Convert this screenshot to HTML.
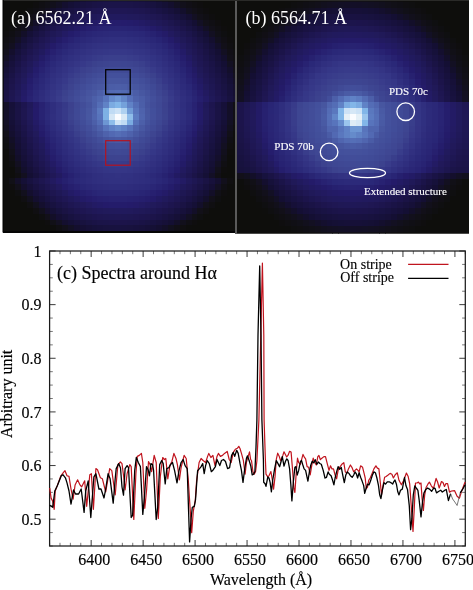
<!DOCTYPE html>
<html><head><meta charset="utf-8"><title>Spectra</title>
<style>
html,body{margin:0;padding:0;background:#fff;width:473px;height:590px;overflow:hidden}
svg{position:absolute;left:0;top:0;display:block}
text{font-family:"Liberation Serif",serif}
</style></head><body>
<svg width="473" height="590" viewBox="0 0 473 590" shape-rendering="crispEdges">
<defs>
<clipPath id="ca"><rect x="0.5" y="0" width="232" height="232.5"/></clipPath>
<clipPath id="cb"><rect x="0" y="0" width="232.2" height="233.6"/></clipPath>
</defs>
<rect x="0" y="0" width="473" height="590" fill="#fff"/>
<g transform="translate(2.5,0)" clip-path="url(#ca)">
<rect x="0" y="0" width="232.5" height="232.5" fill="#0e0e0c"/>
<rect x="-4.98" y="-3.88" width="41.46" height="6.18" fill="#0e0e0c"/><rect x="36.18" y="-3.88" width="6.18" height="6.18" fill="#0e0e0e"/><rect x="42.06" y="-3.88" width="6.18" height="6.18" fill="#0f0f11"/><rect x="47.94" y="-3.88" width="6.18" height="6.18" fill="#100f14"/><rect x="53.82" y="-3.88" width="6.18" height="6.18" fill="#111018"/><rect x="59.70" y="-3.88" width="6.18" height="6.18" fill="#12101c"/><rect x="65.58" y="-3.88" width="6.18" height="6.18" fill="#131023"/><rect x="71.46" y="-3.88" width="6.18" height="6.18" fill="#130f2b"/><rect x="77.34" y="-3.88" width="6.18" height="6.18" fill="#140f32"/><rect x="83.22" y="-3.88" width="6.18" height="6.18" fill="#151036"/><rect x="89.10" y="-3.88" width="6.18" height="6.18" fill="#161039"/><rect x="94.98" y="-3.88" width="6.18" height="6.18" fill="#17113b"/><rect x="100.86" y="-3.88" width="6.18" height="6.18" fill="#17113d"/><rect x="106.74" y="-3.88" width="17.94" height="6.18" fill="#17123e"/><rect x="124.38" y="-3.88" width="6.18" height="6.18" fill="#17113d"/><rect x="130.26" y="-3.88" width="6.18" height="6.18" fill="#17113b"/><rect x="136.14" y="-3.88" width="6.18" height="6.18" fill="#161039"/><rect x="142.02" y="-3.88" width="6.18" height="6.18" fill="#151036"/><rect x="147.90" y="-3.88" width="6.18" height="6.18" fill="#140f32"/><rect x="153.78" y="-3.88" width="6.18" height="6.18" fill="#130f2b"/><rect x="159.66" y="-3.88" width="6.18" height="6.18" fill="#131022"/><rect x="165.54" y="-3.88" width="6.18" height="6.18" fill="#12101c"/><rect x="171.42" y="-3.88" width="6.18" height="6.18" fill="#111018"/><rect x="177.30" y="-3.88" width="6.18" height="6.18" fill="#100f14"/><rect x="183.18" y="-3.88" width="6.18" height="6.18" fill="#0f0f11"/><rect x="189.06" y="-3.88" width="6.18" height="6.18" fill="#0e0e0d"/><rect x="194.94" y="-3.88" width="41.46" height="6.18" fill="#0e0e0c"/><rect x="-4.98" y="2.00" width="35.58" height="6.18" fill="#0e0e0c"/><rect x="30.30" y="2.00" width="6.18" height="6.18" fill="#0f0e0f"/><rect x="36.18" y="2.00" width="6.18" height="6.18" fill="#100f13"/><rect x="42.06" y="2.00" width="6.18" height="6.18" fill="#111017"/><rect x="47.94" y="2.00" width="6.18" height="6.18" fill="#12101c"/><rect x="53.82" y="2.00" width="6.18" height="6.18" fill="#131024"/><rect x="59.70" y="2.00" width="6.18" height="6.18" fill="#140f2f"/><rect x="65.58" y="2.00" width="6.18" height="6.18" fill="#151036"/><rect x="71.46" y="2.00" width="6.18" height="6.18" fill="#16113b"/><rect x="77.34" y="2.00" width="6.18" height="6.18" fill="#18123f"/><rect x="83.22" y="2.00" width="6.18" height="6.18" fill="#191242"/><rect x="89.10" y="2.00" width="6.18" height="6.18" fill="#1a1345"/><rect x="94.98" y="2.00" width="6.18" height="6.18" fill="#1a1347"/><rect x="100.86" y="2.00" width="6.18" height="6.18" fill="#1b1448"/><rect x="106.74" y="2.00" width="17.94" height="6.18" fill="#1b1449"/><rect x="124.38" y="2.00" width="6.18" height="6.18" fill="#1b1448"/><rect x="130.26" y="2.00" width="6.18" height="6.18" fill="#1a1347"/><rect x="136.14" y="2.00" width="6.18" height="6.18" fill="#1a1345"/><rect x="142.02" y="2.00" width="6.18" height="6.18" fill="#191242"/><rect x="147.90" y="2.00" width="6.18" height="6.18" fill="#18123f"/><rect x="153.78" y="2.00" width="6.18" height="6.18" fill="#16113a"/><rect x="159.66" y="2.00" width="6.18" height="6.18" fill="#151035"/><rect x="165.54" y="2.00" width="6.18" height="6.18" fill="#140f2e"/><rect x="171.42" y="2.00" width="6.18" height="6.18" fill="#131023"/><rect x="177.30" y="2.00" width="6.18" height="6.18" fill="#12101b"/><rect x="183.18" y="2.00" width="6.18" height="6.18" fill="#110f16"/><rect x="189.06" y="2.00" width="6.18" height="6.18" fill="#100f12"/><rect x="194.94" y="2.00" width="6.18" height="6.18" fill="#0f0e0f"/><rect x="200.82" y="2.00" width="35.58" height="6.18" fill="#0e0e0c"/><rect x="-4.98" y="7.88" width="29.70" height="6.18" fill="#0e0e0c"/><rect x="24.42" y="7.88" width="6.18" height="6.18" fill="#0f0f10"/><rect x="30.30" y="7.88" width="6.18" height="6.18" fill="#100f14"/><rect x="36.18" y="7.88" width="6.18" height="6.18" fill="#121019"/><rect x="42.06" y="7.88" width="6.18" height="6.18" fill="#131021"/><rect x="47.94" y="7.88" width="6.18" height="6.18" fill="#140f2d"/><rect x="53.82" y="7.88" width="6.18" height="6.18" fill="#151036"/><rect x="59.70" y="7.88" width="6.18" height="6.18" fill="#17113c"/><rect x="65.58" y="7.88" width="6.18" height="6.18" fill="#191241"/><rect x="71.46" y="7.88" width="6.18" height="6.18" fill="#1a1346"/><rect x="77.34" y="7.88" width="6.18" height="6.18" fill="#1c144a"/><rect x="83.22" y="7.88" width="6.18" height="6.18" fill="#1d154d"/><rect x="89.10" y="7.88" width="6.18" height="6.18" fill="#1e1650"/><rect x="94.98" y="7.88" width="6.18" height="6.18" fill="#1e1652"/><rect x="100.86" y="7.88" width="6.18" height="6.18" fill="#1e1753"/><rect x="106.74" y="7.88" width="17.94" height="6.18" fill="#1f1754"/><rect x="124.38" y="7.88" width="6.18" height="6.18" fill="#1e1753"/><rect x="130.26" y="7.88" width="6.18" height="6.18" fill="#1e1652"/><rect x="136.14" y="7.88" width="6.18" height="6.18" fill="#1e1650"/><rect x="142.02" y="7.88" width="6.18" height="6.18" fill="#1d154d"/><rect x="147.90" y="7.88" width="6.18" height="6.18" fill="#1b144a"/><rect x="153.78" y="7.88" width="6.18" height="6.18" fill="#1a1346"/><rect x="159.66" y="7.88" width="6.18" height="6.18" fill="#181241"/><rect x="165.54" y="7.88" width="6.18" height="6.18" fill="#17113c"/><rect x="171.42" y="7.88" width="6.18" height="6.18" fill="#151035"/><rect x="177.30" y="7.88" width="6.18" height="6.18" fill="#130f2c"/><rect x="183.18" y="7.88" width="6.18" height="6.18" fill="#12101f"/><rect x="189.06" y="7.88" width="6.18" height="6.18" fill="#121018"/><rect x="194.94" y="7.88" width="6.18" height="6.18" fill="#100f13"/><rect x="200.82" y="7.88" width="6.18" height="6.18" fill="#0f0e0f"/><rect x="206.70" y="7.88" width="29.70" height="6.18" fill="#0e0e0c"/><rect x="-4.98" y="13.76" width="17.94" height="6.18" fill="#0e0e0c"/><rect x="12.66" y="13.76" width="6.18" height="6.18" fill="#0e0e0d"/><rect x="18.54" y="13.76" width="6.18" height="6.18" fill="#0f0f11"/><rect x="24.42" y="13.76" width="6.18" height="6.18" fill="#110f15"/><rect x="30.30" y="13.76" width="6.18" height="6.18" fill="#12101b"/><rect x="36.18" y="13.76" width="6.18" height="6.18" fill="#131026"/><rect x="42.06" y="13.76" width="6.18" height="6.18" fill="#140f33"/><rect x="47.94" y="13.76" width="6.18" height="6.18" fill="#16113b"/><rect x="53.82" y="13.76" width="6.18" height="6.18" fill="#181241"/><rect x="59.70" y="13.76" width="6.18" height="6.18" fill="#1a1347"/><rect x="65.58" y="13.76" width="6.18" height="6.18" fill="#1c154c"/><rect x="71.46" y="13.76" width="6.18" height="6.18" fill="#1e1651"/><rect x="77.34" y="13.76" width="6.18" height="6.18" fill="#1f1754"/><rect x="83.22" y="13.76" width="6.18" height="6.18" fill="#1f1857"/><rect x="89.10" y="13.76" width="6.18" height="6.18" fill="#201959"/><rect x="94.98" y="13.76" width="6.18" height="6.18" fill="#211a5b"/><rect x="100.86" y="13.76" width="6.18" height="6.18" fill="#211a5c"/><rect x="106.74" y="13.76" width="17.94" height="6.18" fill="#211a5e"/><rect x="124.38" y="13.76" width="6.18" height="6.18" fill="#211a5c"/><rect x="130.26" y="13.76" width="6.18" height="6.18" fill="#211a5b"/><rect x="136.14" y="13.76" width="6.18" height="6.18" fill="#201959"/><rect x="142.02" y="13.76" width="6.18" height="6.18" fill="#1f1856"/><rect x="147.90" y="13.76" width="6.18" height="6.18" fill="#1f1753"/><rect x="153.78" y="13.76" width="6.18" height="6.18" fill="#1e1650"/><rect x="159.66" y="13.76" width="6.18" height="6.18" fill="#1c144b"/><rect x="165.54" y="13.76" width="6.18" height="6.18" fill="#1a1346"/><rect x="171.42" y="13.76" width="6.18" height="6.18" fill="#181240"/><rect x="177.30" y="13.76" width="6.18" height="6.18" fill="#161139"/><rect x="183.18" y="13.76" width="6.18" height="6.18" fill="#140f31"/><rect x="189.06" y="13.76" width="6.18" height="6.18" fill="#131023"/><rect x="194.94" y="13.76" width="6.18" height="6.18" fill="#121019"/><rect x="200.82" y="13.76" width="6.18" height="6.18" fill="#100f14"/><rect x="206.70" y="13.76" width="6.18" height="6.18" fill="#0f0e0f"/><rect x="212.58" y="13.76" width="23.82" height="6.18" fill="#0e0e0c"/><rect x="-4.98" y="19.64" width="17.94" height="6.18" fill="#0e0e0c"/><rect x="12.66" y="19.64" width="6.18" height="6.18" fill="#0f0f11"/><rect x="18.54" y="19.64" width="6.18" height="6.18" fill="#110f16"/><rect x="24.42" y="19.64" width="6.18" height="6.18" fill="#12101c"/><rect x="30.30" y="19.64" width="6.18" height="6.18" fill="#130f29"/><rect x="36.18" y="19.64" width="6.18" height="6.18" fill="#151036"/><rect x="42.06" y="19.64" width="6.18" height="6.18" fill="#17123e"/><rect x="47.94" y="19.64" width="6.18" height="6.18" fill="#1a1345"/><rect x="53.82" y="19.64" width="6.18" height="6.18" fill="#1c144b"/><rect x="59.70" y="19.64" width="6.18" height="6.18" fill="#1e1651"/><rect x="65.58" y="19.64" width="6.18" height="6.18" fill="#1f1855"/><rect x="71.46" y="19.64" width="6.18" height="6.18" fill="#201959"/><rect x="77.34" y="19.64" width="6.18" height="6.18" fill="#211a5d"/><rect x="83.22" y="19.64" width="6.18" height="6.18" fill="#221a62"/><rect x="89.10" y="19.64" width="6.18" height="6.18" fill="#231b66"/><rect x="94.98" y="19.64" width="6.18" height="6.18" fill="#241b69"/><rect x="100.86" y="19.64" width="6.18" height="6.18" fill="#241c6b"/><rect x="106.74" y="19.64" width="6.18" height="6.18" fill="#251c6c"/><rect x="112.62" y="19.64" width="6.18" height="6.18" fill="#251d6c"/><rect x="118.50" y="19.64" width="6.18" height="6.18" fill="#251c6c"/><rect x="124.38" y="19.64" width="6.18" height="6.18" fill="#241c6b"/><rect x="130.26" y="19.64" width="6.18" height="6.18" fill="#241b69"/><rect x="136.14" y="19.64" width="6.18" height="6.18" fill="#231b65"/><rect x="142.02" y="19.64" width="6.18" height="6.18" fill="#221a61"/><rect x="147.90" y="19.64" width="6.18" height="6.18" fill="#211a5c"/><rect x="153.78" y="19.64" width="6.18" height="6.18" fill="#201958"/><rect x="159.66" y="19.64" width="6.18" height="6.18" fill="#1f1754"/><rect x="165.54" y="19.64" width="6.18" height="6.18" fill="#1d164f"/><rect x="171.42" y="19.64" width="6.18" height="6.18" fill="#1b1449"/><rect x="177.30" y="19.64" width="6.18" height="6.18" fill="#191343"/><rect x="183.18" y="19.64" width="6.18" height="6.18" fill="#17113c"/><rect x="189.06" y="19.64" width="6.18" height="6.18" fill="#140f33"/><rect x="194.94" y="19.64" width="6.18" height="6.18" fill="#131025"/><rect x="200.82" y="19.64" width="6.18" height="6.18" fill="#121019"/><rect x="206.70" y="19.64" width="6.18" height="6.18" fill="#100f14"/><rect x="212.58" y="19.64" width="6.18" height="6.18" fill="#0f0e0f"/><rect x="218.46" y="19.64" width="17.94" height="6.18" fill="#0e0e0c"/><rect x="-4.98" y="25.52" width="12.06" height="6.18" fill="#0e0e0c"/><rect x="6.78" y="25.52" width="6.18" height="6.18" fill="#0f0f10"/><rect x="12.66" y="25.52" width="6.18" height="6.18" fill="#110f15"/><rect x="18.54" y="25.52" width="6.18" height="6.18" fill="#12101c"/><rect x="24.42" y="25.52" width="6.18" height="6.18" fill="#130f2a"/><rect x="30.30" y="25.52" width="6.18" height="6.18" fill="#151037"/><rect x="36.18" y="25.52" width="6.18" height="6.18" fill="#181240"/><rect x="42.06" y="25.52" width="6.18" height="6.18" fill="#1b1447"/><rect x="47.94" y="25.52" width="6.18" height="6.18" fill="#1d154e"/><rect x="53.82" y="25.52" width="6.18" height="6.18" fill="#1f1754"/><rect x="59.70" y="25.52" width="6.18" height="6.18" fill="#201959"/><rect x="65.58" y="25.52" width="6.18" height="6.18" fill="#211a5e"/><rect x="71.46" y="25.52" width="6.18" height="6.18" fill="#231b65"/><rect x="77.34" y="25.52" width="6.18" height="6.18" fill="#241c6b"/><rect x="83.22" y="25.52" width="6.18" height="6.18" fill="#261e6e"/><rect x="89.10" y="25.52" width="6.18" height="6.18" fill="#272070"/><rect x="94.98" y="25.52" width="6.18" height="6.18" fill="#282272"/><rect x="100.86" y="25.52" width="6.18" height="6.18" fill="#282373"/><rect x="106.74" y="25.52" width="6.18" height="6.18" fill="#282474"/><rect x="112.62" y="25.52" width="6.18" height="6.18" fill="#292474"/><rect x="118.50" y="25.52" width="6.18" height="6.18" fill="#282474"/><rect x="124.38" y="25.52" width="6.18" height="6.18" fill="#282373"/><rect x="130.26" y="25.52" width="6.18" height="6.18" fill="#272272"/><rect x="136.14" y="25.52" width="6.18" height="6.18" fill="#272070"/><rect x="142.02" y="25.52" width="6.18" height="6.18" fill="#251e6d"/><rect x="147.90" y="25.52" width="6.18" height="6.18" fill="#241b69"/><rect x="153.78" y="25.52" width="6.18" height="6.18" fill="#221a63"/><rect x="159.66" y="25.52" width="6.18" height="6.18" fill="#211a5c"/><rect x="165.54" y="25.52" width="6.18" height="6.18" fill="#201857"/><rect x="171.42" y="25.52" width="6.18" height="6.18" fill="#1e1652"/><rect x="177.30" y="25.52" width="6.18" height="6.18" fill="#1c144b"/><rect x="183.18" y="25.52" width="6.18" height="6.18" fill="#191344"/><rect x="189.06" y="25.52" width="6.18" height="6.18" fill="#17113d"/><rect x="194.94" y="25.52" width="6.18" height="6.18" fill="#150f34"/><rect x="200.82" y="25.52" width="6.18" height="6.18" fill="#131025"/><rect x="206.70" y="25.52" width="6.18" height="6.18" fill="#121019"/><rect x="212.58" y="25.52" width="6.18" height="6.18" fill="#100f13"/><rect x="218.46" y="25.52" width="6.18" height="6.18" fill="#0f0e0e"/><rect x="224.34" y="25.52" width="12.06" height="6.18" fill="#0e0e0c"/><rect x="-4.98" y="31.40" width="6.18" height="6.18" fill="#0e0e0c"/><rect x="0.90" y="31.40" width="6.18" height="6.18" fill="#0f0e0f"/><rect x="6.78" y="31.40" width="6.18" height="6.18" fill="#100f14"/><rect x="12.66" y="31.40" width="6.18" height="6.18" fill="#12101b"/><rect x="18.54" y="31.40" width="6.18" height="6.18" fill="#130f29"/><rect x="24.42" y="31.40" width="6.18" height="6.18" fill="#151037"/><rect x="30.30" y="31.40" width="6.18" height="6.18" fill="#181240"/><rect x="36.18" y="31.40" width="6.18" height="6.18" fill="#1b1448"/><rect x="42.06" y="31.40" width="6.18" height="6.18" fill="#1e1650"/><rect x="47.94" y="31.40" width="6.18" height="6.18" fill="#1f1856"/><rect x="53.82" y="31.40" width="6.18" height="6.18" fill="#211a5b"/><rect x="59.70" y="31.40" width="6.18" height="6.18" fill="#231b64"/><rect x="65.58" y="31.40" width="6.18" height="6.18" fill="#241c6b"/><rect x="71.46" y="31.40" width="6.18" height="6.18" fill="#261f6f"/><rect x="77.34" y="31.40" width="6.18" height="6.18" fill="#282372"/><rect x="83.22" y="31.40" width="6.18" height="6.18" fill="#292575"/><rect x="89.10" y="31.40" width="6.18" height="6.18" fill="#2a2777"/><rect x="94.98" y="31.40" width="6.18" height="6.18" fill="#2b2878"/><rect x="100.86" y="31.40" width="6.18" height="6.18" fill="#2c2979"/><rect x="106.74" y="31.40" width="17.94" height="6.18" fill="#2c2a7a"/><rect x="124.38" y="31.40" width="6.18" height="6.18" fill="#2b2979"/><rect x="130.26" y="31.40" width="6.18" height="6.18" fill="#2b2878"/><rect x="136.14" y="31.40" width="6.18" height="6.18" fill="#2a2777"/><rect x="142.02" y="31.40" width="6.18" height="6.18" fill="#292474"/><rect x="147.90" y="31.40" width="6.18" height="6.18" fill="#272271"/><rect x="153.78" y="31.40" width="6.18" height="6.18" fill="#251e6d"/><rect x="159.66" y="31.40" width="6.18" height="6.18" fill="#241b68"/><rect x="165.54" y="31.40" width="6.18" height="6.18" fill="#221a5f"/><rect x="171.42" y="31.40" width="6.18" height="6.18" fill="#201958"/><rect x="177.30" y="31.40" width="6.18" height="6.18" fill="#1e1752"/><rect x="183.18" y="31.40" width="6.18" height="6.18" fill="#1c154c"/><rect x="189.06" y="31.40" width="6.18" height="6.18" fill="#191344"/><rect x="194.94" y="31.40" width="6.18" height="6.18" fill="#17113c"/><rect x="200.82" y="31.40" width="6.18" height="6.18" fill="#140f33"/><rect x="206.70" y="31.40" width="6.18" height="6.18" fill="#131022"/><rect x="212.58" y="31.40" width="6.18" height="6.18" fill="#111017"/><rect x="218.46" y="31.40" width="6.18" height="6.18" fill="#0f0f11"/><rect x="224.34" y="31.40" width="6.18" height="6.18" fill="#0e0e0d"/><rect x="230.22" y="31.40" width="6.18" height="6.18" fill="#0e0e0c"/><rect x="-4.98" y="37.28" width="6.18" height="6.18" fill="#0e0e0e"/><rect x="0.90" y="37.28" width="6.18" height="6.18" fill="#100f13"/><rect x="6.78" y="37.28" width="6.18" height="6.18" fill="#121019"/><rect x="12.66" y="37.28" width="6.18" height="6.18" fill="#131026"/><rect x="18.54" y="37.28" width="6.18" height="6.18" fill="#151036"/><rect x="24.42" y="37.28" width="6.18" height="6.18" fill="#181240"/><rect x="30.30" y="37.28" width="6.18" height="6.18" fill="#1b1448"/><rect x="36.18" y="37.28" width="6.18" height="6.18" fill="#1e1651"/><rect x="42.06" y="37.28" width="6.18" height="6.18" fill="#201857"/><rect x="47.94" y="37.28" width="6.18" height="6.18" fill="#211a5e"/><rect x="53.82" y="37.28" width="6.18" height="6.18" fill="#231b67"/><rect x="59.70" y="37.28" width="6.18" height="6.18" fill="#261e6e"/><rect x="65.58" y="37.28" width="6.18" height="6.18" fill="#282272"/><rect x="71.46" y="37.28" width="6.18" height="6.18" fill="#292676"/><rect x="77.34" y="37.28" width="6.18" height="6.18" fill="#2b2878"/><rect x="83.22" y="37.28" width="6.18" height="6.18" fill="#2c2a7a"/><rect x="89.10" y="37.28" width="6.18" height="6.18" fill="#2e2c7c"/><rect x="94.98" y="37.28" width="6.18" height="6.18" fill="#2f2d7d"/><rect x="100.86" y="37.28" width="6.18" height="6.18" fill="#2f2e7e"/><rect x="106.74" y="37.28" width="17.94" height="6.18" fill="#302f7f"/><rect x="124.38" y="37.28" width="6.18" height="6.18" fill="#2f2e7e"/><rect x="130.26" y="37.28" width="6.18" height="6.18" fill="#2e2d7d"/><rect x="136.14" y="37.28" width="6.18" height="6.18" fill="#2d2b7b"/><rect x="142.02" y="37.28" width="6.18" height="6.18" fill="#2c2979"/><rect x="147.90" y="37.28" width="6.18" height="6.18" fill="#2a2777"/><rect x="153.78" y="37.28" width="6.18" height="6.18" fill="#282474"/><rect x="159.66" y="37.28" width="6.18" height="6.18" fill="#26206f"/><rect x="165.54" y="37.28" width="6.18" height="6.18" fill="#241b6a"/><rect x="171.42" y="37.28" width="6.18" height="6.18" fill="#221a60"/><rect x="177.30" y="37.28" width="6.18" height="6.18" fill="#201958"/><rect x="183.18" y="37.28" width="6.18" height="6.18" fill="#1e1652"/><rect x="189.06" y="37.28" width="6.18" height="6.18" fill="#1c144b"/><rect x="194.94" y="37.28" width="6.18" height="6.18" fill="#191342"/><rect x="200.82" y="37.28" width="6.18" height="6.18" fill="#16113a"/><rect x="206.70" y="37.28" width="6.18" height="6.18" fill="#140f2f"/><rect x="212.58" y="37.28" width="6.18" height="6.18" fill="#12101e"/><rect x="218.46" y="37.28" width="6.18" height="6.18" fill="#110f15"/><rect x="224.34" y="37.28" width="6.18" height="6.18" fill="#0f0e0f"/><rect x="230.22" y="37.28" width="6.18" height="6.18" fill="#0e0e0c"/><rect x="-4.98" y="43.16" width="6.18" height="6.18" fill="#0f0f11"/><rect x="0.90" y="43.16" width="6.18" height="6.18" fill="#111017"/><rect x="6.78" y="43.16" width="6.18" height="6.18" fill="#131021"/><rect x="12.66" y="43.16" width="6.18" height="6.18" fill="#140f33"/><rect x="18.54" y="43.16" width="6.18" height="6.18" fill="#17123e"/><rect x="24.42" y="43.16" width="6.18" height="6.18" fill="#1b1447"/><rect x="30.30" y="43.16" width="6.18" height="6.18" fill="#1e1650"/><rect x="36.18" y="43.16" width="6.18" height="6.18" fill="#201857"/><rect x="42.06" y="43.16" width="6.18" height="6.18" fill="#221a5f"/><rect x="47.94" y="43.16" width="6.18" height="6.18" fill="#241b69"/><rect x="53.82" y="43.16" width="6.18" height="6.18" fill="#26206f"/><rect x="59.70" y="43.16" width="6.18" height="6.18" fill="#292474"/><rect x="65.58" y="43.16" width="6.18" height="6.18" fill="#2b2878"/><rect x="71.46" y="43.16" width="6.18" height="6.18" fill="#2d2a7a"/><rect x="77.34" y="43.16" width="6.18" height="6.18" fill="#2e2d7d"/><rect x="83.22" y="43.16" width="6.18" height="6.18" fill="#302f7f"/><rect x="89.10" y="43.16" width="6.18" height="6.18" fill="#313181"/><rect x="94.98" y="43.16" width="6.18" height="6.18" fill="#323282"/><rect x="100.86" y="43.16" width="6.18" height="6.18" fill="#323383"/><rect x="106.74" y="43.16" width="17.94" height="6.18" fill="#333383"/><rect x="124.38" y="43.16" width="6.18" height="6.18" fill="#323282"/><rect x="130.26" y="43.16" width="6.18" height="6.18" fill="#313181"/><rect x="136.14" y="43.16" width="6.18" height="6.18" fill="#303080"/><rect x="142.02" y="43.16" width="6.18" height="6.18" fill="#2f2e7e"/><rect x="147.90" y="43.16" width="6.18" height="6.18" fill="#2d2b7b"/><rect x="153.78" y="43.16" width="6.18" height="6.18" fill="#2b2979"/><rect x="159.66" y="43.16" width="6.18" height="6.18" fill="#292575"/><rect x="165.54" y="43.16" width="6.18" height="6.18" fill="#272070"/><rect x="171.42" y="43.16" width="6.18" height="6.18" fill="#241b6a"/><rect x="177.30" y="43.16" width="6.18" height="6.18" fill="#221a5f"/><rect x="183.18" y="43.16" width="6.18" height="6.18" fill="#1f1857"/><rect x="189.06" y="43.16" width="6.18" height="6.18" fill="#1d1650"/><rect x="194.94" y="43.16" width="6.18" height="6.18" fill="#1b1449"/><rect x="200.82" y="43.16" width="6.18" height="6.18" fill="#181240"/><rect x="206.70" y="43.16" width="6.18" height="6.18" fill="#151037"/><rect x="212.58" y="43.16" width="6.18" height="6.18" fill="#130f29"/><rect x="218.46" y="43.16" width="6.18" height="6.18" fill="#121019"/><rect x="224.34" y="43.16" width="6.18" height="6.18" fill="#100f12"/><rect x="230.22" y="43.16" width="6.18" height="6.18" fill="#0e0e0d"/><rect x="-4.98" y="49.04" width="6.18" height="6.18" fill="#100f14"/><rect x="0.90" y="49.04" width="6.18" height="6.18" fill="#12101c"/><rect x="6.78" y="49.04" width="6.18" height="6.18" fill="#140f2d"/><rect x="12.66" y="49.04" width="6.18" height="6.18" fill="#16113b"/><rect x="18.54" y="49.04" width="6.18" height="6.18" fill="#1a1345"/><rect x="24.42" y="49.04" width="6.18" height="6.18" fill="#1d154e"/><rect x="30.30" y="49.04" width="6.18" height="6.18" fill="#1f1856"/><rect x="36.18" y="49.04" width="6.18" height="6.18" fill="#211a5e"/><rect x="42.06" y="49.04" width="6.18" height="6.18" fill="#241b69"/><rect x="47.94" y="49.04" width="6.18" height="6.18" fill="#272070"/><rect x="53.82" y="49.04" width="6.18" height="6.18" fill="#292575"/><rect x="59.70" y="49.04" width="6.18" height="6.18" fill="#2b2979"/><rect x="65.58" y="49.04" width="6.18" height="6.18" fill="#2e2c7c"/><rect x="71.46" y="49.04" width="6.18" height="6.18" fill="#302f7f"/><rect x="77.34" y="49.04" width="6.18" height="6.18" fill="#313181"/><rect x="83.22" y="49.04" width="6.18" height="6.18" fill="#333383"/><rect x="89.10" y="49.04" width="6.18" height="6.18" fill="#343585"/><rect x="94.98" y="49.04" width="6.18" height="6.18" fill="#353686"/><rect x="100.86" y="49.04" width="6.18" height="6.18" fill="#353787"/><rect x="106.74" y="49.04" width="17.94" height="6.18" fill="#363888"/><rect x="124.38" y="49.04" width="6.18" height="6.18" fill="#353787"/><rect x="130.26" y="49.04" width="6.18" height="6.18" fill="#343585"/><rect x="136.14" y="49.04" width="6.18" height="6.18" fill="#333484"/><rect x="142.02" y="49.04" width="6.18" height="6.18" fill="#323282"/><rect x="147.90" y="49.04" width="6.18" height="6.18" fill="#302f7f"/><rect x="153.78" y="49.04" width="6.18" height="6.18" fill="#2e2c7c"/><rect x="159.66" y="49.04" width="6.18" height="6.18" fill="#2b2979"/><rect x="165.54" y="49.04" width="6.18" height="6.18" fill="#292574"/><rect x="171.42" y="49.04" width="6.18" height="6.18" fill="#261f6f"/><rect x="177.30" y="49.04" width="6.18" height="6.18" fill="#231b67"/><rect x="183.18" y="49.04" width="6.18" height="6.18" fill="#211a5b"/><rect x="189.06" y="49.04" width="6.18" height="6.18" fill="#1f1754"/><rect x="194.94" y="49.04" width="6.18" height="6.18" fill="#1d154d"/><rect x="200.82" y="49.04" width="6.18" height="6.18" fill="#1a1345"/><rect x="206.70" y="49.04" width="6.18" height="6.18" fill="#17113c"/><rect x="212.58" y="49.04" width="6.18" height="6.18" fill="#140f33"/><rect x="218.46" y="49.04" width="6.18" height="6.18" fill="#131022"/><rect x="224.34" y="49.04" width="6.18" height="6.18" fill="#110f16"/><rect x="230.22" y="49.04" width="6.18" height="6.18" fill="#0f0f10"/><rect x="-4.98" y="54.92" width="6.18" height="6.18" fill="#111018"/><rect x="0.90" y="54.92" width="6.18" height="6.18" fill="#131024"/><rect x="6.78" y="54.92" width="6.18" height="6.18" fill="#151036"/><rect x="12.66" y="54.92" width="6.18" height="6.18" fill="#181241"/><rect x="18.54" y="54.92" width="6.18" height="6.18" fill="#1c144b"/><rect x="24.42" y="54.92" width="6.18" height="6.18" fill="#1f1754"/><rect x="30.30" y="54.92" width="6.18" height="6.18" fill="#211a5b"/><rect x="36.18" y="54.92" width="6.18" height="6.18" fill="#231b67"/><rect x="42.06" y="54.92" width="6.18" height="6.18" fill="#26206f"/><rect x="47.94" y="54.92" width="6.18" height="6.18" fill="#292575"/><rect x="53.82" y="54.92" width="6.18" height="6.18" fill="#2c2979"/><rect x="59.70" y="54.92" width="6.18" height="6.18" fill="#2e2d7d"/><rect x="65.58" y="54.92" width="6.18" height="6.18" fill="#303080"/><rect x="71.46" y="54.92" width="6.18" height="6.18" fill="#323282"/><rect x="77.34" y="54.92" width="6.18" height="6.18" fill="#343585"/><rect x="83.22" y="54.92" width="6.18" height="6.18" fill="#353787"/><rect x="89.10" y="54.92" width="6.18" height="6.18" fill="#373a89"/><rect x="94.98" y="54.92" width="6.18" height="6.18" fill="#383c8a"/><rect x="100.86" y="54.92" width="6.18" height="6.18" fill="#3a3e8c"/><rect x="106.74" y="54.92" width="17.94" height="6.18" fill="#3a3f8c"/><rect x="124.38" y="54.92" width="6.18" height="6.18" fill="#393d8b"/><rect x="130.26" y="54.92" width="6.18" height="6.18" fill="#383b8a"/><rect x="136.14" y="54.92" width="6.18" height="6.18" fill="#363888"/><rect x="142.02" y="54.92" width="6.18" height="6.18" fill="#343686"/><rect x="147.90" y="54.92" width="6.18" height="6.18" fill="#323383"/><rect x="153.78" y="54.92" width="6.18" height="6.18" fill="#303080"/><rect x="159.66" y="54.92" width="6.18" height="6.18" fill="#2e2c7c"/><rect x="165.54" y="54.92" width="6.18" height="6.18" fill="#2b2878"/><rect x="171.42" y="54.92" width="6.18" height="6.18" fill="#282373"/><rect x="177.30" y="54.92" width="6.18" height="6.18" fill="#251d6d"/><rect x="183.18" y="54.92" width="6.18" height="6.18" fill="#221a63"/><rect x="189.06" y="54.92" width="6.18" height="6.18" fill="#201958"/><rect x="194.94" y="54.92" width="6.18" height="6.18" fill="#1e1651"/><rect x="200.82" y="54.92" width="6.18" height="6.18" fill="#1b1449"/><rect x="206.70" y="54.92" width="6.18" height="6.18" fill="#181241"/><rect x="212.58" y="54.92" width="6.18" height="6.18" fill="#161038"/><rect x="218.46" y="54.92" width="6.18" height="6.18" fill="#130f2c"/><rect x="224.34" y="54.92" width="6.18" height="6.18" fill="#121019"/><rect x="230.22" y="54.92" width="6.18" height="6.18" fill="#100f13"/><rect x="-4.98" y="60.80" width="6.18" height="6.18" fill="#12101c"/><rect x="0.90" y="60.80" width="6.18" height="6.18" fill="#140f2f"/><rect x="6.78" y="60.80" width="6.18" height="6.18" fill="#17113c"/><rect x="12.66" y="60.80" width="6.18" height="6.18" fill="#1a1347"/><rect x="18.54" y="60.80" width="6.18" height="6.18" fill="#1e1651"/><rect x="24.42" y="60.80" width="6.18" height="6.18" fill="#201959"/><rect x="30.30" y="60.80" width="6.18" height="6.18" fill="#231b64"/><rect x="36.18" y="60.80" width="6.18" height="6.18" fill="#261e6e"/><rect x="42.06" y="60.80" width="6.18" height="6.18" fill="#292474"/><rect x="47.94" y="60.80" width="6.18" height="6.18" fill="#2b2979"/><rect x="53.82" y="60.80" width="6.18" height="6.18" fill="#2e2d7d"/><rect x="59.70" y="60.80" width="6.18" height="6.18" fill="#313080"/><rect x="65.58" y="60.80" width="6.18" height="6.18" fill="#333383"/><rect x="71.46" y="60.80" width="6.18" height="6.18" fill="#353686"/><rect x="77.34" y="60.80" width="6.18" height="6.18" fill="#373989"/><rect x="83.22" y="60.80" width="6.18" height="6.18" fill="#393d8b"/><rect x="89.10" y="60.80" width="6.18" height="6.18" fill="#3b418d"/><rect x="94.98" y="60.80" width="6.18" height="6.18" fill="#3c438f"/><rect x="100.86" y="60.80" width="6.18" height="6.18" fill="#3d4490"/><rect x="106.74" y="60.80" width="12.06" height="6.18" fill="#3e4591"/><rect x="118.50" y="60.80" width="6.18" height="6.18" fill="#3d4591"/><rect x="124.38" y="60.80" width="6.18" height="6.18" fill="#3d4490"/><rect x="130.26" y="60.80" width="6.18" height="6.18" fill="#3c428e"/><rect x="136.14" y="60.80" width="6.18" height="6.18" fill="#3a3f8c"/><rect x="142.02" y="60.80" width="6.18" height="6.18" fill="#373a89"/><rect x="147.90" y="60.80" width="6.18" height="6.18" fill="#353686"/><rect x="153.78" y="60.80" width="6.18" height="6.18" fill="#323383"/><rect x="159.66" y="60.80" width="6.18" height="6.18" fill="#302f7f"/><rect x="165.54" y="60.80" width="6.18" height="6.18" fill="#2d2b7b"/><rect x="171.42" y="60.80" width="6.18" height="6.18" fill="#2a2777"/><rect x="177.30" y="60.80" width="6.18" height="6.18" fill="#272170"/><rect x="183.18" y="60.80" width="6.18" height="6.18" fill="#241b69"/><rect x="189.06" y="60.80" width="6.18" height="6.18" fill="#211a5c"/><rect x="194.94" y="60.80" width="6.18" height="6.18" fill="#1f1754"/><rect x="200.82" y="60.80" width="6.18" height="6.18" fill="#1d154d"/><rect x="206.70" y="60.80" width="6.18" height="6.18" fill="#1a1346"/><rect x="212.58" y="60.80" width="6.18" height="6.18" fill="#17113d"/><rect x="218.46" y="60.80" width="6.18" height="6.18" fill="#140f34"/><rect x="224.34" y="60.80" width="6.18" height="6.18" fill="#131022"/><rect x="230.22" y="60.80" width="6.18" height="6.18" fill="#110f15"/><rect x="-4.98" y="66.68" width="6.18" height="6.18" fill="#131023"/><rect x="0.90" y="66.68" width="6.18" height="6.18" fill="#151036"/><rect x="6.78" y="66.68" width="6.18" height="6.18" fill="#191241"/><rect x="12.66" y="66.68" width="6.18" height="6.18" fill="#1c154c"/><rect x="18.54" y="66.68" width="6.18" height="6.18" fill="#1f1855"/><rect x="24.42" y="66.68" width="6.18" height="6.18" fill="#211a5e"/><rect x="30.30" y="66.68" width="6.18" height="6.18" fill="#241c6b"/><rect x="36.18" y="66.68" width="6.18" height="6.18" fill="#282272"/><rect x="42.06" y="66.68" width="6.18" height="6.18" fill="#2b2878"/><rect x="47.94" y="66.68" width="6.18" height="6.18" fill="#2e2c7c"/><rect x="53.82" y="66.68" width="6.18" height="6.18" fill="#303080"/><rect x="59.70" y="66.68" width="6.18" height="6.18" fill="#333383"/><rect x="65.58" y="66.68" width="6.18" height="6.18" fill="#353787"/><rect x="71.46" y="66.68" width="6.18" height="6.18" fill="#383b8a"/><rect x="77.34" y="66.68" width="6.18" height="6.18" fill="#3b408d"/><rect x="83.22" y="66.68" width="6.18" height="6.18" fill="#3d438f"/><rect x="89.10" y="66.68" width="6.18" height="6.18" fill="#3e4692"/><rect x="94.98" y="66.68" width="6.18" height="6.18" fill="#3f4894"/><rect x="100.86" y="66.68" width="6.18" height="6.18" fill="#404a96"/><rect x="106.74" y="66.68" width="12.06" height="6.18" fill="#404b97"/><rect x="118.50" y="66.68" width="6.18" height="6.18" fill="#404a96"/><rect x="124.38" y="66.68" width="6.18" height="6.18" fill="#404995"/><rect x="130.26" y="66.68" width="6.18" height="6.18" fill="#3f4793"/><rect x="136.14" y="66.68" width="6.18" height="6.18" fill="#3d4490"/><rect x="142.02" y="66.68" width="6.18" height="6.18" fill="#3b408d"/><rect x="147.90" y="66.68" width="6.18" height="6.18" fill="#383b8a"/><rect x="153.78" y="66.68" width="6.18" height="6.18" fill="#353686"/><rect x="159.66" y="66.68" width="6.18" height="6.18" fill="#323282"/><rect x="165.54" y="66.68" width="6.18" height="6.18" fill="#2f2e7e"/><rect x="171.42" y="66.68" width="6.18" height="6.18" fill="#2c2979"/><rect x="177.30" y="66.68" width="6.18" height="6.18" fill="#282474"/><rect x="183.18" y="66.68" width="6.18" height="6.18" fill="#251e6d"/><rect x="189.06" y="66.68" width="6.18" height="6.18" fill="#221a63"/><rect x="194.94" y="66.68" width="6.18" height="6.18" fill="#201958"/><rect x="200.82" y="66.68" width="6.18" height="6.18" fill="#1e1650"/><rect x="206.70" y="66.68" width="6.18" height="6.18" fill="#1b1449"/><rect x="212.58" y="66.68" width="6.18" height="6.18" fill="#181241"/><rect x="218.46" y="66.68" width="6.18" height="6.18" fill="#161038"/><rect x="224.34" y="66.68" width="6.18" height="6.18" fill="#130f2b"/><rect x="230.22" y="66.68" width="6.18" height="6.18" fill="#121018"/><rect x="-4.98" y="72.56" width="6.18" height="6.18" fill="#130f2b"/><rect x="0.90" y="72.56" width="6.18" height="6.18" fill="#16113b"/><rect x="6.78" y="72.56" width="6.18" height="6.18" fill="#1a1346"/><rect x="12.66" y="72.56" width="6.18" height="6.18" fill="#1e1651"/><rect x="18.54" y="72.56" width="6.18" height="6.18" fill="#201959"/><rect x="24.42" y="72.56" width="6.18" height="6.18" fill="#231b65"/><rect x="30.30" y="72.56" width="6.18" height="6.18" fill="#261f6f"/><rect x="36.18" y="72.56" width="6.18" height="6.18" fill="#292676"/><rect x="42.06" y="72.56" width="6.18" height="6.18" fill="#2d2a7a"/><rect x="47.94" y="72.56" width="6.18" height="6.18" fill="#302f7f"/><rect x="53.82" y="72.56" width="6.18" height="6.18" fill="#323282"/><rect x="59.70" y="72.56" width="6.18" height="6.18" fill="#353686"/><rect x="65.58" y="72.56" width="6.18" height="6.18" fill="#383b8a"/><rect x="71.46" y="72.56" width="6.18" height="6.18" fill="#3b408d"/><rect x="77.34" y="72.56" width="6.18" height="6.18" fill="#3d4490"/><rect x="83.22" y="72.56" width="6.18" height="6.18" fill="#3f4894"/><rect x="89.10" y="72.56" width="6.18" height="6.18" fill="#404b97"/><rect x="94.98" y="72.56" width="6.18" height="6.18" fill="#424d99"/><rect x="100.86" y="72.56" width="6.18" height="6.18" fill="#434f9b"/><rect x="106.74" y="72.56" width="12.06" height="6.18" fill="#43509c"/><rect x="118.50" y="72.56" width="6.18" height="6.18" fill="#43509b"/><rect x="124.38" y="72.56" width="6.18" height="6.18" fill="#424e9a"/><rect x="130.26" y="72.56" width="6.18" height="6.18" fill="#414c98"/><rect x="136.14" y="72.56" width="6.18" height="6.18" fill="#404995"/><rect x="142.02" y="72.56" width="6.18" height="6.18" fill="#3e4591"/><rect x="147.90" y="72.56" width="6.18" height="6.18" fill="#3b418d"/><rect x="153.78" y="72.56" width="6.18" height="6.18" fill="#373a89"/><rect x="159.66" y="72.56" width="6.18" height="6.18" fill="#343585"/><rect x="165.54" y="72.56" width="6.18" height="6.18" fill="#313080"/><rect x="171.42" y="72.56" width="6.18" height="6.18" fill="#2d2c7c"/><rect x="177.30" y="72.56" width="6.18" height="6.18" fill="#2a2777"/><rect x="183.18" y="72.56" width="6.18" height="6.18" fill="#272070"/><rect x="189.06" y="72.56" width="6.18" height="6.18" fill="#241b68"/><rect x="194.94" y="72.56" width="6.18" height="6.18" fill="#211a5c"/><rect x="200.82" y="72.56" width="6.18" height="6.18" fill="#1f1754"/><rect x="206.70" y="72.56" width="6.18" height="6.18" fill="#1c154c"/><rect x="212.58" y="72.56" width="6.18" height="6.18" fill="#1a1345"/><rect x="218.46" y="72.56" width="6.18" height="6.18" fill="#17113c"/><rect x="224.34" y="72.56" width="6.18" height="6.18" fill="#140f32"/><rect x="230.22" y="72.56" width="6.18" height="6.18" fill="#12101f"/><rect x="-4.98" y="78.44" width="6.18" height="6.18" fill="#140f32"/><rect x="0.90" y="78.44" width="6.18" height="6.18" fill="#18123f"/><rect x="6.78" y="78.44" width="6.18" height="6.18" fill="#1c144a"/><rect x="12.66" y="78.44" width="6.18" height="6.18" fill="#1f1754"/><rect x="18.54" y="78.44" width="6.18" height="6.18" fill="#211a5d"/><rect x="24.42" y="78.44" width="6.18" height="6.18" fill="#241c6b"/><rect x="30.30" y="78.44" width="6.18" height="6.18" fill="#282372"/><rect x="36.18" y="78.44" width="6.18" height="6.18" fill="#2b2878"/><rect x="42.06" y="78.44" width="6.18" height="6.18" fill="#2e2d7d"/><rect x="47.94" y="78.44" width="6.18" height="6.18" fill="#313181"/><rect x="53.82" y="78.44" width="6.18" height="6.18" fill="#343585"/><rect x="59.70" y="78.44" width="6.18" height="6.18" fill="#373989"/><rect x="65.58" y="78.44" width="6.18" height="6.18" fill="#3b408d"/><rect x="71.46" y="78.44" width="6.18" height="6.18" fill="#3d4490"/><rect x="77.34" y="78.44" width="6.18" height="6.18" fill="#3f4894"/><rect x="83.22" y="78.44" width="6.18" height="6.18" fill="#414c98"/><rect x="89.10" y="78.44" width="6.18" height="6.18" fill="#434f9b"/><rect x="94.98" y="78.44" width="6.18" height="6.18" fill="#45529d"/><rect x="100.86" y="78.44" width="6.18" height="6.18" fill="#46549f"/><rect x="106.74" y="78.44" width="12.06" height="6.18" fill="#4756a0"/><rect x="118.50" y="78.44" width="6.18" height="6.18" fill="#4655a0"/><rect x="124.38" y="78.44" width="6.18" height="6.18" fill="#45549f"/><rect x="130.26" y="78.44" width="6.18" height="6.18" fill="#44519c"/><rect x="136.14" y="78.44" width="6.18" height="6.18" fill="#424e9a"/><rect x="142.02" y="78.44" width="6.18" height="6.18" fill="#404a96"/><rect x="147.90" y="78.44" width="6.18" height="6.18" fill="#3d4591"/><rect x="153.78" y="78.44" width="6.18" height="6.18" fill="#3a3f8c"/><rect x="159.66" y="78.44" width="6.18" height="6.18" fill="#363787"/><rect x="165.54" y="78.44" width="6.18" height="6.18" fill="#323383"/><rect x="171.42" y="78.44" width="6.18" height="6.18" fill="#2f2e7e"/><rect x="177.30" y="78.44" width="6.18" height="6.18" fill="#2c2979"/><rect x="183.18" y="78.44" width="6.18" height="6.18" fill="#282373"/><rect x="189.06" y="78.44" width="6.18" height="6.18" fill="#251d6c"/><rect x="194.94" y="78.44" width="6.18" height="6.18" fill="#221a62"/><rect x="200.82" y="78.44" width="6.18" height="6.18" fill="#201857"/><rect x="206.70" y="78.44" width="6.18" height="6.18" fill="#1d1650"/><rect x="212.58" y="78.44" width="6.18" height="6.18" fill="#1b1448"/><rect x="218.46" y="78.44" width="6.18" height="6.18" fill="#181240"/><rect x="224.34" y="78.44" width="6.18" height="6.18" fill="#151036"/><rect x="230.22" y="78.44" width="6.18" height="6.18" fill="#130f26"/><rect x="-4.98" y="84.32" width="6.18" height="6.18" fill="#151036"/><rect x="0.90" y="84.32" width="6.18" height="6.18" fill="#191242"/><rect x="6.78" y="84.32" width="6.18" height="6.18" fill="#1d154d"/><rect x="12.66" y="84.32" width="6.18" height="6.18" fill="#1f1857"/><rect x="18.54" y="84.32" width="6.18" height="6.18" fill="#221a62"/><rect x="24.42" y="84.32" width="6.18" height="6.18" fill="#261e6e"/><rect x="30.30" y="84.32" width="6.18" height="6.18" fill="#292575"/><rect x="36.18" y="84.32" width="6.18" height="6.18" fill="#2c2a7a"/><rect x="42.06" y="84.32" width="6.18" height="6.18" fill="#302f7f"/><rect x="47.94" y="84.32" width="6.18" height="6.18" fill="#333383"/><rect x="53.82" y="84.32" width="6.18" height="6.18" fill="#353787"/><rect x="59.70" y="84.32" width="6.18" height="6.18" fill="#393d8b"/><rect x="65.58" y="84.32" width="6.18" height="6.18" fill="#3d438f"/><rect x="71.46" y="84.32" width="6.18" height="6.18" fill="#3f4894"/><rect x="77.34" y="84.32" width="6.18" height="6.18" fill="#414c98"/><rect x="83.22" y="84.32" width="6.18" height="6.18" fill="#43509c"/><rect x="89.10" y="84.32" width="6.18" height="6.18" fill="#46549f"/><rect x="94.98" y="84.32" width="6.18" height="6.18" fill="#4857a1"/><rect x="100.86" y="84.32" width="6.18" height="6.18" fill="#495aa4"/><rect x="106.74" y="84.32" width="6.18" height="6.18" fill="#4b5da7"/><rect x="112.62" y="84.32" width="6.18" height="6.18" fill="#4c5ea8"/><rect x="118.50" y="84.32" width="6.18" height="6.18" fill="#4b5da7"/><rect x="124.38" y="84.32" width="6.18" height="6.18" fill="#4959a3"/><rect x="130.26" y="84.32" width="6.18" height="6.18" fill="#4756a0"/><rect x="136.14" y="84.32" width="6.18" height="6.18" fill="#45529d"/><rect x="142.02" y="84.32" width="6.18" height="6.18" fill="#424e9a"/><rect x="147.90" y="84.32" width="6.18" height="6.18" fill="#3f4995"/><rect x="153.78" y="84.32" width="6.18" height="6.18" fill="#3d438f"/><rect x="159.66" y="84.32" width="6.18" height="6.18" fill="#383c8a"/><rect x="165.54" y="84.32" width="6.18" height="6.18" fill="#343585"/><rect x="171.42" y="84.32" width="6.18" height="6.18" fill="#313080"/><rect x="177.30" y="84.32" width="6.18" height="6.18" fill="#2d2b7b"/><rect x="183.18" y="84.32" width="6.18" height="6.18" fill="#2a2777"/><rect x="189.06" y="84.32" width="6.18" height="6.18" fill="#26206f"/><rect x="194.94" y="84.32" width="6.18" height="6.18" fill="#231b67"/><rect x="200.82" y="84.32" width="6.18" height="6.18" fill="#211a5b"/><rect x="206.70" y="84.32" width="6.18" height="6.18" fill="#1e1753"/><rect x="212.58" y="84.32" width="6.18" height="6.18" fill="#1c144b"/><rect x="218.46" y="84.32" width="6.18" height="6.18" fill="#191343"/><rect x="224.34" y="84.32" width="6.18" height="6.18" fill="#16113a"/><rect x="230.22" y="84.32" width="6.18" height="6.18" fill="#140f2d"/><rect x="-4.98" y="90.20" width="6.18" height="6.18" fill="#161039"/><rect x="0.90" y="90.20" width="6.18" height="6.18" fill="#1a1345"/><rect x="6.78" y="90.20" width="6.18" height="6.18" fill="#1e1650"/><rect x="12.66" y="90.20" width="6.18" height="6.18" fill="#201959"/><rect x="18.54" y="90.20" width="6.18" height="6.18" fill="#231b66"/><rect x="24.42" y="90.20" width="6.18" height="6.18" fill="#272070"/><rect x="30.30" y="90.20" width="6.18" height="6.18" fill="#2a2777"/><rect x="36.18" y="90.20" width="6.18" height="6.18" fill="#2e2c7c"/><rect x="42.06" y="90.20" width="6.18" height="6.18" fill="#313181"/><rect x="47.94" y="90.20" width="6.18" height="6.18" fill="#343585"/><rect x="53.82" y="90.20" width="6.18" height="6.18" fill="#373a89"/><rect x="59.70" y="90.20" width="6.18" height="6.18" fill="#3b418d"/><rect x="65.58" y="90.20" width="6.18" height="6.18" fill="#3e4692"/><rect x="71.46" y="90.20" width="6.18" height="6.18" fill="#404b97"/><rect x="77.34" y="90.20" width="6.18" height="6.18" fill="#434f9b"/><rect x="83.22" y="90.20" width="6.18" height="6.18" fill="#46549f"/><rect x="89.10" y="90.20" width="6.18" height="6.18" fill="#4858a2"/><rect x="94.98" y="90.20" width="6.18" height="6.18" fill="#4c5fa9"/><rect x="100.86" y="90.20" width="6.18" height="6.18" fill="#5066af"/><rect x="106.74" y="90.20" width="6.18" height="6.18" fill="#536ab3"/><rect x="112.62" y="90.20" width="6.18" height="6.18" fill="#546cb5"/><rect x="118.50" y="90.20" width="6.18" height="6.18" fill="#526ab3"/><rect x="124.38" y="90.20" width="6.18" height="6.18" fill="#4f65ae"/><rect x="130.26" y="90.20" width="6.18" height="6.18" fill="#4b5da7"/><rect x="136.14" y="90.20" width="6.18" height="6.18" fill="#4757a1"/><rect x="142.02" y="90.20" width="6.18" height="6.18" fill="#44529d"/><rect x="147.90" y="90.20" width="6.18" height="6.18" fill="#414c98"/><rect x="153.78" y="90.20" width="6.18" height="6.18" fill="#3e4692"/><rect x="159.66" y="90.20" width="6.18" height="6.18" fill="#3b408d"/><rect x="165.54" y="90.20" width="6.18" height="6.18" fill="#363888"/><rect x="171.42" y="90.20" width="6.18" height="6.18" fill="#323282"/><rect x="177.30" y="90.20" width="6.18" height="6.18" fill="#2f2d7d"/><rect x="183.18" y="90.20" width="6.18" height="6.18" fill="#2b2979"/><rect x="189.06" y="90.20" width="6.18" height="6.18" fill="#282372"/><rect x="194.94" y="90.20" width="6.18" height="6.18" fill="#251c6b"/><rect x="200.82" y="90.20" width="6.18" height="6.18" fill="#221a60"/><rect x="206.70" y="90.20" width="6.18" height="6.18" fill="#1f1856"/><rect x="212.58" y="90.20" width="6.18" height="6.18" fill="#1d154e"/><rect x="218.46" y="90.20" width="6.18" height="6.18" fill="#1a1347"/><rect x="224.34" y="90.20" width="6.18" height="6.18" fill="#17113d"/><rect x="230.22" y="90.20" width="6.18" height="6.18" fill="#140f32"/><rect x="-4.98" y="96.08" width="6.18" height="6.18" fill="#17113b"/><rect x="0.90" y="96.08" width="6.18" height="6.18" fill="#1a1347"/><rect x="6.78" y="96.08" width="6.18" height="6.18" fill="#1e1652"/><rect x="12.66" y="96.08" width="6.18" height="6.18" fill="#211a5b"/><rect x="18.54" y="96.08" width="6.18" height="6.18" fill="#241b69"/><rect x="24.42" y="96.08" width="6.18" height="6.18" fill="#282272"/><rect x="30.30" y="96.08" width="6.18" height="6.18" fill="#2b2878"/><rect x="36.18" y="96.08" width="6.18" height="6.18" fill="#2f2d7d"/><rect x="42.06" y="96.08" width="6.18" height="6.18" fill="#323282"/><rect x="47.94" y="96.08" width="6.18" height="6.18" fill="#353686"/><rect x="53.82" y="96.08" width="6.18" height="6.18" fill="#393c8b"/><rect x="59.70" y="96.08" width="6.18" height="6.18" fill="#3d438f"/><rect x="65.58" y="96.08" width="6.18" height="6.18" fill="#3f4894"/><rect x="71.46" y="96.08" width="6.18" height="6.18" fill="#424d99"/><rect x="77.34" y="96.08" width="6.18" height="6.18" fill="#45529d"/><rect x="83.22" y="96.08" width="6.18" height="6.18" fill="#4857a1"/><rect x="89.10" y="96.08" width="6.18" height="6.18" fill="#4c5fa9"/><rect x="94.98" y="96.08" width="6.18" height="6.18" fill="#5066af"/><rect x="100.86" y="96.08" width="6.18" height="6.18" fill="#5874bc"/><rect x="106.74" y="96.08" width="6.18" height="6.18" fill="#668bcc"/><rect x="112.62" y="96.08" width="6.18" height="6.18" fill="#6d96d3"/><rect x="118.50" y="96.08" width="6.18" height="6.18" fill="#6286c8"/><rect x="124.38" y="96.08" width="6.18" height="6.18" fill="#5670b9"/><rect x="130.26" y="96.08" width="6.18" height="6.18" fill="#4e62ac"/><rect x="136.14" y="96.08" width="6.18" height="6.18" fill="#4b5da7"/><rect x="142.02" y="96.08" width="6.18" height="6.18" fill="#4655a0"/><rect x="147.90" y="96.08" width="6.18" height="6.18" fill="#434f9b"/><rect x="153.78" y="96.08" width="6.18" height="6.18" fill="#404995"/><rect x="159.66" y="96.08" width="6.18" height="6.18" fill="#3d438f"/><rect x="165.54" y="96.08" width="6.18" height="6.18" fill="#383b8a"/><rect x="171.42" y="96.08" width="6.18" height="6.18" fill="#343484"/><rect x="177.30" y="96.08" width="6.18" height="6.18" fill="#302f7f"/><rect x="183.18" y="96.08" width="6.18" height="6.18" fill="#2d2b7b"/><rect x="189.06" y="96.08" width="6.18" height="6.18" fill="#292575"/><rect x="194.94" y="96.08" width="6.18" height="6.18" fill="#261f6e"/><rect x="200.82" y="96.08" width="6.18" height="6.18" fill="#231b65"/><rect x="206.70" y="96.08" width="6.18" height="6.18" fill="#201959"/><rect x="212.58" y="96.08" width="6.18" height="6.18" fill="#1e1651"/><rect x="218.46" y="96.08" width="6.18" height="6.18" fill="#1b144a"/><rect x="224.34" y="96.08" width="6.18" height="6.18" fill="#181240"/><rect x="230.22" y="96.08" width="6.18" height="6.18" fill="#151035"/><rect x="-4.98" y="101.96" width="6.18" height="6.18" fill="#100f13"/><rect x="0.90" y="101.96" width="6.18" height="6.18" fill="#130f27"/><rect x="6.78" y="101.96" width="6.18" height="6.18" fill="#161039"/><rect x="12.66" y="101.96" width="6.18" height="6.18" fill="#191344"/><rect x="18.54" y="101.96" width="6.18" height="6.18" fill="#1d154f"/><rect x="24.42" y="101.96" width="6.18" height="6.18" fill="#20195a"/><rect x="30.30" y="101.96" width="6.18" height="6.18" fill="#241b68"/><rect x="36.18" y="101.96" width="6.18" height="6.18" fill="#282272"/><rect x="42.06" y="101.96" width="6.18" height="6.18" fill="#2b2979"/><rect x="47.94" y="101.96" width="6.18" height="6.18" fill="#2f2e7e"/><rect x="53.82" y="101.96" width="6.18" height="6.18" fill="#333383"/><rect x="59.70" y="101.96" width="6.18" height="6.18" fill="#363988"/><rect x="65.58" y="101.96" width="6.18" height="6.18" fill="#3c418e"/><rect x="71.46" y="101.96" width="6.18" height="6.18" fill="#3f4894"/><rect x="77.34" y="101.96" width="6.18" height="6.18" fill="#424d99"/><rect x="83.22" y="101.96" width="6.18" height="6.18" fill="#45539e"/><rect x="89.10" y="101.96" width="6.18" height="6.18" fill="#4b5ea8"/><rect x="94.98" y="101.96" width="6.18" height="6.18" fill="#546db6"/><rect x="100.86" y="101.96" width="6.18" height="6.18" fill="#6082c6"/><rect x="106.74" y="101.96" width="6.18" height="6.18" fill="#7babe1"/><rect x="112.62" y="101.96" width="6.18" height="6.18" fill="#82b6e8"/><rect x="118.50" y="101.96" width="6.18" height="6.18" fill="#74a1da"/><rect x="124.38" y="101.96" width="6.18" height="6.18" fill="#6082c6"/><rect x="130.26" y="101.96" width="6.18" height="6.18" fill="#546db6"/><rect x="136.14" y="101.96" width="6.18" height="6.18" fill="#4b5ea8"/><rect x="142.02" y="101.96" width="6.18" height="6.18" fill="#45539e"/><rect x="147.90" y="101.96" width="6.18" height="6.18" fill="#424d99"/><rect x="153.78" y="101.96" width="6.18" height="6.18" fill="#3f4894"/><rect x="159.66" y="101.96" width="6.18" height="6.18" fill="#3c418e"/><rect x="165.54" y="101.96" width="6.18" height="6.18" fill="#363988"/><rect x="171.42" y="101.96" width="6.18" height="6.18" fill="#333383"/><rect x="177.30" y="101.96" width="6.18" height="6.18" fill="#2f2e7e"/><rect x="183.18" y="101.96" width="6.18" height="6.18" fill="#2b2979"/><rect x="189.06" y="101.96" width="6.18" height="6.18" fill="#282272"/><rect x="194.94" y="101.96" width="6.18" height="6.18" fill="#241b68"/><rect x="200.82" y="101.96" width="6.18" height="6.18" fill="#20195a"/><rect x="206.70" y="101.96" width="6.18" height="6.18" fill="#1d154f"/><rect x="212.58" y="101.96" width="6.18" height="6.18" fill="#191344"/><rect x="218.46" y="101.96" width="6.18" height="6.18" fill="#161039"/><rect x="224.34" y="101.96" width="6.18" height="6.18" fill="#130f27"/><rect x="230.22" y="101.96" width="6.18" height="6.18" fill="#100f13"/><rect x="-4.98" y="107.84" width="6.18" height="6.18" fill="#100f14"/><rect x="0.90" y="107.84" width="6.18" height="6.18" fill="#130f28"/><rect x="6.78" y="107.84" width="6.18" height="6.18" fill="#161139"/><rect x="12.66" y="107.84" width="6.18" height="6.18" fill="#1a1345"/><rect x="18.54" y="107.84" width="6.18" height="6.18" fill="#1e1650"/><rect x="24.42" y="107.84" width="6.18" height="6.18" fill="#211a5b"/><rect x="30.30" y="107.84" width="6.18" height="6.18" fill="#241b6a"/><rect x="36.18" y="107.84" width="6.18" height="6.18" fill="#282373"/><rect x="42.06" y="107.84" width="6.18" height="6.18" fill="#2c2979"/><rect x="47.94" y="107.84" width="6.18" height="6.18" fill="#2f2e7e"/><rect x="53.82" y="107.84" width="6.18" height="6.18" fill="#333484"/><rect x="59.70" y="107.84" width="6.18" height="6.18" fill="#373a89"/><rect x="65.58" y="107.84" width="6.18" height="6.18" fill="#3c428e"/><rect x="71.46" y="107.84" width="6.18" height="6.18" fill="#3f4995"/><rect x="77.34" y="107.84" width="6.18" height="6.18" fill="#424f9b"/><rect x="83.22" y="107.84" width="6.18" height="6.18" fill="#4756a0"/><rect x="89.10" y="107.84" width="6.18" height="6.18" fill="#4e62ac"/><rect x="94.98" y="107.84" width="6.18" height="6.18" fill="#5a78be"/><rect x="100.86" y="107.84" width="6.18" height="6.18" fill="#7eb1e4"/><rect x="106.74" y="107.84" width="6.18" height="6.18" fill="#c0dbf4"/><rect x="112.62" y="107.84" width="6.18" height="6.18" fill="#cce2f6"/><rect x="118.50" y="107.84" width="6.18" height="6.18" fill="#add0f0"/><rect x="124.38" y="107.84" width="6.18" height="6.18" fill="#709bd6"/><rect x="130.26" y="107.84" width="6.18" height="6.18" fill="#5874bc"/><rect x="136.14" y="107.84" width="6.18" height="6.18" fill="#4e62ac"/><rect x="142.02" y="107.84" width="6.18" height="6.18" fill="#4756a0"/><rect x="147.90" y="107.84" width="6.18" height="6.18" fill="#424f9b"/><rect x="153.78" y="107.84" width="6.18" height="6.18" fill="#3f4995"/><rect x="159.66" y="107.84" width="6.18" height="6.18" fill="#3c428e"/><rect x="165.54" y="107.84" width="6.18" height="6.18" fill="#373a89"/><rect x="171.42" y="107.84" width="6.18" height="6.18" fill="#333484"/><rect x="177.30" y="107.84" width="6.18" height="6.18" fill="#2f2f7f"/><rect x="183.18" y="107.84" width="6.18" height="6.18" fill="#2c2979"/><rect x="189.06" y="107.84" width="6.18" height="6.18" fill="#282373"/><rect x="194.94" y="107.84" width="6.18" height="6.18" fill="#241b6a"/><rect x="200.82" y="107.84" width="6.18" height="6.18" fill="#211a5b"/><rect x="206.70" y="107.84" width="6.18" height="6.18" fill="#1e1650"/><rect x="212.58" y="107.84" width="6.18" height="6.18" fill="#1a1345"/><rect x="218.46" y="107.84" width="6.18" height="6.18" fill="#161139"/><rect x="224.34" y="107.84" width="6.18" height="6.18" fill="#130f28"/><rect x="230.22" y="107.84" width="6.18" height="6.18" fill="#100f14"/><rect x="-4.98" y="113.72" width="6.18" height="6.18" fill="#100f15"/><rect x="0.90" y="113.72" width="6.18" height="6.18" fill="#130f29"/><rect x="6.78" y="113.72" width="6.18" height="6.18" fill="#16113a"/><rect x="12.66" y="113.72" width="6.18" height="6.18" fill="#1a1345"/><rect x="18.54" y="113.72" width="6.18" height="6.18" fill="#1e1650"/><rect x="24.42" y="113.72" width="6.18" height="6.18" fill="#211a5b"/><rect x="30.30" y="113.72" width="6.18" height="6.18" fill="#241b6a"/><rect x="36.18" y="113.72" width="6.18" height="6.18" fill="#282373"/><rect x="42.06" y="113.72" width="6.18" height="6.18" fill="#2c2a7a"/><rect x="47.94" y="113.72" width="6.18" height="6.18" fill="#302f7f"/><rect x="53.82" y="113.72" width="6.18" height="6.18" fill="#333484"/><rect x="59.70" y="113.72" width="6.18" height="6.18" fill="#373a89"/><rect x="65.58" y="113.72" width="6.18" height="6.18" fill="#3c438f"/><rect x="71.46" y="113.72" width="6.18" height="6.18" fill="#404995"/><rect x="77.34" y="113.72" width="6.18" height="6.18" fill="#434f9b"/><rect x="83.22" y="113.72" width="6.18" height="6.18" fill="#4757a1"/><rect x="89.10" y="113.72" width="6.18" height="6.18" fill="#4f64ae"/><rect x="94.98" y="113.72" width="6.18" height="6.18" fill="#5874bc"/><rect x="100.86" y="113.72" width="6.18" height="6.18" fill="#7eb1e4"/><rect x="106.74" y="113.72" width="6.18" height="6.18" fill="#d5e7f6"/><rect x="112.62" y="113.72" width="6.18" height="6.18" fill="#fafcff"/><rect x="118.50" y="113.72" width="6.18" height="6.18" fill="#d9e9f6"/><rect x="124.38" y="113.72" width="6.18" height="6.18" fill="#8ebdea"/><rect x="130.26" y="113.72" width="6.18" height="6.18" fill="#5c7bc1"/><rect x="136.14" y="113.72" width="6.18" height="6.18" fill="#4f64ae"/><rect x="142.02" y="113.72" width="6.18" height="6.18" fill="#4757a1"/><rect x="147.90" y="113.72" width="6.18" height="6.18" fill="#434f9b"/><rect x="153.78" y="113.72" width="6.18" height="6.18" fill="#404995"/><rect x="159.66" y="113.72" width="6.18" height="6.18" fill="#3c438f"/><rect x="165.54" y="113.72" width="6.18" height="6.18" fill="#373a89"/><rect x="171.42" y="113.72" width="6.18" height="6.18" fill="#333484"/><rect x="177.30" y="113.72" width="6.18" height="6.18" fill="#302f7f"/><rect x="183.18" y="113.72" width="6.18" height="6.18" fill="#2c2a7a"/><rect x="189.06" y="113.72" width="6.18" height="6.18" fill="#282373"/><rect x="194.94" y="113.72" width="6.18" height="6.18" fill="#241b6a"/><rect x="200.82" y="113.72" width="6.18" height="6.18" fill="#211a5b"/><rect x="206.70" y="113.72" width="6.18" height="6.18" fill="#1e1650"/><rect x="212.58" y="113.72" width="6.18" height="6.18" fill="#1a1345"/><rect x="218.46" y="113.72" width="6.18" height="6.18" fill="#16113a"/><rect x="224.34" y="113.72" width="6.18" height="6.18" fill="#130f29"/><rect x="230.22" y="113.72" width="6.18" height="6.18" fill="#100f15"/><rect x="-4.98" y="119.60" width="6.18" height="6.18" fill="#100f12"/><rect x="0.90" y="119.60" width="6.18" height="6.18" fill="#131024"/><rect x="6.78" y="119.60" width="6.18" height="6.18" fill="#151037"/><rect x="12.66" y="119.60" width="6.18" height="6.18" fill="#191342"/><rect x="18.54" y="119.60" width="6.18" height="6.18" fill="#1d154e"/><rect x="24.42" y="119.60" width="6.18" height="6.18" fill="#201958"/><rect x="30.30" y="119.60" width="6.18" height="6.18" fill="#231b66"/><rect x="36.18" y="119.60" width="6.18" height="6.18" fill="#272170"/><rect x="42.06" y="119.60" width="6.18" height="6.18" fill="#2b2878"/><rect x="47.94" y="119.60" width="6.18" height="6.18" fill="#2e2d7d"/><rect x="53.82" y="119.60" width="6.18" height="6.18" fill="#323282"/><rect x="59.70" y="119.60" width="6.18" height="6.18" fill="#363787"/><rect x="65.58" y="119.60" width="6.18" height="6.18" fill="#3b408d"/><rect x="71.46" y="119.60" width="6.18" height="6.18" fill="#3e4793"/><rect x="77.34" y="119.60" width="6.18" height="6.18" fill="#414d99"/><rect x="83.22" y="119.60" width="6.18" height="6.18" fill="#45549f"/><rect x="89.10" y="119.60" width="6.18" height="6.18" fill="#4c5fa9"/><rect x="94.98" y="119.60" width="6.18" height="6.18" fill="#546db6"/><rect x="100.86" y="119.60" width="6.18" height="6.18" fill="#6d96d3"/><rect x="106.74" y="119.60" width="6.18" height="6.18" fill="#8ebdea"/><rect x="112.62" y="119.60" width="6.18" height="6.18" fill="#d0e4f6"/><rect x="118.50" y="119.60" width="6.18" height="6.18" fill="#c0dbf4"/><rect x="124.38" y="119.60" width="6.18" height="6.18" fill="#7babe1"/><rect x="130.26" y="119.60" width="6.18" height="6.18" fill="#5670b9"/><rect x="136.14" y="119.60" width="6.18" height="6.18" fill="#4c5fa9"/><rect x="142.02" y="119.60" width="6.18" height="6.18" fill="#45549f"/><rect x="147.90" y="119.60" width="6.18" height="6.18" fill="#414d99"/><rect x="153.78" y="119.60" width="6.18" height="6.18" fill="#3e4793"/><rect x="159.66" y="119.60" width="6.18" height="6.18" fill="#3b408d"/><rect x="165.54" y="119.60" width="6.18" height="6.18" fill="#363787"/><rect x="171.42" y="119.60" width="6.18" height="6.18" fill="#323282"/><rect x="177.30" y="119.60" width="6.18" height="6.18" fill="#2e2d7d"/><rect x="183.18" y="119.60" width="6.18" height="6.18" fill="#2b2878"/><rect x="189.06" y="119.60" width="6.18" height="6.18" fill="#272170"/><rect x="194.94" y="119.60" width="6.18" height="6.18" fill="#231b66"/><rect x="200.82" y="119.60" width="6.18" height="6.18" fill="#201958"/><rect x="206.70" y="119.60" width="6.18" height="6.18" fill="#1d154e"/><rect x="212.58" y="119.60" width="6.18" height="6.18" fill="#191342"/><rect x="218.46" y="119.60" width="6.18" height="6.18" fill="#151037"/><rect x="224.34" y="119.60" width="6.18" height="6.18" fill="#131024"/><rect x="230.22" y="119.60" width="6.18" height="6.18" fill="#100f12"/><rect x="-4.98" y="125.48" width="6.18" height="6.18" fill="#0f0e0f"/><rect x="0.90" y="125.48" width="6.18" height="6.18" fill="#12101f"/><rect x="6.78" y="125.48" width="6.18" height="6.18" fill="#150f34"/><rect x="12.66" y="125.48" width="6.18" height="6.18" fill="#18123f"/><rect x="18.54" y="125.48" width="6.18" height="6.18" fill="#1c144a"/><rect x="24.42" y="125.48" width="6.18" height="6.18" fill="#1f1855"/><rect x="30.30" y="125.48" width="6.18" height="6.18" fill="#221a61"/><rect x="36.18" y="125.48" width="6.18" height="6.18" fill="#261e6d"/><rect x="42.06" y="125.48" width="6.18" height="6.18" fill="#292575"/><rect x="47.94" y="125.48" width="6.18" height="6.18" fill="#2d2b7b"/><rect x="53.82" y="125.48" width="6.18" height="6.18" fill="#303080"/><rect x="59.70" y="125.48" width="6.18" height="6.18" fill="#343585"/><rect x="65.58" y="125.48" width="6.18" height="6.18" fill="#383c8a"/><rect x="71.46" y="125.48" width="6.18" height="6.18" fill="#3d4490"/><rect x="77.34" y="125.48" width="6.18" height="6.18" fill="#404a96"/><rect x="83.22" y="125.48" width="6.18" height="6.18" fill="#434f9b"/><rect x="89.10" y="125.48" width="6.18" height="6.18" fill="#4858a2"/><rect x="94.98" y="125.48" width="6.18" height="6.18" fill="#4e62ac"/><rect x="100.86" y="125.48" width="6.18" height="6.18" fill="#5874bc"/><rect x="106.74" y="125.48" width="6.18" height="6.18" fill="#6082c6"/><rect x="112.62" y="125.48" width="6.18" height="6.18" fill="#668bcc"/><rect x="118.50" y="125.48" width="6.18" height="6.18" fill="#6082c6"/><rect x="124.38" y="125.48" width="6.18" height="6.18" fill="#5874bc"/><rect x="130.26" y="125.48" width="6.18" height="6.18" fill="#4e62ac"/><rect x="136.14" y="125.48" width="6.18" height="6.18" fill="#4858a2"/><rect x="142.02" y="125.48" width="6.18" height="6.18" fill="#434f9b"/><rect x="147.90" y="125.48" width="6.18" height="6.18" fill="#404a96"/><rect x="153.78" y="125.48" width="6.18" height="6.18" fill="#3d4490"/><rect x="159.66" y="125.48" width="6.18" height="6.18" fill="#383c8a"/><rect x="165.54" y="125.48" width="6.18" height="6.18" fill="#343585"/><rect x="171.42" y="125.48" width="6.18" height="6.18" fill="#303080"/><rect x="177.30" y="125.48" width="6.18" height="6.18" fill="#2d2b7b"/><rect x="183.18" y="125.48" width="6.18" height="6.18" fill="#292575"/><rect x="189.06" y="125.48" width="6.18" height="6.18" fill="#261e6e"/><rect x="194.94" y="125.48" width="6.18" height="6.18" fill="#221a61"/><rect x="200.82" y="125.48" width="6.18" height="6.18" fill="#1f1855"/><rect x="206.70" y="125.48" width="6.18" height="6.18" fill="#1c144b"/><rect x="212.58" y="125.48" width="6.18" height="6.18" fill="#18123f"/><rect x="218.46" y="125.48" width="6.18" height="6.18" fill="#150f34"/><rect x="224.34" y="125.48" width="6.18" height="6.18" fill="#12101f"/><rect x="230.22" y="125.48" width="6.18" height="6.18" fill="#0f0e0f"/><rect x="-4.98" y="131.36" width="6.18" height="6.18" fill="#0e0e0c"/><rect x="0.90" y="131.36" width="6.18" height="6.18" fill="#121019"/><rect x="6.78" y="131.36" width="6.18" height="6.18" fill="#140f2f"/><rect x="12.66" y="131.36" width="6.18" height="6.18" fill="#17113b"/><rect x="18.54" y="131.36" width="6.18" height="6.18" fill="#1a1347"/><rect x="24.42" y="131.36" width="6.18" height="6.18" fill="#1e1652"/><rect x="30.30" y="131.36" width="6.18" height="6.18" fill="#211a5b"/><rect x="36.18" y="131.36" width="6.18" height="6.18" fill="#241b6a"/><rect x="42.06" y="131.36" width="6.18" height="6.18" fill="#282272"/><rect x="47.94" y="131.36" width="6.18" height="6.18" fill="#2b2878"/><rect x="53.82" y="131.36" width="6.18" height="6.18" fill="#2f2d7d"/><rect x="59.70" y="131.36" width="6.18" height="6.18" fill="#323282"/><rect x="65.58" y="131.36" width="6.18" height="6.18" fill="#353787"/><rect x="71.46" y="131.36" width="6.18" height="6.18" fill="#3a3f8c"/><rect x="77.34" y="131.36" width="6.18" height="6.18" fill="#3e4591"/><rect x="83.22" y="131.36" width="6.18" height="6.18" fill="#404b97"/><rect x="89.10" y="131.36" width="6.18" height="6.18" fill="#44519c"/><rect x="94.98" y="131.36" width="6.18" height="6.18" fill="#4859a3"/><rect x="100.86" y="131.36" width="6.18" height="6.18" fill="#4e62ac"/><rect x="106.74" y="131.36" width="6.18" height="6.18" fill="#5269b3"/><rect x="112.62" y="131.36" width="6.18" height="6.18" fill="#556eb6"/><rect x="118.50" y="131.36" width="6.18" height="6.18" fill="#5269b3"/><rect x="124.38" y="131.36" width="6.18" height="6.18" fill="#4e62ac"/><rect x="130.26" y="131.36" width="6.18" height="6.18" fill="#4859a3"/><rect x="136.14" y="131.36" width="6.18" height="6.18" fill="#44519c"/><rect x="142.02" y="131.36" width="6.18" height="6.18" fill="#404b97"/><rect x="147.90" y="131.36" width="6.18" height="6.18" fill="#3e4591"/><rect x="153.78" y="131.36" width="6.18" height="6.18" fill="#3a3f8c"/><rect x="159.66" y="131.36" width="6.18" height="6.18" fill="#353787"/><rect x="165.54" y="131.36" width="6.18" height="6.18" fill="#323282"/><rect x="171.42" y="131.36" width="6.18" height="6.18" fill="#2f2d7d"/><rect x="177.30" y="131.36" width="6.18" height="6.18" fill="#2b2878"/><rect x="183.18" y="131.36" width="6.18" height="6.18" fill="#282272"/><rect x="189.06" y="131.36" width="6.18" height="6.18" fill="#241b6a"/><rect x="194.94" y="131.36" width="6.18" height="6.18" fill="#211a5b"/><rect x="200.82" y="131.36" width="6.18" height="6.18" fill="#1e1652"/><rect x="206.70" y="131.36" width="6.18" height="6.18" fill="#1a1347"/><rect x="212.58" y="131.36" width="6.18" height="6.18" fill="#17113c"/><rect x="218.46" y="131.36" width="6.18" height="6.18" fill="#140f2f"/><rect x="224.34" y="131.36" width="6.18" height="6.18" fill="#121019"/><rect x="230.22" y="131.36" width="6.18" height="6.18" fill="#0e0e0c"/><rect x="-4.98" y="137.24" width="6.18" height="6.18" fill="#0e0e0c"/><rect x="0.90" y="137.24" width="6.18" height="6.18" fill="#100f14"/><rect x="6.78" y="137.24" width="6.18" height="6.18" fill="#130f27"/><rect x="12.66" y="137.24" width="6.18" height="6.18" fill="#151037"/><rect x="18.54" y="137.24" width="6.18" height="6.18" fill="#191242"/><rect x="24.42" y="137.24" width="6.18" height="6.18" fill="#1d154d"/><rect x="30.30" y="137.24" width="6.18" height="6.18" fill="#1f1857"/><rect x="36.18" y="137.24" width="6.18" height="6.18" fill="#221a62"/><rect x="42.06" y="137.24" width="6.18" height="6.18" fill="#261f6e"/><rect x="47.94" y="137.24" width="6.18" height="6.18" fill="#292575"/><rect x="53.82" y="137.24" width="6.18" height="6.18" fill="#2c2a7a"/><rect x="59.70" y="137.24" width="6.18" height="6.18" fill="#302f7f"/><rect x="65.58" y="137.24" width="6.18" height="6.18" fill="#333484"/><rect x="71.46" y="137.24" width="6.18" height="6.18" fill="#363988"/><rect x="77.34" y="137.24" width="6.18" height="6.18" fill="#3b408d"/><rect x="83.22" y="137.24" width="6.18" height="6.18" fill="#3e4692"/><rect x="89.10" y="137.24" width="6.18" height="6.18" fill="#404a96"/><rect x="94.98" y="137.24" width="6.18" height="6.18" fill="#434f9b"/><rect x="100.86" y="137.24" width="6.18" height="6.18" fill="#46559f"/><rect x="106.74" y="137.24" width="6.18" height="6.18" fill="#4858a2"/><rect x="112.62" y="137.24" width="6.18" height="6.18" fill="#495aa4"/><rect x="118.50" y="137.24" width="6.18" height="6.18" fill="#4858a2"/><rect x="124.38" y="137.24" width="6.18" height="6.18" fill="#46559f"/><rect x="130.26" y="137.24" width="6.18" height="6.18" fill="#434f9b"/><rect x="136.14" y="137.24" width="6.18" height="6.18" fill="#404a96"/><rect x="142.02" y="137.24" width="6.18" height="6.18" fill="#3e4692"/><rect x="147.90" y="137.24" width="6.18" height="6.18" fill="#3b408d"/><rect x="153.78" y="137.24" width="6.18" height="6.18" fill="#363988"/><rect x="159.66" y="137.24" width="6.18" height="6.18" fill="#333484"/><rect x="165.54" y="137.24" width="6.18" height="6.18" fill="#302f7f"/><rect x="171.42" y="137.24" width="6.18" height="6.18" fill="#2d2a7a"/><rect x="177.30" y="137.24" width="6.18" height="6.18" fill="#292575"/><rect x="183.18" y="137.24" width="6.18" height="6.18" fill="#261f6e"/><rect x="189.06" y="137.24" width="6.18" height="6.18" fill="#221a63"/><rect x="194.94" y="137.24" width="6.18" height="6.18" fill="#201857"/><rect x="200.82" y="137.24" width="6.18" height="6.18" fill="#1d154d"/><rect x="206.70" y="137.24" width="6.18" height="6.18" fill="#191343"/><rect x="212.58" y="137.24" width="6.18" height="6.18" fill="#161038"/><rect x="218.46" y="137.24" width="6.18" height="6.18" fill="#130f28"/><rect x="224.34" y="137.24" width="6.18" height="6.18" fill="#100f15"/><rect x="230.22" y="137.24" width="6.18" height="6.18" fill="#0e0e0c"/><rect x="-4.98" y="143.12" width="6.18" height="6.18" fill="#0e0e0c"/><rect x="0.90" y="143.12" width="6.18" height="6.18" fill="#0f0f11"/><rect x="6.78" y="143.12" width="6.18" height="6.18" fill="#131021"/><rect x="12.66" y="143.12" width="6.18" height="6.18" fill="#150f34"/><rect x="18.54" y="143.12" width="6.18" height="6.18" fill="#18123f"/><rect x="24.42" y="143.12" width="6.18" height="6.18" fill="#1b144a"/><rect x="30.30" y="143.12" width="6.18" height="6.18" fill="#1f1754"/><rect x="36.18" y="143.12" width="6.18" height="6.18" fill="#211a5d"/><rect x="42.06" y="143.12" width="6.18" height="6.18" fill="#241c6b"/><rect x="47.94" y="143.12" width="6.18" height="6.18" fill="#282272"/><rect x="53.82" y="143.12" width="6.18" height="6.18" fill="#2b2878"/><rect x="59.70" y="143.12" width="6.18" height="6.18" fill="#2e2d7d"/><rect x="65.58" y="143.12" width="6.18" height="6.18" fill="#313181"/><rect x="71.46" y="143.12" width="6.18" height="6.18" fill="#343686"/><rect x="77.34" y="143.12" width="6.18" height="6.18" fill="#383b8a"/><rect x="83.22" y="143.12" width="6.18" height="6.18" fill="#3c418e"/><rect x="89.10" y="143.12" width="6.18" height="6.18" fill="#3e4692"/><rect x="94.98" y="143.12" width="6.18" height="6.18" fill="#404995"/><rect x="100.86" y="143.12" width="6.18" height="6.18" fill="#414c98"/><rect x="106.74" y="143.12" width="6.18" height="6.18" fill="#424e9a"/><rect x="112.62" y="143.12" width="6.18" height="6.18" fill="#434f9b"/><rect x="118.50" y="143.12" width="6.18" height="6.18" fill="#424e9a"/><rect x="124.38" y="143.12" width="6.18" height="6.18" fill="#414c98"/><rect x="130.26" y="143.12" width="6.18" height="6.18" fill="#404995"/><rect x="136.14" y="143.12" width="6.18" height="6.18" fill="#3e4692"/><rect x="142.02" y="143.12" width="6.18" height="6.18" fill="#3c418e"/><rect x="147.90" y="143.12" width="6.18" height="6.18" fill="#383b8a"/><rect x="153.78" y="143.12" width="6.18" height="6.18" fill="#343686"/><rect x="159.66" y="143.12" width="6.18" height="6.18" fill="#313181"/><rect x="165.54" y="143.12" width="6.18" height="6.18" fill="#2e2d7d"/><rect x="171.42" y="143.12" width="6.18" height="6.18" fill="#2b2878"/><rect x="177.30" y="143.12" width="6.18" height="6.18" fill="#282372"/><rect x="183.18" y="143.12" width="6.18" height="6.18" fill="#251c6b"/><rect x="189.06" y="143.12" width="6.18" height="6.18" fill="#211a5e"/><rect x="194.94" y="143.12" width="6.18" height="6.18" fill="#1f1754"/><rect x="200.82" y="143.12" width="6.18" height="6.18" fill="#1c144a"/><rect x="206.70" y="143.12" width="6.18" height="6.18" fill="#181240"/><rect x="212.58" y="143.12" width="6.18" height="6.18" fill="#151035"/><rect x="218.46" y="143.12" width="6.18" height="6.18" fill="#131022"/><rect x="224.34" y="143.12" width="6.18" height="6.18" fill="#100f11"/><rect x="230.22" y="143.12" width="6.18" height="6.18" fill="#0e0e0c"/><rect x="-4.98" y="149.00" width="6.18" height="6.18" fill="#0e0e0c"/><rect x="0.90" y="149.00" width="6.18" height="6.18" fill="#0e0e0d"/><rect x="6.78" y="149.00" width="6.18" height="6.18" fill="#12101b"/><rect x="12.66" y="149.00" width="6.18" height="6.18" fill="#140f30"/><rect x="18.54" y="149.00" width="6.18" height="6.18" fill="#17113c"/><rect x="24.42" y="149.00" width="6.18" height="6.18" fill="#1a1346"/><rect x="30.30" y="149.00" width="6.18" height="6.18" fill="#1e1651"/><rect x="36.18" y="149.00" width="6.18" height="6.18" fill="#201959"/><rect x="42.06" y="149.00" width="6.18" height="6.18" fill="#231b66"/><rect x="47.94" y="149.00" width="6.18" height="6.18" fill="#26206f"/><rect x="53.82" y="149.00" width="6.18" height="6.18" fill="#292676"/><rect x="59.70" y="149.00" width="6.18" height="6.18" fill="#2d2b7b"/><rect x="65.58" y="149.00" width="6.18" height="6.18" fill="#302f7f"/><rect x="71.46" y="149.00" width="6.18" height="6.18" fill="#323383"/><rect x="77.34" y="149.00" width="6.18" height="6.18" fill="#353787"/><rect x="83.22" y="149.00" width="6.18" height="6.18" fill="#383c8a"/><rect x="89.10" y="149.00" width="6.18" height="6.18" fill="#3b418d"/><rect x="94.98" y="149.00" width="6.18" height="6.18" fill="#3d4490"/><rect x="100.86" y="149.00" width="6.18" height="6.18" fill="#3e4793"/><rect x="106.74" y="149.00" width="6.18" height="6.18" fill="#3f4894"/><rect x="112.62" y="149.00" width="6.18" height="6.18" fill="#3f4995"/><rect x="118.50" y="149.00" width="6.18" height="6.18" fill="#3f4894"/><rect x="124.38" y="149.00" width="6.18" height="6.18" fill="#3e4793"/><rect x="130.26" y="149.00" width="6.18" height="6.18" fill="#3d4490"/><rect x="136.14" y="149.00" width="6.18" height="6.18" fill="#3b418d"/><rect x="142.02" y="149.00" width="6.18" height="6.18" fill="#383c8a"/><rect x="147.90" y="149.00" width="6.18" height="6.18" fill="#353787"/><rect x="153.78" y="149.00" width="6.18" height="6.18" fill="#333383"/><rect x="159.66" y="149.00" width="6.18" height="6.18" fill="#302f7f"/><rect x="165.54" y="149.00" width="6.18" height="6.18" fill="#2d2b7b"/><rect x="171.42" y="149.00" width="6.18" height="6.18" fill="#2a2676"/><rect x="177.30" y="149.00" width="6.18" height="6.18" fill="#272070"/><rect x="183.18" y="149.00" width="6.18" height="6.18" fill="#231b67"/><rect x="189.06" y="149.00" width="6.18" height="6.18" fill="#20195a"/><rect x="194.94" y="149.00" width="6.18" height="6.18" fill="#1e1651"/><rect x="200.82" y="149.00" width="6.18" height="6.18" fill="#1b1447"/><rect x="206.70" y="149.00" width="6.18" height="6.18" fill="#17113d"/><rect x="212.58" y="149.00" width="6.18" height="6.18" fill="#140f32"/><rect x="218.46" y="149.00" width="6.18" height="6.18" fill="#12101d"/><rect x="224.34" y="149.00" width="6.18" height="6.18" fill="#0f0e0e"/><rect x="230.22" y="149.00" width="6.18" height="6.18" fill="#0e0e0c"/><rect x="-4.98" y="154.88" width="12.06" height="6.18" fill="#0e0e0c"/><rect x="6.78" y="154.88" width="6.18" height="6.18" fill="#110f16"/><rect x="12.66" y="154.88" width="6.18" height="6.18" fill="#130f2a"/><rect x="18.54" y="154.88" width="6.18" height="6.18" fill="#161038"/><rect x="24.42" y="154.88" width="6.18" height="6.18" fill="#191242"/><rect x="30.30" y="154.88" width="6.18" height="6.18" fill="#1c154c"/><rect x="36.18" y="154.88" width="6.18" height="6.18" fill="#1f1856"/><rect x="42.06" y="154.88" width="6.18" height="6.18" fill="#221a5f"/><rect x="47.94" y="154.88" width="6.18" height="6.18" fill="#251d6c"/><rect x="53.82" y="154.88" width="6.18" height="6.18" fill="#282372"/><rect x="59.70" y="154.88" width="6.18" height="6.18" fill="#2b2878"/><rect x="65.58" y="154.88" width="6.18" height="6.18" fill="#2e2c7c"/><rect x="71.46" y="154.88" width="6.18" height="6.18" fill="#303080"/><rect x="77.34" y="154.88" width="6.18" height="6.18" fill="#333383"/><rect x="83.22" y="154.88" width="6.18" height="6.18" fill="#353787"/><rect x="89.10" y="154.88" width="6.18" height="6.18" fill="#383b8a"/><rect x="94.98" y="154.88" width="6.18" height="6.18" fill="#3a3f8c"/><rect x="100.86" y="154.88" width="6.18" height="6.18" fill="#3c418e"/><rect x="106.74" y="154.88" width="6.18" height="6.18" fill="#3c438f"/><rect x="112.62" y="154.88" width="6.18" height="6.18" fill="#3d438f"/><rect x="118.50" y="154.88" width="6.18" height="6.18" fill="#3c438f"/><rect x="124.38" y="154.88" width="6.18" height="6.18" fill="#3c418e"/><rect x="130.26" y="154.88" width="6.18" height="6.18" fill="#3a3f8c"/><rect x="136.14" y="154.88" width="6.18" height="6.18" fill="#383b8a"/><rect x="142.02" y="154.88" width="6.18" height="6.18" fill="#353787"/><rect x="147.90" y="154.88" width="6.18" height="6.18" fill="#333383"/><rect x="153.78" y="154.88" width="6.18" height="6.18" fill="#303080"/><rect x="159.66" y="154.88" width="6.18" height="6.18" fill="#2e2c7c"/><rect x="165.54" y="154.88" width="6.18" height="6.18" fill="#2b2878"/><rect x="171.42" y="154.88" width="6.18" height="6.18" fill="#282373"/><rect x="177.30" y="154.88" width="6.18" height="6.18" fill="#251d6c"/><rect x="183.18" y="154.88" width="6.18" height="6.18" fill="#221a61"/><rect x="189.06" y="154.88" width="6.18" height="6.18" fill="#1f1857"/><rect x="194.94" y="154.88" width="6.18" height="6.18" fill="#1d154e"/><rect x="200.82" y="154.88" width="6.18" height="6.18" fill="#191343"/><rect x="206.70" y="154.88" width="6.18" height="6.18" fill="#161139"/><rect x="212.58" y="154.88" width="6.18" height="6.18" fill="#140f2c"/><rect x="218.46" y="154.88" width="6.18" height="6.18" fill="#111018"/><rect x="224.34" y="154.88" width="12.06" height="6.18" fill="#0e0e0c"/><rect x="-4.98" y="160.76" width="12.06" height="6.18" fill="#0e0e0c"/><rect x="6.78" y="160.76" width="6.18" height="6.18" fill="#0f0f11"/><rect x="12.66" y="160.76" width="6.18" height="6.18" fill="#131021"/><rect x="18.54" y="160.76" width="6.18" height="6.18" fill="#140f33"/><rect x="24.42" y="160.76" width="6.18" height="6.18" fill="#17113e"/><rect x="30.30" y="160.76" width="6.18" height="6.18" fill="#1b1448"/><rect x="36.18" y="160.76" width="6.18" height="6.18" fill="#1e1651"/><rect x="42.06" y="160.76" width="6.18" height="6.18" fill="#20195a"/><rect x="47.94" y="160.76" width="6.18" height="6.18" fill="#231b65"/><rect x="53.82" y="160.76" width="6.18" height="6.18" fill="#261f6f"/><rect x="59.70" y="160.76" width="6.18" height="6.18" fill="#292574"/><rect x="65.58" y="160.76" width="6.18" height="6.18" fill="#2c2979"/><rect x="71.46" y="160.76" width="6.18" height="6.18" fill="#2e2d7d"/><rect x="77.34" y="160.76" width="6.18" height="6.18" fill="#303080"/><rect x="83.22" y="160.76" width="6.18" height="6.18" fill="#333383"/><rect x="89.10" y="160.76" width="6.18" height="6.18" fill="#343686"/><rect x="94.98" y="160.76" width="6.18" height="6.18" fill="#363888"/><rect x="100.86" y="160.76" width="6.18" height="6.18" fill="#373a89"/><rect x="106.74" y="160.76" width="6.18" height="6.18" fill="#383c8a"/><rect x="112.62" y="160.76" width="6.18" height="6.18" fill="#393c8b"/><rect x="118.50" y="160.76" width="6.18" height="6.18" fill="#383c8a"/><rect x="124.38" y="160.76" width="6.18" height="6.18" fill="#373a89"/><rect x="130.26" y="160.76" width="6.18" height="6.18" fill="#363888"/><rect x="136.14" y="160.76" width="6.18" height="6.18" fill="#343686"/><rect x="142.02" y="160.76" width="6.18" height="6.18" fill="#333383"/><rect x="147.90" y="160.76" width="6.18" height="6.18" fill="#313080"/><rect x="153.78" y="160.76" width="6.18" height="6.18" fill="#2e2d7d"/><rect x="159.66" y="160.76" width="6.18" height="6.18" fill="#2c2979"/><rect x="165.54" y="160.76" width="6.18" height="6.18" fill="#292575"/><rect x="171.42" y="160.76" width="6.18" height="6.18" fill="#26206f"/><rect x="177.30" y="160.76" width="6.18" height="6.18" fill="#231b67"/><rect x="183.18" y="160.76" width="6.18" height="6.18" fill="#211a5b"/><rect x="189.06" y="160.76" width="6.18" height="6.18" fill="#1e1753"/><rect x="194.94" y="160.76" width="6.18" height="6.18" fill="#1b1449"/><rect x="200.82" y="160.76" width="6.18" height="6.18" fill="#18123f"/><rect x="206.70" y="160.76" width="6.18" height="6.18" fill="#151035"/><rect x="212.58" y="160.76" width="6.18" height="6.18" fill="#131024"/><rect x="218.46" y="160.76" width="6.18" height="6.18" fill="#100f13"/><rect x="224.34" y="160.76" width="12.06" height="6.18" fill="#0e0e0c"/><rect x="-4.98" y="166.64" width="17.94" height="6.18" fill="#0e0e0c"/><rect x="12.66" y="166.64" width="6.18" height="6.18" fill="#111018"/><rect x="18.54" y="166.64" width="6.18" height="6.18" fill="#130f2c"/><rect x="24.42" y="166.64" width="6.18" height="6.18" fill="#161038"/><rect x="30.30" y="166.64" width="6.18" height="6.18" fill="#191242"/><rect x="36.18" y="166.64" width="6.18" height="6.18" fill="#1c154c"/><rect x="42.06" y="166.64" width="6.18" height="6.18" fill="#1f1755"/><rect x="47.94" y="166.64" width="6.18" height="6.18" fill="#211a5d"/><rect x="53.82" y="166.64" width="6.18" height="6.18" fill="#241b69"/><rect x="59.70" y="166.64" width="6.18" height="6.18" fill="#272170"/><rect x="65.58" y="166.64" width="6.18" height="6.18" fill="#292675"/><rect x="71.46" y="166.64" width="6.18" height="6.18" fill="#2c2979"/><rect x="77.34" y="166.64" width="6.18" height="6.18" fill="#2e2c7c"/><rect x="83.22" y="166.64" width="6.18" height="6.18" fill="#302f7f"/><rect x="89.10" y="166.64" width="6.18" height="6.18" fill="#323181"/><rect x="94.98" y="166.64" width="6.18" height="6.18" fill="#333383"/><rect x="100.86" y="166.64" width="6.18" height="6.18" fill="#343585"/><rect x="106.74" y="166.64" width="6.18" height="6.18" fill="#343686"/><rect x="112.62" y="166.64" width="12.06" height="6.18" fill="#353686"/><rect x="124.38" y="166.64" width="6.18" height="6.18" fill="#343585"/><rect x="130.26" y="166.64" width="6.18" height="6.18" fill="#333383"/><rect x="136.14" y="166.64" width="6.18" height="6.18" fill="#323282"/><rect x="142.02" y="166.64" width="6.18" height="6.18" fill="#302f7f"/><rect x="147.90" y="166.64" width="6.18" height="6.18" fill="#2e2d7d"/><rect x="153.78" y="166.64" width="6.18" height="6.18" fill="#2c2a7a"/><rect x="159.66" y="166.64" width="6.18" height="6.18" fill="#2a2676"/><rect x="165.54" y="166.64" width="6.18" height="6.18" fill="#272171"/><rect x="171.42" y="166.64" width="6.18" height="6.18" fill="#241c6b"/><rect x="177.30" y="166.64" width="6.18" height="6.18" fill="#221a5f"/><rect x="183.18" y="166.64" width="6.18" height="6.18" fill="#1f1856"/><rect x="189.06" y="166.64" width="6.18" height="6.18" fill="#1d154e"/><rect x="194.94" y="166.64" width="6.18" height="6.18" fill="#1a1345"/><rect x="200.82" y="166.64" width="6.18" height="6.18" fill="#17113b"/><rect x="206.70" y="166.64" width="6.18" height="6.18" fill="#140f30"/><rect x="212.58" y="166.64" width="6.18" height="6.18" fill="#12101b"/><rect x="218.46" y="166.64" width="6.18" height="6.18" fill="#0f0e0e"/><rect x="224.34" y="166.64" width="12.06" height="6.18" fill="#0e0e0c"/><rect x="-4.98" y="172.52" width="17.94" height="6.18" fill="#0e0e0c"/><rect x="12.66" y="172.52" width="6.18" height="6.18" fill="#100f12"/><rect x="18.54" y="172.52" width="6.18" height="6.18" fill="#131020"/><rect x="24.42" y="172.52" width="6.18" height="6.18" fill="#140f33"/><rect x="30.30" y="172.52" width="6.18" height="6.18" fill="#17113c"/><rect x="36.18" y="172.52" width="6.18" height="6.18" fill="#1a1346"/><rect x="42.06" y="172.52" width="6.18" height="6.18" fill="#1d154f"/><rect x="47.94" y="172.52" width="6.18" height="6.18" fill="#201857"/><rect x="53.82" y="172.52" width="6.18" height="6.18" fill="#221a60"/><rect x="59.70" y="172.52" width="6.18" height="6.18" fill="#241c6b"/><rect x="65.58" y="172.52" width="6.18" height="6.18" fill="#272171"/><rect x="71.46" y="172.52" width="6.18" height="6.18" fill="#292675"/><rect x="77.34" y="172.52" width="6.18" height="6.18" fill="#2b2979"/><rect x="83.22" y="172.52" width="6.18" height="6.18" fill="#2d2b7b"/><rect x="89.10" y="172.52" width="6.18" height="6.18" fill="#2f2e7e"/><rect x="94.98" y="172.52" width="6.18" height="6.18" fill="#302f7f"/><rect x="100.86" y="172.52" width="12.06" height="6.18" fill="#313181"/><rect x="112.62" y="172.52" width="6.18" height="6.18" fill="#323282"/><rect x="118.50" y="172.52" width="12.06" height="6.18" fill="#313181"/><rect x="130.26" y="172.52" width="6.18" height="6.18" fill="#302f7f"/><rect x="136.14" y="172.52" width="6.18" height="6.18" fill="#2f2e7e"/><rect x="142.02" y="172.52" width="6.18" height="6.18" fill="#2d2c7c"/><rect x="147.90" y="172.52" width="6.18" height="6.18" fill="#2c2979"/><rect x="153.78" y="172.52" width="6.18" height="6.18" fill="#2a2676"/><rect x="159.66" y="172.52" width="6.18" height="6.18" fill="#272271"/><rect x="165.54" y="172.52" width="6.18" height="6.18" fill="#251d6c"/><rect x="171.42" y="172.52" width="6.18" height="6.18" fill="#221a62"/><rect x="177.30" y="172.52" width="6.18" height="6.18" fill="#201959"/><rect x="183.18" y="172.52" width="6.18" height="6.18" fill="#1e1651"/><rect x="189.06" y="172.52" width="6.18" height="6.18" fill="#1b1448"/><rect x="194.94" y="172.52" width="6.18" height="6.18" fill="#18123f"/><rect x="200.82" y="172.52" width="6.18" height="6.18" fill="#151036"/><rect x="206.70" y="172.52" width="6.18" height="6.18" fill="#130f26"/><rect x="212.58" y="172.52" width="6.18" height="6.18" fill="#110f15"/><rect x="218.46" y="172.52" width="17.94" height="6.18" fill="#0e0e0c"/><rect x="-4.98" y="178.40" width="6.18" height="6.18" fill="#0e0e0c"/><rect x="0.90" y="178.40" width="6.18" height="6.18" fill="#0e0e0d"/><rect x="6.78" y="178.40" width="6.18" height="6.18" fill="#111017"/><rect x="12.66" y="178.40" width="6.18" height="6.18" fill="#130f28"/><rect x="18.54" y="178.40" width="6.18" height="6.18" fill="#151036"/><rect x="24.42" y="178.40" width="6.18" height="6.18" fill="#181240"/><rect x="30.30" y="178.40" width="6.18" height="6.18" fill="#1b1448"/><rect x="36.18" y="178.40" width="6.18" height="6.18" fill="#1e1650"/><rect x="42.06" y="178.40" width="6.18" height="6.18" fill="#201857"/><rect x="47.94" y="178.40" width="6.18" height="6.18" fill="#221a60"/><rect x="53.82" y="178.40" width="6.18" height="6.18" fill="#241b6a"/><rect x="59.70" y="178.40" width="6.18" height="6.18" fill="#26206f"/><rect x="65.58" y="178.40" width="6.18" height="6.18" fill="#292474"/><rect x="71.46" y="178.40" width="6.18" height="6.18" fill="#2b2878"/><rect x="77.34" y="178.40" width="6.18" height="6.18" fill="#2c2a7a"/><rect x="83.22" y="178.40" width="6.18" height="6.18" fill="#2e2c7c"/><rect x="89.10" y="178.40" width="6.18" height="6.18" fill="#2f2e7e"/><rect x="94.98" y="178.40" width="6.18" height="6.18" fill="#302f7f"/><rect x="100.86" y="178.40" width="6.18" height="6.18" fill="#313080"/><rect x="106.74" y="178.40" width="17.94" height="6.18" fill="#313181"/><rect x="124.38" y="178.40" width="6.18" height="6.18" fill="#313080"/><rect x="130.26" y="178.40" width="6.18" height="6.18" fill="#302f7f"/><rect x="136.14" y="178.40" width="6.18" height="6.18" fill="#2f2e7e"/><rect x="142.02" y="178.40" width="6.18" height="6.18" fill="#2e2d7d"/><rect x="147.90" y="178.40" width="6.18" height="6.18" fill="#2d2b7b"/><rect x="153.78" y="178.40" width="6.18" height="6.18" fill="#2b2878"/><rect x="159.66" y="178.40" width="6.18" height="6.18" fill="#292575"/><rect x="165.54" y="178.40" width="6.18" height="6.18" fill="#272170"/><rect x="171.42" y="178.40" width="6.18" height="6.18" fill="#251d6c"/><rect x="177.30" y="178.40" width="6.18" height="6.18" fill="#231b64"/><rect x="183.18" y="178.40" width="6.18" height="6.18" fill="#20195a"/><rect x="189.06" y="178.40" width="6.18" height="6.18" fill="#1e1753"/><rect x="194.94" y="178.40" width="6.18" height="6.18" fill="#1c154c"/><rect x="200.82" y="178.40" width="6.18" height="6.18" fill="#1a1344"/><rect x="206.70" y="178.40" width="6.18" height="6.18" fill="#17113b"/><rect x="212.58" y="178.40" width="6.18" height="6.18" fill="#140f30"/><rect x="218.46" y="178.40" width="6.18" height="6.18" fill="#12101c"/><rect x="224.34" y="178.40" width="6.18" height="6.18" fill="#100f11"/><rect x="230.22" y="178.40" width="6.18" height="6.18" fill="#0e0e0c"/><rect x="-4.98" y="184.28" width="12.06" height="6.18" fill="#0e0e0c"/><rect x="6.78" y="184.28" width="6.18" height="6.18" fill="#0f0e0f"/><rect x="12.66" y="184.28" width="6.18" height="6.18" fill="#12101a"/><rect x="18.54" y="184.28" width="6.18" height="6.18" fill="#140f2c"/><rect x="24.42" y="184.28" width="6.18" height="6.18" fill="#161038"/><rect x="30.30" y="184.28" width="6.18" height="6.18" fill="#191241"/><rect x="36.18" y="184.28" width="6.18" height="6.18" fill="#1b1449"/><rect x="42.06" y="184.28" width="6.18" height="6.18" fill="#1e1650"/><rect x="47.94" y="184.28" width="6.18" height="6.18" fill="#201857"/><rect x="53.82" y="184.28" width="6.18" height="6.18" fill="#221a5f"/><rect x="59.70" y="184.28" width="6.18" height="6.18" fill="#241b69"/><rect x="65.58" y="184.28" width="6.18" height="6.18" fill="#261f6e"/><rect x="71.46" y="184.28" width="6.18" height="6.18" fill="#282272"/><rect x="77.34" y="184.28" width="6.18" height="6.18" fill="#292676"/><rect x="83.22" y="184.28" width="6.18" height="6.18" fill="#2b2878"/><rect x="89.10" y="184.28" width="6.18" height="6.18" fill="#2c2a7a"/><rect x="94.98" y="184.28" width="6.18" height="6.18" fill="#2d2b7b"/><rect x="100.86" y="184.28" width="6.18" height="6.18" fill="#2e2c7c"/><rect x="106.74" y="184.28" width="17.94" height="6.18" fill="#2e2d7d"/><rect x="124.38" y="184.28" width="6.18" height="6.18" fill="#2e2c7c"/><rect x="130.26" y="184.28" width="6.18" height="6.18" fill="#2d2b7b"/><rect x="136.14" y="184.28" width="6.18" height="6.18" fill="#2c2a7a"/><rect x="142.02" y="184.28" width="6.18" height="6.18" fill="#2b2979"/><rect x="147.90" y="184.28" width="6.18" height="6.18" fill="#2a2676"/><rect x="153.78" y="184.28" width="6.18" height="6.18" fill="#282373"/><rect x="159.66" y="184.28" width="6.18" height="6.18" fill="#26206f"/><rect x="165.54" y="184.28" width="6.18" height="6.18" fill="#241c6b"/><rect x="171.42" y="184.28" width="6.18" height="6.18" fill="#221a63"/><rect x="177.30" y="184.28" width="6.18" height="6.18" fill="#20195a"/><rect x="183.18" y="184.28" width="6.18" height="6.18" fill="#1f1754"/><rect x="189.06" y="184.28" width="6.18" height="6.18" fill="#1d154d"/><rect x="194.94" y="184.28" width="6.18" height="6.18" fill="#1a1346"/><rect x="200.82" y="184.28" width="6.18" height="6.18" fill="#17113d"/><rect x="206.70" y="184.28" width="6.18" height="6.18" fill="#150f34"/><rect x="212.58" y="184.28" width="6.18" height="6.18" fill="#131023"/><rect x="218.46" y="184.28" width="6.18" height="6.18" fill="#100f14"/><rect x="224.34" y="184.28" width="6.18" height="6.18" fill="#0e0e0d"/><rect x="230.22" y="184.28" width="6.18" height="6.18" fill="#0e0e0c"/><rect x="-4.98" y="190.16" width="17.94" height="6.18" fill="#0e0e0c"/><rect x="12.66" y="190.16" width="6.18" height="6.18" fill="#0f0f11"/><rect x="18.54" y="190.16" width="6.18" height="6.18" fill="#12101d"/><rect x="24.42" y="190.16" width="6.18" height="6.18" fill="#140f2e"/><rect x="30.30" y="190.16" width="6.18" height="6.18" fill="#161039"/><rect x="36.18" y="190.16" width="6.18" height="6.18" fill="#191242"/><rect x="42.06" y="190.16" width="6.18" height="6.18" fill="#1b1449"/><rect x="47.94" y="190.16" width="6.18" height="6.18" fill="#1e1650"/><rect x="53.82" y="190.16" width="6.18" height="6.18" fill="#1f1856"/><rect x="59.70" y="190.16" width="6.18" height="6.18" fill="#211a5d"/><rect x="65.58" y="190.16" width="6.18" height="6.18" fill="#231b66"/><rect x="71.46" y="190.16" width="6.18" height="6.18" fill="#251c6c"/><rect x="77.34" y="190.16" width="6.18" height="6.18" fill="#26206f"/><rect x="83.22" y="190.16" width="6.18" height="6.18" fill="#282272"/><rect x="89.10" y="190.16" width="6.18" height="6.18" fill="#292575"/><rect x="94.98" y="190.16" width="6.18" height="6.18" fill="#2a2777"/><rect x="100.86" y="190.16" width="6.18" height="6.18" fill="#2a2878"/><rect x="106.74" y="190.16" width="23.82" height="6.18" fill="#2b2878"/><rect x="130.26" y="190.16" width="6.18" height="6.18" fill="#2a2777"/><rect x="136.14" y="190.16" width="6.18" height="6.18" fill="#292575"/><rect x="142.02" y="190.16" width="6.18" height="6.18" fill="#282373"/><rect x="147.90" y="190.16" width="6.18" height="6.18" fill="#272070"/><rect x="153.78" y="190.16" width="6.18" height="6.18" fill="#251d6d"/><rect x="159.66" y="190.16" width="6.18" height="6.18" fill="#241b68"/><rect x="165.54" y="190.16" width="6.18" height="6.18" fill="#221a60"/><rect x="171.42" y="190.16" width="6.18" height="6.18" fill="#201959"/><rect x="177.30" y="190.16" width="6.18" height="6.18" fill="#1e1753"/><rect x="183.18" y="190.16" width="6.18" height="6.18" fill="#1d154d"/><rect x="189.06" y="190.16" width="6.18" height="6.18" fill="#1a1347"/><rect x="194.94" y="190.16" width="6.18" height="6.18" fill="#18123e"/><rect x="200.82" y="190.16" width="6.18" height="6.18" fill="#151036"/><rect x="206.70" y="190.16" width="6.18" height="6.18" fill="#130f28"/><rect x="212.58" y="190.16" width="6.18" height="6.18" fill="#111017"/><rect x="218.46" y="190.16" width="6.18" height="6.18" fill="#0f0e0f"/><rect x="224.34" y="190.16" width="12.06" height="6.18" fill="#0e0e0c"/><rect x="-4.98" y="196.04" width="23.82" height="6.18" fill="#0e0e0c"/><rect x="18.54" y="196.04" width="6.18" height="6.18" fill="#100f12"/><rect x="24.42" y="196.04" width="6.18" height="6.18" fill="#12101e"/><rect x="30.30" y="196.04" width="6.18" height="6.18" fill="#140f2f"/><rect x="36.18" y="196.04" width="6.18" height="6.18" fill="#161039"/><rect x="42.06" y="196.04" width="6.18" height="6.18" fill="#181241"/><rect x="47.94" y="196.04" width="6.18" height="6.18" fill="#1b1448"/><rect x="53.82" y="196.04" width="6.18" height="6.18" fill="#1d154f"/><rect x="59.70" y="196.04" width="6.18" height="6.18" fill="#1f1754"/><rect x="65.58" y="196.04" width="6.18" height="6.18" fill="#20195a"/><rect x="71.46" y="196.04" width="6.18" height="6.18" fill="#221a60"/><rect x="77.34" y="196.04" width="6.18" height="6.18" fill="#231b67"/><rect x="83.22" y="196.04" width="6.18" height="6.18" fill="#251c6b"/><rect x="89.10" y="196.04" width="6.18" height="6.18" fill="#261e6e"/><rect x="94.98" y="196.04" width="6.18" height="6.18" fill="#272070"/><rect x="100.86" y="196.04" width="6.18" height="6.18" fill="#272171"/><rect x="106.74" y="196.04" width="17.94" height="6.18" fill="#282272"/><rect x="124.38" y="196.04" width="6.18" height="6.18" fill="#272171"/><rect x="130.26" y="196.04" width="6.18" height="6.18" fill="#272070"/><rect x="136.14" y="196.04" width="6.18" height="6.18" fill="#261f6e"/><rect x="142.02" y="196.04" width="6.18" height="6.18" fill="#251d6c"/><rect x="147.90" y="196.04" width="6.18" height="6.18" fill="#241b69"/><rect x="153.78" y="196.04" width="6.18" height="6.18" fill="#221a62"/><rect x="159.66" y="196.04" width="6.18" height="6.18" fill="#211a5c"/><rect x="165.54" y="196.04" width="6.18" height="6.18" fill="#201857"/><rect x="171.42" y="196.04" width="6.18" height="6.18" fill="#1e1652"/><rect x="177.30" y="196.04" width="6.18" height="6.18" fill="#1c154c"/><rect x="183.18" y="196.04" width="6.18" height="6.18" fill="#1a1346"/><rect x="189.06" y="196.04" width="6.18" height="6.18" fill="#18123e"/><rect x="194.94" y="196.04" width="6.18" height="6.18" fill="#151036"/><rect x="200.82" y="196.04" width="6.18" height="6.18" fill="#130f2a"/><rect x="206.70" y="196.04" width="6.18" height="6.18" fill="#121019"/><rect x="212.58" y="196.04" width="6.18" height="6.18" fill="#0f0f11"/><rect x="218.46" y="196.04" width="17.94" height="6.18" fill="#0e0e0c"/><rect x="-4.98" y="201.92" width="29.70" height="6.18" fill="#0e0e0c"/><rect x="24.42" y="201.92" width="6.18" height="6.18" fill="#100f12"/><rect x="30.30" y="201.92" width="6.18" height="6.18" fill="#12101e"/><rect x="36.18" y="201.92" width="6.18" height="6.18" fill="#140f2e"/><rect x="42.06" y="201.92" width="6.18" height="6.18" fill="#161038"/><rect x="47.94" y="201.92" width="6.18" height="6.18" fill="#181240"/><rect x="53.82" y="201.92" width="6.18" height="6.18" fill="#1a1347"/><rect x="59.70" y="201.92" width="6.18" height="6.18" fill="#1c154c"/><rect x="65.58" y="201.92" width="6.18" height="6.18" fill="#1e1652"/><rect x="71.46" y="201.92" width="6.18" height="6.18" fill="#1f1856"/><rect x="77.34" y="201.92" width="6.18" height="6.18" fill="#21195a"/><rect x="83.22" y="201.92" width="6.18" height="6.18" fill="#221a5f"/><rect x="89.10" y="201.92" width="6.18" height="6.18" fill="#231b64"/><rect x="94.98" y="201.92" width="6.18" height="6.18" fill="#231b67"/><rect x="100.86" y="201.92" width="6.18" height="6.18" fill="#241b6a"/><rect x="106.74" y="201.92" width="17.94" height="6.18" fill="#241c6b"/><rect x="124.38" y="201.92" width="6.18" height="6.18" fill="#241b6a"/><rect x="130.26" y="201.92" width="6.18" height="6.18" fill="#241b68"/><rect x="136.14" y="201.92" width="6.18" height="6.18" fill="#231b64"/><rect x="142.02" y="201.92" width="6.18" height="6.18" fill="#221a60"/><rect x="147.90" y="201.92" width="6.18" height="6.18" fill="#211a5b"/><rect x="153.78" y="201.92" width="6.18" height="6.18" fill="#201858"/><rect x="159.66" y="201.92" width="6.18" height="6.18" fill="#1f1754"/><rect x="165.54" y="201.92" width="6.18" height="6.18" fill="#1d154f"/><rect x="171.42" y="201.92" width="6.18" height="6.18" fill="#1c144a"/><rect x="177.30" y="201.92" width="6.18" height="6.18" fill="#1a1344"/><rect x="183.18" y="201.92" width="6.18" height="6.18" fill="#17113d"/><rect x="189.06" y="201.92" width="6.18" height="6.18" fill="#151036"/><rect x="194.94" y="201.92" width="6.18" height="6.18" fill="#130f2a"/><rect x="200.82" y="201.92" width="6.18" height="6.18" fill="#12101a"/><rect x="206.70" y="201.92" width="6.18" height="6.18" fill="#100f12"/><rect x="212.58" y="201.92" width="23.82" height="6.18" fill="#0e0e0c"/><rect x="-4.98" y="207.80" width="35.58" height="6.18" fill="#0e0e0c"/><rect x="30.30" y="207.80" width="6.18" height="6.18" fill="#100f12"/><rect x="36.18" y="207.80" width="6.18" height="6.18" fill="#12101d"/><rect x="42.06" y="207.80" width="6.18" height="6.18" fill="#140f2c"/><rect x="47.94" y="207.80" width="6.18" height="6.18" fill="#151036"/><rect x="53.82" y="207.80" width="6.18" height="6.18" fill="#17123e"/><rect x="59.70" y="207.80" width="6.18" height="6.18" fill="#1a1344"/><rect x="65.58" y="207.80" width="6.18" height="6.18" fill="#1b1449"/><rect x="71.46" y="207.80" width="6.18" height="6.18" fill="#1d154e"/><rect x="77.34" y="207.80" width="6.18" height="6.18" fill="#1e1652"/><rect x="83.22" y="207.80" width="6.18" height="6.18" fill="#1f1855"/><rect x="89.10" y="207.80" width="6.18" height="6.18" fill="#201858"/><rect x="94.98" y="207.80" width="6.18" height="6.18" fill="#20195a"/><rect x="100.86" y="207.80" width="6.18" height="6.18" fill="#211a5b"/><rect x="106.74" y="207.80" width="6.18" height="6.18" fill="#211a5c"/><rect x="112.62" y="207.80" width="12.06" height="6.18" fill="#211a5d"/><rect x="124.38" y="207.80" width="6.18" height="6.18" fill="#211a5c"/><rect x="130.26" y="207.80" width="6.18" height="6.18" fill="#20195a"/><rect x="136.14" y="207.80" width="6.18" height="6.18" fill="#201958"/><rect x="142.02" y="207.80" width="6.18" height="6.18" fill="#1f1856"/><rect x="147.90" y="207.80" width="6.18" height="6.18" fill="#1e1753"/><rect x="153.78" y="207.80" width="6.18" height="6.18" fill="#1d154f"/><rect x="159.66" y="207.80" width="6.18" height="6.18" fill="#1c144b"/><rect x="165.54" y="207.80" width="6.18" height="6.18" fill="#1b1447"/><rect x="171.42" y="207.80" width="6.18" height="6.18" fill="#181241"/><rect x="177.30" y="207.80" width="6.18" height="6.18" fill="#17113b"/><rect x="183.18" y="207.80" width="6.18" height="6.18" fill="#150f34"/><rect x="189.06" y="207.80" width="6.18" height="6.18" fill="#130f28"/><rect x="194.94" y="207.80" width="6.18" height="6.18" fill="#121019"/><rect x="200.82" y="207.80" width="6.18" height="6.18" fill="#100f12"/><rect x="206.70" y="207.80" width="29.70" height="6.18" fill="#0e0e0c"/><rect x="-4.98" y="213.68" width="41.46" height="6.18" fill="#0e0e0c"/><rect x="36.18" y="213.68" width="6.18" height="6.18" fill="#0f0f11"/><rect x="42.06" y="213.68" width="6.18" height="6.18" fill="#12101a"/><rect x="47.94" y="213.68" width="6.18" height="6.18" fill="#130f28"/><rect x="53.82" y="213.68" width="6.18" height="6.18" fill="#150f34"/><rect x="59.70" y="213.68" width="6.18" height="6.18" fill="#16113a"/><rect x="65.58" y="213.68" width="6.18" height="6.18" fill="#181240"/><rect x="71.46" y="213.68" width="6.18" height="6.18" fill="#1a1345"/><rect x="77.34" y="213.68" width="6.18" height="6.18" fill="#1b1449"/><rect x="83.22" y="213.68" width="6.18" height="6.18" fill="#1c154c"/><rect x="89.10" y="213.68" width="6.18" height="6.18" fill="#1d154f"/><rect x="94.98" y="213.68" width="6.18" height="6.18" fill="#1e1651"/><rect x="100.86" y="213.68" width="6.18" height="6.18" fill="#1e1752"/><rect x="106.74" y="213.68" width="6.18" height="6.18" fill="#1e1753"/><rect x="112.62" y="213.68" width="6.18" height="6.18" fill="#1f1753"/><rect x="118.50" y="213.68" width="6.18" height="6.18" fill="#1e1753"/><rect x="124.38" y="213.68" width="6.18" height="6.18" fill="#1e1752"/><rect x="130.26" y="213.68" width="6.18" height="6.18" fill="#1e1651"/><rect x="136.14" y="213.68" width="6.18" height="6.18" fill="#1d154f"/><rect x="142.02" y="213.68" width="6.18" height="6.18" fill="#1d154d"/><rect x="147.90" y="213.68" width="6.18" height="6.18" fill="#1c144a"/><rect x="153.78" y="213.68" width="6.18" height="6.18" fill="#1a1347"/><rect x="159.66" y="213.68" width="6.18" height="6.18" fill="#191242"/><rect x="165.54" y="213.68" width="6.18" height="6.18" fill="#17113d"/><rect x="171.42" y="213.68" width="6.18" height="6.18" fill="#161037"/><rect x="177.30" y="213.68" width="6.18" height="6.18" fill="#140f30"/><rect x="183.18" y="213.68" width="6.18" height="6.18" fill="#131023"/><rect x="189.06" y="213.68" width="6.18" height="6.18" fill="#111017"/><rect x="194.94" y="213.68" width="6.18" height="6.18" fill="#0f0f11"/><rect x="200.82" y="213.68" width="35.58" height="6.18" fill="#0e0e0c"/><rect x="-4.98" y="219.56" width="47.34" height="6.18" fill="#0e0e0c"/><rect x="42.06" y="219.56" width="6.18" height="6.18" fill="#0f0e0f"/><rect x="47.94" y="219.56" width="6.18" height="6.18" fill="#111017"/><rect x="53.82" y="219.56" width="6.18" height="6.18" fill="#131022"/><rect x="59.70" y="219.56" width="6.18" height="6.18" fill="#140f2f"/><rect x="65.58" y="219.56" width="6.18" height="6.18" fill="#151036"/><rect x="71.46" y="219.56" width="6.18" height="6.18" fill="#17113b"/><rect x="77.34" y="219.56" width="6.18" height="6.18" fill="#18123f"/><rect x="83.22" y="219.56" width="6.18" height="6.18" fill="#191343"/><rect x="89.10" y="219.56" width="6.18" height="6.18" fill="#1a1346"/><rect x="94.98" y="219.56" width="6.18" height="6.18" fill="#1b1448"/><rect x="100.86" y="219.56" width="6.18" height="6.18" fill="#1b1449"/><rect x="106.74" y="219.56" width="17.94" height="6.18" fill="#1c144a"/><rect x="124.38" y="219.56" width="6.18" height="6.18" fill="#1b1449"/><rect x="130.26" y="219.56" width="6.18" height="6.18" fill="#1b1448"/><rect x="136.14" y="219.56" width="6.18" height="6.18" fill="#1a1346"/><rect x="142.02" y="219.56" width="6.18" height="6.18" fill="#191343"/><rect x="147.90" y="219.56" width="6.18" height="6.18" fill="#181240"/><rect x="153.78" y="219.56" width="6.18" height="6.18" fill="#17113c"/><rect x="159.66" y="219.56" width="6.18" height="6.18" fill="#161038"/><rect x="165.54" y="219.56" width="6.18" height="6.18" fill="#140f33"/><rect x="171.42" y="219.56" width="6.18" height="6.18" fill="#130f28"/><rect x="177.30" y="219.56" width="6.18" height="6.18" fill="#12101c"/><rect x="183.18" y="219.56" width="6.18" height="6.18" fill="#100f14"/><rect x="189.06" y="219.56" width="6.18" height="6.18" fill="#0f0e0f"/><rect x="194.94" y="219.56" width="41.46" height="6.18" fill="#0e0e0c"/><rect x="-4.98" y="225.44" width="53.22" height="6.18" fill="#0e0e0c"/><rect x="47.94" y="225.44" width="6.18" height="6.18" fill="#0e0e0d"/><rect x="53.82" y="225.44" width="6.18" height="6.18" fill="#100f13"/><rect x="59.70" y="225.44" width="6.18" height="6.18" fill="#12101a"/><rect x="65.58" y="225.44" width="6.18" height="6.18" fill="#131024"/><rect x="71.46" y="225.44" width="6.18" height="6.18" fill="#140f2e"/><rect x="77.34" y="225.44" width="6.18" height="6.18" fill="#150f34"/><rect x="83.22" y="225.44" width="6.18" height="6.18" fill="#161038"/><rect x="89.10" y="225.44" width="6.18" height="6.18" fill="#16113b"/><rect x="94.98" y="225.44" width="6.18" height="6.18" fill="#17113d"/><rect x="100.86" y="225.44" width="6.18" height="6.18" fill="#18123e"/><rect x="106.74" y="225.44" width="6.18" height="6.18" fill="#18123f"/><rect x="112.62" y="225.44" width="6.18" height="6.18" fill="#181240"/><rect x="118.50" y="225.44" width="6.18" height="6.18" fill="#18123f"/><rect x="124.38" y="225.44" width="6.18" height="6.18" fill="#18123e"/><rect x="130.26" y="225.44" width="6.18" height="6.18" fill="#17113d"/><rect x="136.14" y="225.44" width="6.18" height="6.18" fill="#17113b"/><rect x="142.02" y="225.44" width="6.18" height="6.18" fill="#161038"/><rect x="147.90" y="225.44" width="6.18" height="6.18" fill="#151035"/><rect x="153.78" y="225.44" width="6.18" height="6.18" fill="#140f30"/><rect x="159.66" y="225.44" width="6.18" height="6.18" fill="#130f28"/><rect x="165.54" y="225.44" width="6.18" height="6.18" fill="#12101e"/><rect x="171.42" y="225.44" width="6.18" height="6.18" fill="#110f16"/><rect x="177.30" y="225.44" width="6.18" height="6.18" fill="#100f11"/><rect x="183.18" y="225.44" width="6.18" height="6.18" fill="#0e0e0d"/><rect x="189.06" y="225.44" width="47.34" height="6.18" fill="#0e0e0c"/><rect x="-4.98" y="231.32" width="64.98" height="6.18" fill="#0e0e0c"/><rect x="59.70" y="231.32" width="6.18" height="6.18" fill="#0f0e0f"/><rect x="65.58" y="231.32" width="6.18" height="6.18" fill="#100f14"/><rect x="71.46" y="231.32" width="6.18" height="6.18" fill="#121019"/><rect x="77.34" y="231.32" width="6.18" height="6.18" fill="#121020"/><rect x="83.22" y="231.32" width="6.18" height="6.18" fill="#130f27"/><rect x="89.10" y="231.32" width="6.18" height="6.18" fill="#140f2c"/><rect x="94.98" y="231.32" width="6.18" height="6.18" fill="#140f30"/><rect x="100.86" y="231.32" width="6.18" height="6.18" fill="#140f33"/><rect x="106.74" y="231.32" width="17.94" height="6.18" fill="#150f34"/><rect x="124.38" y="231.32" width="6.18" height="6.18" fill="#140f33"/><rect x="130.26" y="231.32" width="6.18" height="6.18" fill="#140f31"/><rect x="136.14" y="231.32" width="6.18" height="6.18" fill="#140f2d"/><rect x="142.02" y="231.32" width="6.18" height="6.18" fill="#130f28"/><rect x="147.90" y="231.32" width="6.18" height="6.18" fill="#131021"/><rect x="153.78" y="231.32" width="6.18" height="6.18" fill="#12101a"/><rect x="159.66" y="231.32" width="6.18" height="6.18" fill="#110f15"/><rect x="165.54" y="231.32" width="6.18" height="6.18" fill="#100f12"/><rect x="171.42" y="231.32" width="6.18" height="6.18" fill="#0f0e0e"/><rect x="177.30" y="231.32" width="59.10" height="6.18" fill="#0e0e0c"/>
</g>
<g transform="translate(236.8,0)" clip-path="url(#cb)">
<rect x="0" y="0" width="232.2" height="233.6" fill="#0e0e0c"/>
<rect x="-4.38" y="-3.58" width="64.98" height="6.18" fill="#0e0e0c"/><rect x="60.30" y="-3.58" width="6.18" height="6.18" fill="#0e0e0d"/><rect x="66.18" y="-3.58" width="6.18" height="6.18" fill="#0f0e0f"/><rect x="72.06" y="-3.58" width="6.18" height="6.18" fill="#100f11"/><rect x="77.94" y="-3.58" width="6.18" height="6.18" fill="#100f13"/><rect x="83.82" y="-3.58" width="6.18" height="6.18" fill="#100f15"/><rect x="89.70" y="-3.58" width="6.18" height="6.18" fill="#110f16"/><rect x="95.58" y="-3.58" width="6.18" height="6.18" fill="#111017"/><rect x="101.46" y="-3.58" width="6.18" height="6.18" fill="#121018"/><rect x="107.34" y="-3.58" width="17.94" height="6.18" fill="#121019"/><rect x="124.98" y="-3.58" width="6.18" height="6.18" fill="#121018"/><rect x="130.86" y="-3.58" width="6.18" height="6.18" fill="#111017"/><rect x="136.74" y="-3.58" width="6.18" height="6.18" fill="#110f16"/><rect x="142.62" y="-3.58" width="6.18" height="6.18" fill="#100f15"/><rect x="148.50" y="-3.58" width="6.18" height="6.18" fill="#100f13"/><rect x="154.38" y="-3.58" width="6.18" height="6.18" fill="#100f11"/><rect x="160.26" y="-3.58" width="6.18" height="6.18" fill="#0f0e0f"/><rect x="166.14" y="-3.58" width="6.18" height="6.18" fill="#0e0e0d"/><rect x="172.02" y="-3.58" width="64.98" height="6.18" fill="#0e0e0c"/><rect x="-4.38" y="2.30" width="53.22" height="6.18" fill="#0e0e0c"/><rect x="48.54" y="2.30" width="6.18" height="6.18" fill="#0e0e0d"/><rect x="54.42" y="2.30" width="6.18" height="6.18" fill="#0f0f10"/><rect x="60.30" y="2.30" width="6.18" height="6.18" fill="#100f12"/><rect x="66.18" y="2.30" width="6.18" height="6.18" fill="#100f15"/><rect x="72.06" y="2.30" width="6.18" height="6.18" fill="#111017"/><rect x="77.94" y="2.30" width="6.18" height="6.18" fill="#12101a"/><rect x="83.82" y="2.30" width="6.18" height="6.18" fill="#12101e"/><rect x="89.70" y="2.30" width="6.18" height="6.18" fill="#131021"/><rect x="95.58" y="2.30" width="6.18" height="6.18" fill="#131023"/><rect x="101.46" y="2.30" width="6.18" height="6.18" fill="#131025"/><rect x="107.34" y="2.30" width="6.18" height="6.18" fill="#130f26"/><rect x="113.22" y="2.30" width="6.18" height="6.18" fill="#130f27"/><rect x="119.10" y="2.30" width="6.18" height="6.18" fill="#130f26"/><rect x="124.98" y="2.30" width="6.18" height="6.18" fill="#131025"/><rect x="130.86" y="2.30" width="6.18" height="6.18" fill="#131023"/><rect x="136.74" y="2.30" width="6.18" height="6.18" fill="#131021"/><rect x="142.62" y="2.30" width="6.18" height="6.18" fill="#12101e"/><rect x="148.50" y="2.30" width="6.18" height="6.18" fill="#12101a"/><rect x="154.38" y="2.30" width="6.18" height="6.18" fill="#111017"/><rect x="160.26" y="2.30" width="6.18" height="6.18" fill="#100f15"/><rect x="166.14" y="2.30" width="6.18" height="6.18" fill="#100f12"/><rect x="172.02" y="2.30" width="6.18" height="6.18" fill="#0f0f10"/><rect x="177.90" y="2.30" width="6.18" height="6.18" fill="#0e0e0d"/><rect x="183.78" y="2.30" width="53.22" height="6.18" fill="#0e0e0c"/><rect x="-4.38" y="8.18" width="47.34" height="6.18" fill="#0e0e0c"/><rect x="42.66" y="8.18" width="6.18" height="6.18" fill="#0f0e0f"/><rect x="48.54" y="8.18" width="6.18" height="6.18" fill="#100f12"/><rect x="54.42" y="8.18" width="6.18" height="6.18" fill="#100f15"/><rect x="60.30" y="8.18" width="6.18" height="6.18" fill="#111018"/><rect x="66.18" y="8.18" width="6.18" height="6.18" fill="#12101d"/><rect x="72.06" y="8.18" width="6.18" height="6.18" fill="#131022"/><rect x="77.94" y="8.18" width="6.18" height="6.18" fill="#130f28"/><rect x="83.82" y="8.18" width="6.18" height="6.18" fill="#140f2e"/><rect x="89.70" y="8.18" width="6.18" height="6.18" fill="#140f33"/><rect x="95.58" y="8.18" width="6.18" height="6.18" fill="#151035"/><rect x="101.46" y="8.18" width="6.18" height="6.18" fill="#151037"/><rect x="107.34" y="8.18" width="17.94" height="6.18" fill="#161038"/><rect x="124.98" y="8.18" width="6.18" height="6.18" fill="#151037"/><rect x="130.86" y="8.18" width="6.18" height="6.18" fill="#151035"/><rect x="136.74" y="8.18" width="6.18" height="6.18" fill="#140f33"/><rect x="142.62" y="8.18" width="6.18" height="6.18" fill="#140f2e"/><rect x="148.50" y="8.18" width="6.18" height="6.18" fill="#130f28"/><rect x="154.38" y="8.18" width="6.18" height="6.18" fill="#131022"/><rect x="160.26" y="8.18" width="6.18" height="6.18" fill="#12101d"/><rect x="166.14" y="8.18" width="6.18" height="6.18" fill="#111018"/><rect x="172.02" y="8.18" width="6.18" height="6.18" fill="#100f15"/><rect x="177.90" y="8.18" width="6.18" height="6.18" fill="#100f12"/><rect x="183.78" y="8.18" width="6.18" height="6.18" fill="#0f0e0f"/><rect x="189.66" y="8.18" width="47.34" height="6.18" fill="#0e0e0c"/><rect x="-4.38" y="14.06" width="41.46" height="6.18" fill="#0e0e0c"/><rect x="36.78" y="14.06" width="6.18" height="6.18" fill="#0f0f10"/><rect x="42.66" y="14.06" width="6.18" height="6.18" fill="#100f13"/><rect x="48.54" y="14.06" width="6.18" height="6.18" fill="#111017"/><rect x="54.42" y="14.06" width="6.18" height="6.18" fill="#12101c"/><rect x="60.30" y="14.06" width="6.18" height="6.18" fill="#131023"/><rect x="66.18" y="14.06" width="6.18" height="6.18" fill="#130f2b"/><rect x="72.06" y="14.06" width="6.18" height="6.18" fill="#140f33"/><rect x="77.94" y="14.06" width="6.18" height="6.18" fill="#161038"/><rect x="83.82" y="14.06" width="6.18" height="6.18" fill="#16113b"/><rect x="89.70" y="14.06" width="6.18" height="6.18" fill="#17113d"/><rect x="95.58" y="14.06" width="6.18" height="6.18" fill="#18123f"/><rect x="101.46" y="14.06" width="6.18" height="6.18" fill="#181241"/><rect x="107.34" y="14.06" width="6.18" height="6.18" fill="#191241"/><rect x="113.22" y="14.06" width="6.18" height="6.18" fill="#191242"/><rect x="119.10" y="14.06" width="6.18" height="6.18" fill="#191241"/><rect x="124.98" y="14.06" width="6.18" height="6.18" fill="#181241"/><rect x="130.86" y="14.06" width="6.18" height="6.18" fill="#18123f"/><rect x="136.74" y="14.06" width="6.18" height="6.18" fill="#17113d"/><rect x="142.62" y="14.06" width="6.18" height="6.18" fill="#16113b"/><rect x="148.50" y="14.06" width="6.18" height="6.18" fill="#161038"/><rect x="154.38" y="14.06" width="6.18" height="6.18" fill="#140f33"/><rect x="160.26" y="14.06" width="6.18" height="6.18" fill="#130f2b"/><rect x="166.14" y="14.06" width="6.18" height="6.18" fill="#131023"/><rect x="172.02" y="14.06" width="6.18" height="6.18" fill="#12101c"/><rect x="177.90" y="14.06" width="6.18" height="6.18" fill="#111017"/><rect x="183.78" y="14.06" width="6.18" height="6.18" fill="#100f13"/><rect x="189.66" y="14.06" width="6.18" height="6.18" fill="#0f0f10"/><rect x="195.54" y="14.06" width="41.46" height="6.18" fill="#0e0e0c"/><rect x="-4.38" y="19.94" width="29.70" height="6.18" fill="#0e0e0c"/><rect x="25.02" y="19.94" width="6.18" height="6.18" fill="#0e0e0d"/><rect x="30.90" y="19.94" width="6.18" height="6.18" fill="#0f0f11"/><rect x="36.78" y="19.94" width="6.18" height="6.18" fill="#100f15"/><rect x="42.66" y="19.94" width="6.18" height="6.18" fill="#121019"/><rect x="48.54" y="19.94" width="6.18" height="6.18" fill="#131021"/><rect x="54.42" y="19.94" width="6.18" height="6.18" fill="#130f2a"/><rect x="60.30" y="19.94" width="6.18" height="6.18" fill="#140f34"/><rect x="66.18" y="19.94" width="6.18" height="6.18" fill="#161039"/><rect x="72.06" y="19.94" width="6.18" height="6.18" fill="#17113d"/><rect x="77.94" y="19.94" width="6.18" height="6.18" fill="#181241"/><rect x="83.82" y="19.94" width="6.18" height="6.18" fill="#191344"/><rect x="89.70" y="19.94" width="6.18" height="6.18" fill="#1a1347"/><rect x="95.58" y="19.94" width="6.18" height="6.18" fill="#1b1449"/><rect x="101.46" y="19.94" width="6.18" height="6.18" fill="#1c144b"/><rect x="107.34" y="19.94" width="6.18" height="6.18" fill="#1c144c"/><rect x="113.22" y="19.94" width="6.18" height="6.18" fill="#1c154c"/><rect x="119.10" y="19.94" width="6.18" height="6.18" fill="#1c144c"/><rect x="124.98" y="19.94" width="6.18" height="6.18" fill="#1c144b"/><rect x="130.86" y="19.94" width="6.18" height="6.18" fill="#1b1449"/><rect x="136.74" y="19.94" width="6.18" height="6.18" fill="#1a1347"/><rect x="142.62" y="19.94" width="6.18" height="6.18" fill="#191344"/><rect x="148.50" y="19.94" width="6.18" height="6.18" fill="#181241"/><rect x="154.38" y="19.94" width="6.18" height="6.18" fill="#17113d"/><rect x="160.26" y="19.94" width="6.18" height="6.18" fill="#161039"/><rect x="166.14" y="19.94" width="6.18" height="6.18" fill="#140f34"/><rect x="172.02" y="19.94" width="6.18" height="6.18" fill="#130f2a"/><rect x="177.90" y="19.94" width="6.18" height="6.18" fill="#131021"/><rect x="183.78" y="19.94" width="6.18" height="6.18" fill="#121019"/><rect x="189.66" y="19.94" width="6.18" height="6.18" fill="#100f15"/><rect x="195.54" y="19.94" width="6.18" height="6.18" fill="#0f0f11"/><rect x="201.42" y="19.94" width="6.18" height="6.18" fill="#0e0e0d"/><rect x="207.30" y="19.94" width="29.70" height="6.18" fill="#0e0e0c"/><rect x="-4.38" y="25.82" width="23.82" height="6.18" fill="#0e0e0c"/><rect x="19.14" y="25.82" width="6.18" height="6.18" fill="#0e0e0d"/><rect x="25.02" y="25.82" width="6.18" height="6.18" fill="#0f0f11"/><rect x="30.90" y="25.82" width="6.18" height="6.18" fill="#110f15"/><rect x="36.78" y="25.82" width="6.18" height="6.18" fill="#12101b"/><rect x="42.66" y="25.82" width="6.18" height="6.18" fill="#131024"/><rect x="48.54" y="25.82" width="6.18" height="6.18" fill="#140f2f"/><rect x="54.42" y="25.82" width="6.18" height="6.18" fill="#161038"/><rect x="60.30" y="25.82" width="6.18" height="6.18" fill="#17113d"/><rect x="66.18" y="25.82" width="6.18" height="6.18" fill="#191242"/><rect x="72.06" y="25.82" width="6.18" height="6.18" fill="#1a1346"/><rect x="77.94" y="25.82" width="6.18" height="6.18" fill="#1c144a"/><rect x="83.82" y="25.82" width="6.18" height="6.18" fill="#1d154e"/><rect x="89.70" y="25.82" width="6.18" height="6.18" fill="#1e1651"/><rect x="95.58" y="25.82" width="6.18" height="6.18" fill="#1f1753"/><rect x="101.46" y="25.82" width="6.18" height="6.18" fill="#1f1855"/><rect x="107.34" y="25.82" width="6.18" height="6.18" fill="#1f1856"/><rect x="113.22" y="25.82" width="6.18" height="6.18" fill="#1f1857"/><rect x="119.10" y="25.82" width="6.18" height="6.18" fill="#1f1856"/><rect x="124.98" y="25.82" width="6.18" height="6.18" fill="#1f1855"/><rect x="130.86" y="25.82" width="6.18" height="6.18" fill="#1f1753"/><rect x="136.74" y="25.82" width="6.18" height="6.18" fill="#1e1651"/><rect x="142.62" y="25.82" width="6.18" height="6.18" fill="#1d154e"/><rect x="148.50" y="25.82" width="6.18" height="6.18" fill="#1c144a"/><rect x="154.38" y="25.82" width="6.18" height="6.18" fill="#1a1346"/><rect x="160.26" y="25.82" width="6.18" height="6.18" fill="#191242"/><rect x="166.14" y="25.82" width="6.18" height="6.18" fill="#17113d"/><rect x="172.02" y="25.82" width="6.18" height="6.18" fill="#161038"/><rect x="177.90" y="25.82" width="6.18" height="6.18" fill="#140f2f"/><rect x="183.78" y="25.82" width="6.18" height="6.18" fill="#131024"/><rect x="189.66" y="25.82" width="6.18" height="6.18" fill="#12101b"/><rect x="195.54" y="25.82" width="6.18" height="6.18" fill="#110f15"/><rect x="201.42" y="25.82" width="6.18" height="6.18" fill="#0f0f11"/><rect x="207.30" y="25.82" width="6.18" height="6.18" fill="#0e0e0d"/><rect x="213.18" y="25.82" width="23.82" height="6.18" fill="#0e0e0c"/><rect x="-4.38" y="31.70" width="23.82" height="6.18" fill="#0e0e0c"/><rect x="19.14" y="31.70" width="6.18" height="6.18" fill="#0f0f11"/><rect x="25.02" y="31.70" width="6.18" height="6.18" fill="#110f15"/><rect x="30.90" y="31.70" width="6.18" height="6.18" fill="#12101b"/><rect x="36.78" y="31.70" width="6.18" height="6.18" fill="#131025"/><rect x="42.66" y="31.70" width="6.18" height="6.18" fill="#140f33"/><rect x="48.54" y="31.70" width="6.18" height="6.18" fill="#16113a"/><rect x="54.42" y="31.70" width="6.18" height="6.18" fill="#181240"/><rect x="60.30" y="31.70" width="6.18" height="6.18" fill="#1a1345"/><rect x="66.18" y="31.70" width="6.18" height="6.18" fill="#1c144b"/><rect x="72.06" y="31.70" width="6.18" height="6.18" fill="#1d1650"/><rect x="77.94" y="31.70" width="6.18" height="6.18" fill="#1f1754"/><rect x="83.82" y="31.70" width="6.18" height="6.18" fill="#201958"/><rect x="89.70" y="31.70" width="6.18" height="6.18" fill="#211a5b"/><rect x="95.58" y="31.70" width="6.18" height="6.18" fill="#211a5d"/><rect x="101.46" y="31.70" width="6.18" height="6.18" fill="#211a5e"/><rect x="107.34" y="31.70" width="6.18" height="6.18" fill="#221a5f"/><rect x="113.22" y="31.70" width="6.18" height="6.18" fill="#221a60"/><rect x="119.10" y="31.70" width="6.18" height="6.18" fill="#221a5f"/><rect x="124.98" y="31.70" width="6.18" height="6.18" fill="#211a5e"/><rect x="130.86" y="31.70" width="6.18" height="6.18" fill="#211a5d"/><rect x="136.74" y="31.70" width="6.18" height="6.18" fill="#211a5b"/><rect x="142.62" y="31.70" width="6.18" height="6.18" fill="#201958"/><rect x="148.50" y="31.70" width="6.18" height="6.18" fill="#1f1754"/><rect x="154.38" y="31.70" width="6.18" height="6.18" fill="#1d1650"/><rect x="160.26" y="31.70" width="6.18" height="6.18" fill="#1c144b"/><rect x="166.14" y="31.70" width="6.18" height="6.18" fill="#1a1345"/><rect x="172.02" y="31.70" width="6.18" height="6.18" fill="#181240"/><rect x="177.90" y="31.70" width="6.18" height="6.18" fill="#16113a"/><rect x="183.78" y="31.70" width="6.18" height="6.18" fill="#140f33"/><rect x="189.66" y="31.70" width="6.18" height="6.18" fill="#131025"/><rect x="195.54" y="31.70" width="6.18" height="6.18" fill="#12101b"/><rect x="201.42" y="31.70" width="6.18" height="6.18" fill="#110f15"/><rect x="207.30" y="31.70" width="6.18" height="6.18" fill="#0f0f11"/><rect x="213.18" y="31.70" width="23.82" height="6.18" fill="#0e0e0c"/><rect x="-4.38" y="37.58" width="17.94" height="6.18" fill="#0e0e0c"/><rect x="13.26" y="37.58" width="6.18" height="6.18" fill="#0f0f10"/><rect x="19.14" y="37.58" width="6.18" height="6.18" fill="#100f15"/><rect x="25.02" y="37.58" width="6.18" height="6.18" fill="#12101b"/><rect x="30.90" y="37.58" width="6.18" height="6.18" fill="#131025"/><rect x="36.78" y="37.58" width="6.18" height="6.18" fill="#140f33"/><rect x="42.66" y="37.58" width="6.18" height="6.18" fill="#17113b"/><rect x="48.54" y="37.58" width="6.18" height="6.18" fill="#191241"/><rect x="54.42" y="37.58" width="6.18" height="6.18" fill="#1b1448"/><rect x="60.30" y="37.58" width="6.18" height="6.18" fill="#1d154e"/><rect x="66.18" y="37.58" width="6.18" height="6.18" fill="#1f1754"/><rect x="72.06" y="37.58" width="6.18" height="6.18" fill="#201959"/><rect x="77.94" y="37.58" width="6.18" height="6.18" fill="#211a5d"/><rect x="83.82" y="37.58" width="6.18" height="6.18" fill="#221a60"/><rect x="89.70" y="37.58" width="6.18" height="6.18" fill="#231b64"/><rect x="95.58" y="37.58" width="6.18" height="6.18" fill="#231b66"/><rect x="101.46" y="37.58" width="6.18" height="6.18" fill="#241b68"/><rect x="107.34" y="37.58" width="17.94" height="6.18" fill="#241b69"/><rect x="124.98" y="37.58" width="6.18" height="6.18" fill="#241b68"/><rect x="130.86" y="37.58" width="6.18" height="6.18" fill="#231b66"/><rect x="136.74" y="37.58" width="6.18" height="6.18" fill="#231b64"/><rect x="142.62" y="37.58" width="6.18" height="6.18" fill="#221a60"/><rect x="148.50" y="37.58" width="6.18" height="6.18" fill="#211a5d"/><rect x="154.38" y="37.58" width="6.18" height="6.18" fill="#201959"/><rect x="160.26" y="37.58" width="6.18" height="6.18" fill="#1f1754"/><rect x="166.14" y="37.58" width="6.18" height="6.18" fill="#1d154e"/><rect x="172.02" y="37.58" width="6.18" height="6.18" fill="#1b1448"/><rect x="177.90" y="37.58" width="6.18" height="6.18" fill="#191241"/><rect x="183.78" y="37.58" width="6.18" height="6.18" fill="#17113b"/><rect x="189.66" y="37.58" width="6.18" height="6.18" fill="#140f33"/><rect x="195.54" y="37.58" width="6.18" height="6.18" fill="#131025"/><rect x="201.42" y="37.58" width="6.18" height="6.18" fill="#12101b"/><rect x="207.30" y="37.58" width="6.18" height="6.18" fill="#100f15"/><rect x="213.18" y="37.58" width="6.18" height="6.18" fill="#0f0f10"/><rect x="219.06" y="37.58" width="17.94" height="6.18" fill="#0e0e0c"/><rect x="-4.38" y="43.46" width="12.06" height="6.18" fill="#0e0e0c"/><rect x="7.38" y="43.46" width="6.18" height="6.18" fill="#0f0e0f"/><rect x="13.26" y="43.46" width="6.18" height="6.18" fill="#100f13"/><rect x="19.14" y="43.46" width="6.18" height="6.18" fill="#121019"/><rect x="25.02" y="43.46" width="6.18" height="6.18" fill="#131024"/><rect x="30.90" y="43.46" width="6.18" height="6.18" fill="#140f33"/><rect x="36.78" y="43.46" width="6.18" height="6.18" fill="#17113b"/><rect x="42.66" y="43.46" width="6.18" height="6.18" fill="#191242"/><rect x="48.54" y="43.46" width="6.18" height="6.18" fill="#1b1449"/><rect x="54.42" y="43.46" width="6.18" height="6.18" fill="#1e1650"/><rect x="60.30" y="43.46" width="6.18" height="6.18" fill="#1f1857"/><rect x="66.18" y="43.46" width="6.18" height="6.18" fill="#211a5c"/><rect x="72.06" y="43.46" width="6.18" height="6.18" fill="#221a61"/><rect x="77.94" y="43.46" width="6.18" height="6.18" fill="#231b65"/><rect x="83.82" y="43.46" width="6.18" height="6.18" fill="#241b69"/><rect x="89.70" y="43.46" width="6.18" height="6.18" fill="#251d6c"/><rect x="95.58" y="43.46" width="6.18" height="6.18" fill="#26206f"/><rect x="101.46" y="43.46" width="6.18" height="6.18" fill="#272171"/><rect x="107.34" y="43.46" width="6.18" height="6.18" fill="#282272"/><rect x="113.22" y="43.46" width="6.18" height="6.18" fill="#282372"/><rect x="119.10" y="43.46" width="6.18" height="6.18" fill="#282272"/><rect x="124.98" y="43.46" width="6.18" height="6.18" fill="#272171"/><rect x="130.86" y="43.46" width="6.18" height="6.18" fill="#26206f"/><rect x="136.74" y="43.46" width="6.18" height="6.18" fill="#251d6c"/><rect x="142.62" y="43.46" width="6.18" height="6.18" fill="#241b69"/><rect x="148.50" y="43.46" width="6.18" height="6.18" fill="#231b65"/><rect x="154.38" y="43.46" width="6.18" height="6.18" fill="#221a61"/><rect x="160.26" y="43.46" width="6.18" height="6.18" fill="#211a5c"/><rect x="166.14" y="43.46" width="6.18" height="6.18" fill="#1f1857"/><rect x="172.02" y="43.46" width="6.18" height="6.18" fill="#1e1650"/><rect x="177.90" y="43.46" width="6.18" height="6.18" fill="#1b1449"/><rect x="183.78" y="43.46" width="6.18" height="6.18" fill="#191242"/><rect x="189.66" y="43.46" width="6.18" height="6.18" fill="#17113b"/><rect x="195.54" y="43.46" width="6.18" height="6.18" fill="#140f33"/><rect x="201.42" y="43.46" width="6.18" height="6.18" fill="#131024"/><rect x="207.30" y="43.46" width="6.18" height="6.18" fill="#121019"/><rect x="213.18" y="43.46" width="6.18" height="6.18" fill="#100f13"/><rect x="219.06" y="43.46" width="6.18" height="6.18" fill="#0f0e0f"/><rect x="224.94" y="43.46" width="12.06" height="6.18" fill="#0e0e0c"/><rect x="-4.38" y="49.34" width="6.18" height="6.18" fill="#0e0e0c"/><rect x="1.50" y="49.34" width="6.18" height="6.18" fill="#0e0e0d"/><rect x="7.38" y="49.34" width="6.18" height="6.18" fill="#100f12"/><rect x="13.26" y="49.34" width="6.18" height="6.18" fill="#111017"/><rect x="19.14" y="49.34" width="6.18" height="6.18" fill="#131021"/><rect x="25.02" y="49.34" width="6.18" height="6.18" fill="#140f2f"/><rect x="30.90" y="49.34" width="6.18" height="6.18" fill="#16113a"/><rect x="36.78" y="49.34" width="6.18" height="6.18" fill="#191241"/><rect x="42.66" y="49.34" width="6.18" height="6.18" fill="#1b1449"/><rect x="48.54" y="49.34" width="6.18" height="6.18" fill="#1e1651"/><rect x="54.42" y="49.34" width="6.18" height="6.18" fill="#201958"/><rect x="60.30" y="49.34" width="6.18" height="6.18" fill="#211a5e"/><rect x="66.18" y="49.34" width="6.18" height="6.18" fill="#231b64"/><rect x="72.06" y="49.34" width="6.18" height="6.18" fill="#241b69"/><rect x="77.94" y="49.34" width="6.18" height="6.18" fill="#261e6e"/><rect x="83.82" y="49.34" width="6.18" height="6.18" fill="#282272"/><rect x="89.70" y="49.34" width="6.18" height="6.18" fill="#292575"/><rect x="95.58" y="49.34" width="6.18" height="6.18" fill="#2a2878"/><rect x="101.46" y="49.34" width="6.18" height="6.18" fill="#2b2979"/><rect x="107.34" y="49.34" width="17.94" height="6.18" fill="#2c2a7a"/><rect x="124.98" y="49.34" width="6.18" height="6.18" fill="#2b2979"/><rect x="130.86" y="49.34" width="6.18" height="6.18" fill="#2a2878"/><rect x="136.74" y="49.34" width="6.18" height="6.18" fill="#292575"/><rect x="142.62" y="49.34" width="6.18" height="6.18" fill="#282272"/><rect x="148.50" y="49.34" width="6.18" height="6.18" fill="#261e6e"/><rect x="154.38" y="49.34" width="6.18" height="6.18" fill="#241b69"/><rect x="160.26" y="49.34" width="6.18" height="6.18" fill="#231b64"/><rect x="166.14" y="49.34" width="6.18" height="6.18" fill="#211a5e"/><rect x="172.02" y="49.34" width="6.18" height="6.18" fill="#201958"/><rect x="177.90" y="49.34" width="6.18" height="6.18" fill="#1e1651"/><rect x="183.78" y="49.34" width="6.18" height="6.18" fill="#1b1449"/><rect x="189.66" y="49.34" width="6.18" height="6.18" fill="#191241"/><rect x="195.54" y="49.34" width="6.18" height="6.18" fill="#16113a"/><rect x="201.42" y="49.34" width="6.18" height="6.18" fill="#140f2f"/><rect x="207.30" y="49.34" width="6.18" height="6.18" fill="#131021"/><rect x="213.18" y="49.34" width="6.18" height="6.18" fill="#111017"/><rect x="219.06" y="49.34" width="6.18" height="6.18" fill="#100f12"/><rect x="224.94" y="49.34" width="6.18" height="6.18" fill="#0e0e0d"/><rect x="230.82" y="49.34" width="6.18" height="6.18" fill="#0e0e0c"/><rect x="-4.38" y="55.22" width="6.18" height="6.18" fill="#0e0e0c"/><rect x="1.50" y="55.22" width="6.18" height="6.18" fill="#0f0f10"/><rect x="7.38" y="55.22" width="6.18" height="6.18" fill="#100f15"/><rect x="13.26" y="55.22" width="6.18" height="6.18" fill="#12101c"/><rect x="19.14" y="55.22" width="6.18" height="6.18" fill="#130f2a"/><rect x="25.02" y="55.22" width="6.18" height="6.18" fill="#161038"/><rect x="30.90" y="55.22" width="6.18" height="6.18" fill="#181240"/><rect x="36.78" y="55.22" width="6.18" height="6.18" fill="#1b1448"/><rect x="42.66" y="55.22" width="6.18" height="6.18" fill="#1e1650"/><rect x="48.54" y="55.22" width="6.18" height="6.18" fill="#201958"/><rect x="54.42" y="55.22" width="6.18" height="6.18" fill="#211a5e"/><rect x="60.30" y="55.22" width="6.18" height="6.18" fill="#231b65"/><rect x="66.18" y="55.22" width="6.18" height="6.18" fill="#241c6b"/><rect x="72.06" y="55.22" width="6.18" height="6.18" fill="#272170"/><rect x="77.94" y="55.22" width="6.18" height="6.18" fill="#292675"/><rect x="83.82" y="55.22" width="6.18" height="6.18" fill="#2b2979"/><rect x="89.70" y="55.22" width="6.18" height="6.18" fill="#2d2c7c"/><rect x="95.58" y="55.22" width="6.18" height="6.18" fill="#2f2e7e"/><rect x="101.46" y="55.22" width="6.18" height="6.18" fill="#302f7f"/><rect x="107.34" y="55.22" width="17.94" height="6.18" fill="#313080"/><rect x="124.98" y="55.22" width="6.18" height="6.18" fill="#302f7f"/><rect x="130.86" y="55.22" width="6.18" height="6.18" fill="#2f2e7e"/><rect x="136.74" y="55.22" width="6.18" height="6.18" fill="#2d2c7c"/><rect x="142.62" y="55.22" width="6.18" height="6.18" fill="#2b2979"/><rect x="148.50" y="55.22" width="6.18" height="6.18" fill="#292675"/><rect x="154.38" y="55.22" width="6.18" height="6.18" fill="#272170"/><rect x="160.26" y="55.22" width="6.18" height="6.18" fill="#241c6b"/><rect x="166.14" y="55.22" width="6.18" height="6.18" fill="#231b65"/><rect x="172.02" y="55.22" width="6.18" height="6.18" fill="#211a5e"/><rect x="177.90" y="55.22" width="6.18" height="6.18" fill="#201958"/><rect x="183.78" y="55.22" width="6.18" height="6.18" fill="#1e1650"/><rect x="189.66" y="55.22" width="6.18" height="6.18" fill="#1b1448"/><rect x="195.54" y="55.22" width="6.18" height="6.18" fill="#181240"/><rect x="201.42" y="55.22" width="6.18" height="6.18" fill="#161038"/><rect x="207.30" y="55.22" width="6.18" height="6.18" fill="#130f2a"/><rect x="213.18" y="55.22" width="6.18" height="6.18" fill="#12101c"/><rect x="219.06" y="55.22" width="6.18" height="6.18" fill="#100f15"/><rect x="224.94" y="55.22" width="6.18" height="6.18" fill="#0f0f10"/><rect x="230.82" y="55.22" width="6.18" height="6.18" fill="#0e0e0c"/><rect x="-4.38" y="61.10" width="6.18" height="6.18" fill="#0e0e0d"/><rect x="1.50" y="61.10" width="6.18" height="6.18" fill="#100f12"/><rect x="7.38" y="61.10" width="6.18" height="6.18" fill="#111018"/><rect x="13.26" y="61.10" width="6.18" height="6.18" fill="#131023"/><rect x="19.14" y="61.10" width="6.18" height="6.18" fill="#140f34"/><rect x="25.02" y="61.10" width="6.18" height="6.18" fill="#17113d"/><rect x="30.90" y="61.10" width="6.18" height="6.18" fill="#1a1345"/><rect x="36.78" y="61.10" width="6.18" height="6.18" fill="#1d154e"/><rect x="42.66" y="61.10" width="6.18" height="6.18" fill="#1f1857"/><rect x="48.54" y="61.10" width="6.18" height="6.18" fill="#211a5e"/><rect x="54.42" y="61.10" width="6.18" height="6.18" fill="#231b65"/><rect x="60.30" y="61.10" width="6.18" height="6.18" fill="#251d6c"/><rect x="66.18" y="61.10" width="6.18" height="6.18" fill="#282272"/><rect x="72.06" y="61.10" width="6.18" height="6.18" fill="#2a2878"/><rect x="77.94" y="61.10" width="6.18" height="6.18" fill="#2d2b7b"/><rect x="83.82" y="61.10" width="6.18" height="6.18" fill="#302f7f"/><rect x="89.70" y="61.10" width="6.18" height="6.18" fill="#323181"/><rect x="95.58" y="61.10" width="6.18" height="6.18" fill="#333484"/><rect x="101.46" y="61.10" width="12.06" height="6.18" fill="#353686"/><rect x="113.22" y="61.10" width="6.18" height="6.18" fill="#353787"/><rect x="119.10" y="61.10" width="12.06" height="6.18" fill="#353686"/><rect x="130.86" y="61.10" width="6.18" height="6.18" fill="#333484"/><rect x="136.74" y="61.10" width="6.18" height="6.18" fill="#323181"/><rect x="142.62" y="61.10" width="6.18" height="6.18" fill="#302f7f"/><rect x="148.50" y="61.10" width="6.18" height="6.18" fill="#2d2b7b"/><rect x="154.38" y="61.10" width="6.18" height="6.18" fill="#2a2878"/><rect x="160.26" y="61.10" width="6.18" height="6.18" fill="#282272"/><rect x="166.14" y="61.10" width="6.18" height="6.18" fill="#251d6c"/><rect x="172.02" y="61.10" width="6.18" height="6.18" fill="#231b65"/><rect x="177.90" y="61.10" width="6.18" height="6.18" fill="#211a5e"/><rect x="183.78" y="61.10" width="6.18" height="6.18" fill="#1f1857"/><rect x="189.66" y="61.10" width="6.18" height="6.18" fill="#1d154e"/><rect x="195.54" y="61.10" width="6.18" height="6.18" fill="#1a1345"/><rect x="201.42" y="61.10" width="6.18" height="6.18" fill="#17113d"/><rect x="207.30" y="61.10" width="6.18" height="6.18" fill="#140f34"/><rect x="213.18" y="61.10" width="6.18" height="6.18" fill="#131023"/><rect x="219.06" y="61.10" width="6.18" height="6.18" fill="#111018"/><rect x="224.94" y="61.10" width="6.18" height="6.18" fill="#100f12"/><rect x="230.82" y="61.10" width="6.18" height="6.18" fill="#0e0e0d"/><rect x="-4.38" y="66.98" width="6.18" height="6.18" fill="#0f0e0f"/><rect x="1.50" y="66.98" width="6.18" height="6.18" fill="#100f15"/><rect x="7.38" y="66.98" width="6.18" height="6.18" fill="#12101d"/><rect x="13.26" y="66.98" width="6.18" height="6.18" fill="#130f2b"/><rect x="19.14" y="66.98" width="6.18" height="6.18" fill="#161039"/><rect x="25.02" y="66.98" width="6.18" height="6.18" fill="#191242"/><rect x="30.90" y="66.98" width="6.18" height="6.18" fill="#1c144b"/><rect x="36.78" y="66.98" width="6.18" height="6.18" fill="#1f1754"/><rect x="42.66" y="66.98" width="6.18" height="6.18" fill="#211a5c"/><rect x="48.54" y="66.98" width="6.18" height="6.18" fill="#231b64"/><rect x="54.42" y="66.98" width="6.18" height="6.18" fill="#241c6b"/><rect x="60.30" y="66.98" width="6.18" height="6.18" fill="#282272"/><rect x="66.18" y="66.98" width="6.18" height="6.18" fill="#2b2878"/><rect x="72.06" y="66.98" width="6.18" height="6.18" fill="#2e2c7c"/><rect x="77.94" y="66.98" width="6.18" height="6.18" fill="#313080"/><rect x="83.82" y="66.98" width="6.18" height="6.18" fill="#343484"/><rect x="89.70" y="66.98" width="6.18" height="6.18" fill="#353787"/><rect x="95.58" y="66.98" width="6.18" height="6.18" fill="#363888"/><rect x="101.46" y="66.98" width="6.18" height="6.18" fill="#373a89"/><rect x="107.34" y="66.98" width="17.94" height="6.18" fill="#383b8a"/><rect x="124.98" y="66.98" width="6.18" height="6.18" fill="#373a89"/><rect x="130.86" y="66.98" width="6.18" height="6.18" fill="#363888"/><rect x="136.74" y="66.98" width="6.18" height="6.18" fill="#353787"/><rect x="142.62" y="66.98" width="6.18" height="6.18" fill="#343484"/><rect x="148.50" y="66.98" width="6.18" height="6.18" fill="#313080"/><rect x="154.38" y="66.98" width="6.18" height="6.18" fill="#2e2c7c"/><rect x="160.26" y="66.98" width="6.18" height="6.18" fill="#2b2878"/><rect x="166.14" y="66.98" width="6.18" height="6.18" fill="#282272"/><rect x="172.02" y="66.98" width="6.18" height="6.18" fill="#241c6b"/><rect x="177.90" y="66.98" width="6.18" height="6.18" fill="#231b64"/><rect x="183.78" y="66.98" width="6.18" height="6.18" fill="#211a5c"/><rect x="189.66" y="66.98" width="6.18" height="6.18" fill="#1f1754"/><rect x="195.54" y="66.98" width="6.18" height="6.18" fill="#1c144b"/><rect x="201.42" y="66.98" width="6.18" height="6.18" fill="#191242"/><rect x="207.30" y="66.98" width="6.18" height="6.18" fill="#161039"/><rect x="213.18" y="66.98" width="6.18" height="6.18" fill="#130f2b"/><rect x="219.06" y="66.98" width="6.18" height="6.18" fill="#12101d"/><rect x="224.94" y="66.98" width="6.18" height="6.18" fill="#100f15"/><rect x="230.82" y="66.98" width="6.18" height="6.18" fill="#0f0e0f"/><rect x="-4.38" y="72.86" width="6.18" height="6.18" fill="#100f11"/><rect x="1.50" y="72.86" width="6.18" height="6.18" fill="#111017"/><rect x="7.38" y="72.86" width="6.18" height="6.18" fill="#131022"/><rect x="13.26" y="72.86" width="6.18" height="6.18" fill="#140f33"/><rect x="19.14" y="72.86" width="6.18" height="6.18" fill="#17113d"/><rect x="25.02" y="72.86" width="6.18" height="6.18" fill="#1a1346"/><rect x="30.90" y="72.86" width="6.18" height="6.18" fill="#1d1650"/><rect x="36.78" y="72.86" width="6.18" height="6.18" fill="#201959"/><rect x="42.66" y="72.86" width="6.18" height="6.18" fill="#221a61"/><rect x="48.54" y="72.86" width="6.18" height="6.18" fill="#241b69"/><rect x="54.42" y="72.86" width="6.18" height="6.18" fill="#272170"/><rect x="60.30" y="72.86" width="6.18" height="6.18" fill="#2a2878"/><rect x="66.18" y="72.86" width="6.18" height="6.18" fill="#2e2c7c"/><rect x="72.06" y="72.86" width="6.18" height="6.18" fill="#313181"/><rect x="77.94" y="72.86" width="6.18" height="6.18" fill="#353686"/><rect x="83.82" y="72.86" width="6.18" height="6.18" fill="#363888"/><rect x="89.70" y="72.86" width="6.18" height="6.18" fill="#383b8a"/><rect x="95.58" y="72.86" width="6.18" height="6.18" fill="#393d8b"/><rect x="101.46" y="72.86" width="6.18" height="6.18" fill="#3a3f8c"/><rect x="107.34" y="72.86" width="6.18" height="6.18" fill="#3b408d"/><rect x="113.22" y="72.86" width="6.18" height="6.18" fill="#3b418d"/><rect x="119.10" y="72.86" width="6.18" height="6.18" fill="#3b408d"/><rect x="124.98" y="72.86" width="6.18" height="6.18" fill="#3a3f8c"/><rect x="130.86" y="72.86" width="6.18" height="6.18" fill="#393d8b"/><rect x="136.74" y="72.86" width="6.18" height="6.18" fill="#383b8a"/><rect x="142.62" y="72.86" width="6.18" height="6.18" fill="#363888"/><rect x="148.50" y="72.86" width="6.18" height="6.18" fill="#353686"/><rect x="154.38" y="72.86" width="6.18" height="6.18" fill="#313181"/><rect x="160.26" y="72.86" width="6.18" height="6.18" fill="#2e2c7c"/><rect x="166.14" y="72.86" width="6.18" height="6.18" fill="#2a2878"/><rect x="172.02" y="72.86" width="6.18" height="6.18" fill="#272170"/><rect x="177.90" y="72.86" width="6.18" height="6.18" fill="#241b69"/><rect x="183.78" y="72.86" width="6.18" height="6.18" fill="#221a61"/><rect x="189.66" y="72.86" width="6.18" height="6.18" fill="#201959"/><rect x="195.54" y="72.86" width="6.18" height="6.18" fill="#1d1650"/><rect x="201.42" y="72.86" width="6.18" height="6.18" fill="#1a1346"/><rect x="207.30" y="72.86" width="6.18" height="6.18" fill="#17113d"/><rect x="213.18" y="72.86" width="6.18" height="6.18" fill="#140f33"/><rect x="219.06" y="72.86" width="6.18" height="6.18" fill="#131022"/><rect x="224.94" y="72.86" width="6.18" height="6.18" fill="#111017"/><rect x="230.82" y="72.86" width="6.18" height="6.18" fill="#100f11"/><rect x="-4.38" y="78.74" width="6.18" height="6.18" fill="#100f13"/><rect x="1.50" y="78.74" width="6.18" height="6.18" fill="#12101a"/><rect x="7.38" y="78.74" width="6.18" height="6.18" fill="#130f28"/><rect x="13.26" y="78.74" width="6.18" height="6.18" fill="#161038"/><rect x="19.14" y="78.74" width="6.18" height="6.18" fill="#181241"/><rect x="25.02" y="78.74" width="6.18" height="6.18" fill="#1c144a"/><rect x="30.90" y="78.74" width="6.18" height="6.18" fill="#1f1754"/><rect x="36.78" y="78.74" width="6.18" height="6.18" fill="#211a5d"/><rect x="42.66" y="78.74" width="6.18" height="6.18" fill="#231b65"/><rect x="48.54" y="78.74" width="6.18" height="6.18" fill="#261e6e"/><rect x="54.42" y="78.74" width="6.18" height="6.18" fill="#292675"/><rect x="60.30" y="78.74" width="6.18" height="6.18" fill="#2d2b7b"/><rect x="66.18" y="78.74" width="6.18" height="6.18" fill="#313080"/><rect x="72.06" y="78.74" width="6.18" height="6.18" fill="#353686"/><rect x="77.94" y="78.74" width="6.18" height="6.18" fill="#363988"/><rect x="83.82" y="78.74" width="6.18" height="6.18" fill="#393c8b"/><rect x="89.70" y="78.74" width="6.18" height="6.18" fill="#3b408d"/><rect x="95.58" y="78.74" width="6.18" height="6.18" fill="#3c428e"/><rect x="101.46" y="78.74" width="6.18" height="6.18" fill="#3d4490"/><rect x="107.34" y="78.74" width="6.18" height="6.18" fill="#3d4591"/><rect x="113.22" y="78.74" width="6.18" height="6.18" fill="#3e4591"/><rect x="119.10" y="78.74" width="6.18" height="6.18" fill="#3d4591"/><rect x="124.98" y="78.74" width="6.18" height="6.18" fill="#3d4490"/><rect x="130.86" y="78.74" width="6.18" height="6.18" fill="#3c428e"/><rect x="136.74" y="78.74" width="6.18" height="6.18" fill="#3b408d"/><rect x="142.62" y="78.74" width="6.18" height="6.18" fill="#393c8b"/><rect x="148.50" y="78.74" width="6.18" height="6.18" fill="#363988"/><rect x="154.38" y="78.74" width="6.18" height="6.18" fill="#353686"/><rect x="160.26" y="78.74" width="6.18" height="6.18" fill="#313080"/><rect x="166.14" y="78.74" width="6.18" height="6.18" fill="#2d2b7b"/><rect x="172.02" y="78.74" width="6.18" height="6.18" fill="#292675"/><rect x="177.90" y="78.74" width="6.18" height="6.18" fill="#261e6e"/><rect x="183.78" y="78.74" width="6.18" height="6.18" fill="#231b65"/><rect x="189.66" y="78.74" width="6.18" height="6.18" fill="#211a5d"/><rect x="195.54" y="78.74" width="6.18" height="6.18" fill="#1f1754"/><rect x="201.42" y="78.74" width="6.18" height="6.18" fill="#1c144a"/><rect x="207.30" y="78.74" width="6.18" height="6.18" fill="#181241"/><rect x="213.18" y="78.74" width="6.18" height="6.18" fill="#161038"/><rect x="219.06" y="78.74" width="6.18" height="6.18" fill="#130f28"/><rect x="224.94" y="78.74" width="6.18" height="6.18" fill="#12101a"/><rect x="230.82" y="78.74" width="6.18" height="6.18" fill="#100f13"/><rect x="-4.38" y="84.62" width="6.18" height="6.18" fill="#100f15"/><rect x="1.50" y="84.62" width="6.18" height="6.18" fill="#12101e"/><rect x="7.38" y="84.62" width="6.18" height="6.18" fill="#140f2e"/><rect x="13.26" y="84.62" width="6.18" height="6.18" fill="#16113b"/><rect x="19.14" y="84.62" width="6.18" height="6.18" fill="#191344"/><rect x="25.02" y="84.62" width="6.18" height="6.18" fill="#1d154e"/><rect x="30.90" y="84.62" width="6.18" height="6.18" fill="#201958"/><rect x="36.78" y="84.62" width="6.18" height="6.18" fill="#221a60"/><rect x="42.66" y="84.62" width="6.18" height="6.18" fill="#241b69"/><rect x="48.54" y="84.62" width="6.18" height="6.18" fill="#282272"/><rect x="54.42" y="84.62" width="6.18" height="6.18" fill="#2b2979"/><rect x="60.30" y="84.62" width="6.18" height="6.18" fill="#302f7f"/><rect x="66.18" y="84.62" width="6.18" height="6.18" fill="#343484"/><rect x="72.06" y="84.62" width="6.18" height="6.18" fill="#363888"/><rect x="77.94" y="84.62" width="6.18" height="6.18" fill="#393c8b"/><rect x="83.82" y="84.62" width="6.18" height="6.18" fill="#3b408d"/><rect x="89.70" y="84.62" width="6.18" height="6.18" fill="#3d4490"/><rect x="95.58" y="84.62" width="6.18" height="6.18" fill="#3e4692"/><rect x="101.46" y="84.62" width="6.18" height="6.18" fill="#404a96"/><rect x="107.34" y="84.62" width="6.18" height="6.18" fill="#424d99"/><rect x="113.22" y="84.62" width="6.18" height="6.18" fill="#424e9a"/><rect x="119.10" y="84.62" width="6.18" height="6.18" fill="#424d99"/><rect x="124.98" y="84.62" width="6.18" height="6.18" fill="#404a96"/><rect x="130.86" y="84.62" width="6.18" height="6.18" fill="#3e4692"/><rect x="136.74" y="84.62" width="6.18" height="6.18" fill="#3d4490"/><rect x="142.62" y="84.62" width="6.18" height="6.18" fill="#3b408d"/><rect x="148.50" y="84.62" width="6.18" height="6.18" fill="#393c8b"/><rect x="154.38" y="84.62" width="6.18" height="6.18" fill="#363888"/><rect x="160.26" y="84.62" width="6.18" height="6.18" fill="#343484"/><rect x="166.14" y="84.62" width="6.18" height="6.18" fill="#302f7f"/><rect x="172.02" y="84.62" width="6.18" height="6.18" fill="#2b2979"/><rect x="177.90" y="84.62" width="6.18" height="6.18" fill="#282272"/><rect x="183.78" y="84.62" width="6.18" height="6.18" fill="#241b69"/><rect x="189.66" y="84.62" width="6.18" height="6.18" fill="#221a60"/><rect x="195.54" y="84.62" width="6.18" height="6.18" fill="#201958"/><rect x="201.42" y="84.62" width="6.18" height="6.18" fill="#1d154e"/><rect x="207.30" y="84.62" width="6.18" height="6.18" fill="#191344"/><rect x="213.18" y="84.62" width="6.18" height="6.18" fill="#16113b"/><rect x="219.06" y="84.62" width="6.18" height="6.18" fill="#140f2e"/><rect x="224.94" y="84.62" width="6.18" height="6.18" fill="#12101e"/><rect x="230.82" y="84.62" width="6.18" height="6.18" fill="#100f15"/><rect x="-4.38" y="90.50" width="6.18" height="6.18" fill="#110f16"/><rect x="1.50" y="90.50" width="6.18" height="6.18" fill="#131021"/><rect x="7.38" y="90.50" width="6.18" height="6.18" fill="#140f33"/><rect x="13.26" y="90.50" width="6.18" height="6.18" fill="#17113d"/><rect x="19.14" y="90.50" width="6.18" height="6.18" fill="#1a1347"/><rect x="25.02" y="90.50" width="6.18" height="6.18" fill="#1e1651"/><rect x="30.90" y="90.50" width="6.18" height="6.18" fill="#211a5b"/><rect x="36.78" y="90.50" width="6.18" height="6.18" fill="#231b64"/><rect x="42.66" y="90.50" width="6.18" height="6.18" fill="#251d6c"/><rect x="48.54" y="90.50" width="6.18" height="6.18" fill="#292575"/><rect x="54.42" y="90.50" width="6.18" height="6.18" fill="#2d2c7c"/><rect x="60.30" y="90.50" width="6.18" height="6.18" fill="#323181"/><rect x="66.18" y="90.50" width="6.18" height="6.18" fill="#353787"/><rect x="72.06" y="90.50" width="6.18" height="6.18" fill="#383b8a"/><rect x="77.94" y="90.50" width="6.18" height="6.18" fill="#3b408d"/><rect x="83.82" y="90.50" width="6.18" height="6.18" fill="#3d4490"/><rect x="89.70" y="90.50" width="6.18" height="6.18" fill="#3e4793"/><rect x="95.58" y="90.50" width="6.18" height="6.18" fill="#424e9a"/><rect x="101.46" y="90.50" width="6.18" height="6.18" fill="#4655a0"/><rect x="107.34" y="90.50" width="6.18" height="6.18" fill="#4a5ba5"/><rect x="113.22" y="90.50" width="6.18" height="6.18" fill="#4b5da7"/><rect x="119.10" y="90.50" width="6.18" height="6.18" fill="#4a5ba5"/><rect x="124.98" y="90.50" width="6.18" height="6.18" fill="#4655a0"/><rect x="130.86" y="90.50" width="6.18" height="6.18" fill="#424e9a"/><rect x="136.74" y="90.50" width="6.18" height="6.18" fill="#3e4793"/><rect x="142.62" y="90.50" width="6.18" height="6.18" fill="#3d4490"/><rect x="148.50" y="90.50" width="6.18" height="6.18" fill="#3b408d"/><rect x="154.38" y="90.50" width="6.18" height="6.18" fill="#383b8a"/><rect x="160.26" y="90.50" width="6.18" height="6.18" fill="#353787"/><rect x="166.14" y="90.50" width="6.18" height="6.18" fill="#323181"/><rect x="172.02" y="90.50" width="6.18" height="6.18" fill="#2d2c7c"/><rect x="177.90" y="90.50" width="6.18" height="6.18" fill="#292575"/><rect x="183.78" y="90.50" width="6.18" height="6.18" fill="#251d6c"/><rect x="189.66" y="90.50" width="6.18" height="6.18" fill="#231b64"/><rect x="195.54" y="90.50" width="6.18" height="6.18" fill="#211a5b"/><rect x="201.42" y="90.50" width="6.18" height="6.18" fill="#1e1651"/><rect x="207.30" y="90.50" width="6.18" height="6.18" fill="#1a1347"/><rect x="213.18" y="90.50" width="6.18" height="6.18" fill="#17113d"/><rect x="219.06" y="90.50" width="6.18" height="6.18" fill="#140f33"/><rect x="224.94" y="90.50" width="6.18" height="6.18" fill="#131021"/><rect x="230.82" y="90.50" width="6.18" height="6.18" fill="#110f16"/><rect x="-4.38" y="96.38" width="6.18" height="6.18" fill="#111017"/><rect x="1.50" y="96.38" width="6.18" height="6.18" fill="#131023"/><rect x="7.38" y="96.38" width="6.18" height="6.18" fill="#151035"/><rect x="13.26" y="96.38" width="6.18" height="6.18" fill="#18123f"/><rect x="19.14" y="96.38" width="6.18" height="6.18" fill="#1b1449"/><rect x="25.02" y="96.38" width="6.18" height="6.18" fill="#1f1753"/><rect x="30.90" y="96.38" width="6.18" height="6.18" fill="#211a5d"/><rect x="36.78" y="96.38" width="6.18" height="6.18" fill="#231b66"/><rect x="42.66" y="96.38" width="6.18" height="6.18" fill="#26206f"/><rect x="48.54" y="96.38" width="6.18" height="6.18" fill="#2a2878"/><rect x="54.42" y="96.38" width="6.18" height="6.18" fill="#2f2e7e"/><rect x="60.30" y="96.38" width="6.18" height="6.18" fill="#333484"/><rect x="66.18" y="96.38" width="6.18" height="6.18" fill="#363888"/><rect x="72.06" y="96.38" width="6.18" height="6.18" fill="#393d8b"/><rect x="77.94" y="96.38" width="6.18" height="6.18" fill="#3c428e"/><rect x="83.82" y="96.38" width="6.18" height="6.18" fill="#3e4692"/><rect x="89.70" y="96.38" width="6.18" height="6.18" fill="#424e9a"/><rect x="95.58" y="96.38" width="6.18" height="6.18" fill="#4c5fa9"/><rect x="101.46" y="96.38" width="6.18" height="6.18" fill="#546db6"/><rect x="107.34" y="96.38" width="6.18" height="6.18" fill="#5c7bc1"/><rect x="113.22" y="96.38" width="6.18" height="6.18" fill="#6082c6"/><rect x="119.10" y="96.38" width="6.18" height="6.18" fill="#5c7bc1"/><rect x="124.98" y="96.38" width="6.18" height="6.18" fill="#546db6"/><rect x="130.86" y="96.38" width="6.18" height="6.18" fill="#4c5fa9"/><rect x="136.74" y="96.38" width="6.18" height="6.18" fill="#424e9a"/><rect x="142.62" y="96.38" width="6.18" height="6.18" fill="#3e4692"/><rect x="148.50" y="96.38" width="6.18" height="6.18" fill="#3c428e"/><rect x="154.38" y="96.38" width="6.18" height="6.18" fill="#393d8b"/><rect x="160.26" y="96.38" width="6.18" height="6.18" fill="#363888"/><rect x="166.14" y="96.38" width="6.18" height="6.18" fill="#333484"/><rect x="172.02" y="96.38" width="6.18" height="6.18" fill="#2f2e7e"/><rect x="177.90" y="96.38" width="6.18" height="6.18" fill="#2a2878"/><rect x="183.78" y="96.38" width="6.18" height="6.18" fill="#26206f"/><rect x="189.66" y="96.38" width="6.18" height="6.18" fill="#231b66"/><rect x="195.54" y="96.38" width="6.18" height="6.18" fill="#211a5d"/><rect x="201.42" y="96.38" width="6.18" height="6.18" fill="#1f1753"/><rect x="207.30" y="96.38" width="6.18" height="6.18" fill="#1b1449"/><rect x="213.18" y="96.38" width="6.18" height="6.18" fill="#18123f"/><rect x="219.06" y="96.38" width="6.18" height="6.18" fill="#151035"/><rect x="224.94" y="96.38" width="6.18" height="6.18" fill="#131023"/><rect x="230.82" y="96.38" width="6.18" height="6.18" fill="#111017"/><rect x="-4.38" y="102.26" width="6.18" height="6.18" fill="#1a1346"/><rect x="1.50" y="102.26" width="6.18" height="6.18" fill="#1c144a"/><rect x="7.38" y="102.26" width="6.18" height="6.18" fill="#1e1752"/><rect x="13.26" y="102.26" width="6.18" height="6.18" fill="#20195a"/><rect x="19.14" y="102.26" width="6.18" height="6.18" fill="#231b65"/><rect x="25.02" y="102.26" width="6.18" height="6.18" fill="#26206f"/><rect x="30.90" y="102.26" width="6.18" height="6.18" fill="#292575"/><rect x="36.78" y="102.26" width="6.18" height="6.18" fill="#2b2979"/><rect x="42.66" y="102.26" width="6.18" height="6.18" fill="#2f2e7e"/><rect x="48.54" y="102.26" width="6.18" height="6.18" fill="#333484"/><rect x="54.42" y="102.26" width="6.18" height="6.18" fill="#383b8a"/><rect x="60.30" y="102.26" width="6.18" height="6.18" fill="#3d4591"/><rect x="66.18" y="102.26" width="6.18" height="6.18" fill="#3f4995"/><rect x="72.06" y="102.26" width="6.18" height="6.18" fill="#414c98"/><rect x="77.94" y="102.26" width="6.18" height="6.18" fill="#43509c"/><rect x="83.82" y="102.26" width="6.18" height="6.18" fill="#4756a0"/><rect x="89.70" y="102.26" width="6.18" height="6.18" fill="#5065af"/><rect x="95.58" y="102.26" width="6.18" height="6.18" fill="#546db6"/><rect x="101.46" y="102.26" width="6.18" height="6.18" fill="#6082c6"/><rect x="107.34" y="102.26" width="6.18" height="6.18" fill="#7babe1"/><rect x="113.22" y="102.26" width="6.18" height="6.18" fill="#82b6e8"/><rect x="119.10" y="102.26" width="6.18" height="6.18" fill="#7babe1"/><rect x="124.98" y="102.26" width="6.18" height="6.18" fill="#6082c6"/><rect x="130.86" y="102.26" width="6.18" height="6.18" fill="#546db6"/><rect x="136.74" y="102.26" width="6.18" height="6.18" fill="#5065af"/><rect x="142.62" y="102.26" width="6.18" height="6.18" fill="#4756a0"/><rect x="148.50" y="102.26" width="6.18" height="6.18" fill="#43509c"/><rect x="154.38" y="102.26" width="6.18" height="6.18" fill="#414d99"/><rect x="160.26" y="102.26" width="6.18" height="6.18" fill="#3f4995"/><rect x="166.14" y="102.26" width="6.18" height="6.18" fill="#3e4591"/><rect x="172.02" y="102.26" width="6.18" height="6.18" fill="#383c8a"/><rect x="177.90" y="102.26" width="6.18" height="6.18" fill="#343484"/><rect x="183.78" y="102.26" width="6.18" height="6.18" fill="#302f7f"/><rect x="189.66" y="102.26" width="6.18" height="6.18" fill="#2c2a7a"/><rect x="195.54" y="102.26" width="6.18" height="6.18" fill="#2b2878"/><rect x="201.42" y="102.26" width="6.18" height="6.18" fill="#282373"/><rect x="207.30" y="102.26" width="6.18" height="6.18" fill="#251d6c"/><rect x="213.18" y="102.26" width="6.18" height="6.18" fill="#231b63"/><rect x="219.06" y="102.26" width="6.18" height="6.18" fill="#211a5b"/><rect x="224.94" y="102.26" width="6.18" height="6.18" fill="#1f1754"/><rect x="230.82" y="102.26" width="6.18" height="6.18" fill="#1e1752"/><rect x="-4.38" y="108.14" width="6.18" height="6.18" fill="#1a1346"/><rect x="1.50" y="108.14" width="6.18" height="6.18" fill="#1c144b"/><rect x="7.38" y="108.14" width="6.18" height="6.18" fill="#1f1754"/><rect x="13.26" y="108.14" width="6.18" height="6.18" fill="#21195b"/><rect x="19.14" y="108.14" width="6.18" height="6.18" fill="#231b66"/><rect x="25.02" y="108.14" width="6.18" height="6.18" fill="#272170"/><rect x="30.90" y="108.14" width="6.18" height="6.18" fill="#292676"/><rect x="36.78" y="108.14" width="6.18" height="6.18" fill="#2b2979"/><rect x="42.66" y="108.14" width="6.18" height="6.18" fill="#2f2e7e"/><rect x="48.54" y="108.14" width="6.18" height="6.18" fill="#343484"/><rect x="54.42" y="108.14" width="6.18" height="6.18" fill="#393d8b"/><rect x="60.30" y="108.14" width="6.18" height="6.18" fill="#3e4692"/><rect x="66.18" y="108.14" width="6.18" height="6.18" fill="#404995"/><rect x="72.06" y="108.14" width="6.18" height="6.18" fill="#424d99"/><rect x="77.94" y="108.14" width="6.18" height="6.18" fill="#44519d"/><rect x="83.82" y="108.14" width="6.18" height="6.18" fill="#495aa4"/><rect x="89.70" y="108.14" width="6.18" height="6.18" fill="#546cb5"/><rect x="95.58" y="108.14" width="6.18" height="6.18" fill="#5a78be"/><rect x="101.46" y="108.14" width="6.18" height="6.18" fill="#82b6e8"/><rect x="107.34" y="108.14" width="6.18" height="6.18" fill="#cce2f6"/><rect x="113.22" y="108.14" width="6.18" height="6.18" fill="#d5e7f6"/><rect x="119.10" y="108.14" width="6.18" height="6.18" fill="#cce2f6"/><rect x="124.98" y="108.14" width="6.18" height="6.18" fill="#82b6e8"/><rect x="130.86" y="108.14" width="6.18" height="6.18" fill="#5a78be"/><rect x="136.74" y="108.14" width="6.18" height="6.18" fill="#546cb5"/><rect x="142.62" y="108.14" width="6.18" height="6.18" fill="#495aa4"/><rect x="148.50" y="108.14" width="6.18" height="6.18" fill="#44519d"/><rect x="154.38" y="108.14" width="6.18" height="6.18" fill="#424d99"/><rect x="160.26" y="108.14" width="6.18" height="6.18" fill="#404a96"/><rect x="166.14" y="108.14" width="6.18" height="6.18" fill="#3e4692"/><rect x="172.02" y="108.14" width="6.18" height="6.18" fill="#393e8b"/><rect x="177.90" y="108.14" width="6.18" height="6.18" fill="#343585"/><rect x="183.78" y="108.14" width="6.18" height="6.18" fill="#303080"/><rect x="189.66" y="108.14" width="6.18" height="6.18" fill="#2d2b7b"/><rect x="195.54" y="108.14" width="6.18" height="6.18" fill="#2b2878"/><rect x="201.42" y="108.14" width="6.18" height="6.18" fill="#292474"/><rect x="207.30" y="108.14" width="6.18" height="6.18" fill="#251e6d"/><rect x="213.18" y="108.14" width="6.18" height="6.18" fill="#231b65"/><rect x="219.06" y="108.14" width="6.18" height="6.18" fill="#211a5c"/><rect x="224.94" y="108.14" width="6.18" height="6.18" fill="#1f1755"/><rect x="230.82" y="108.14" width="6.18" height="6.18" fill="#1e1753"/><rect x="-4.38" y="114.02" width="6.18" height="6.18" fill="#1a1346"/><rect x="1.50" y="114.02" width="6.18" height="6.18" fill="#1c144b"/><rect x="7.38" y="114.02" width="6.18" height="6.18" fill="#1f1754"/><rect x="13.26" y="114.02" width="6.18" height="6.18" fill="#211a5b"/><rect x="19.14" y="114.02" width="6.18" height="6.18" fill="#231b67"/><rect x="25.02" y="114.02" width="6.18" height="6.18" fill="#272170"/><rect x="30.90" y="114.02" width="6.18" height="6.18" fill="#2a2676"/><rect x="36.78" y="114.02" width="6.18" height="6.18" fill="#2c2979"/><rect x="42.66" y="114.02" width="6.18" height="6.18" fill="#302f7f"/><rect x="48.54" y="114.02" width="6.18" height="6.18" fill="#343585"/><rect x="54.42" y="114.02" width="6.18" height="6.18" fill="#393d8b"/><rect x="60.30" y="114.02" width="6.18" height="6.18" fill="#3e4692"/><rect x="66.18" y="114.02" width="6.18" height="6.18" fill="#404a96"/><rect x="72.06" y="114.02" width="6.18" height="6.18" fill="#424d99"/><rect x="77.94" y="114.02" width="6.18" height="6.18" fill="#44529d"/><rect x="83.82" y="114.02" width="6.18" height="6.18" fill="#4a5ca6"/><rect x="89.70" y="114.02" width="6.18" height="6.18" fill="#556fb7"/><rect x="95.58" y="114.02" width="6.18" height="6.18" fill="#6286c8"/><rect x="101.46" y="114.02" width="6.18" height="6.18" fill="#82b6e8"/><rect x="107.34" y="114.02" width="6.18" height="6.18" fill="#e5f0f7"/><rect x="113.22" y="114.02" width="6.18" height="6.18" fill="#fafcff"/><rect x="119.10" y="114.02" width="6.18" height="6.18" fill="#e5f0f7"/><rect x="124.98" y="114.02" width="6.18" height="6.18" fill="#9bc5ed"/><rect x="130.86" y="114.02" width="6.18" height="6.18" fill="#5c7bc1"/><rect x="136.74" y="114.02" width="6.18" height="6.18" fill="#556fb7"/><rect x="142.62" y="114.02" width="6.18" height="6.18" fill="#4a5ca6"/><rect x="148.50" y="114.02" width="6.18" height="6.18" fill="#44529d"/><rect x="154.38" y="114.02" width="6.18" height="6.18" fill="#424e9a"/><rect x="160.26" y="114.02" width="6.18" height="6.18" fill="#404a96"/><rect x="166.14" y="114.02" width="6.18" height="6.18" fill="#3e4692"/><rect x="172.02" y="114.02" width="6.18" height="6.18" fill="#3a3e8c"/><rect x="177.90" y="114.02" width="6.18" height="6.18" fill="#343686"/><rect x="183.78" y="114.02" width="6.18" height="6.18" fill="#303080"/><rect x="189.66" y="114.02" width="6.18" height="6.18" fill="#2d2b7b"/><rect x="195.54" y="114.02" width="6.18" height="6.18" fill="#2b2878"/><rect x="201.42" y="114.02" width="6.18" height="6.18" fill="#292474"/><rect x="207.30" y="114.02" width="6.18" height="6.18" fill="#251e6d"/><rect x="213.18" y="114.02" width="6.18" height="6.18" fill="#231b65"/><rect x="219.06" y="114.02" width="6.18" height="6.18" fill="#211a5c"/><rect x="224.94" y="114.02" width="6.18" height="6.18" fill="#1f1855"/><rect x="230.82" y="114.02" width="6.18" height="6.18" fill="#1e1753"/><rect x="-4.38" y="119.90" width="6.18" height="6.18" fill="#1a1346"/><rect x="1.50" y="119.90" width="6.18" height="6.18" fill="#1c144b"/><rect x="7.38" y="119.90" width="6.18" height="6.18" fill="#1f1754"/><rect x="13.26" y="119.90" width="6.18" height="6.18" fill="#21195b"/><rect x="19.14" y="119.90" width="6.18" height="6.18" fill="#231b66"/><rect x="25.02" y="119.90" width="6.18" height="6.18" fill="#272170"/><rect x="30.90" y="119.90" width="6.18" height="6.18" fill="#292676"/><rect x="36.78" y="119.90" width="6.18" height="6.18" fill="#2b2979"/><rect x="42.66" y="119.90" width="6.18" height="6.18" fill="#2f2e7e"/><rect x="48.54" y="119.90" width="6.18" height="6.18" fill="#343484"/><rect x="54.42" y="119.90" width="6.18" height="6.18" fill="#393d8b"/><rect x="60.30" y="119.90" width="6.18" height="6.18" fill="#3e4692"/><rect x="66.18" y="119.90" width="6.18" height="6.18" fill="#404995"/><rect x="72.06" y="119.90" width="6.18" height="6.18" fill="#424d99"/><rect x="77.94" y="119.90" width="6.18" height="6.18" fill="#44519d"/><rect x="83.82" y="119.90" width="6.18" height="6.18" fill="#495aa4"/><rect x="89.70" y="119.90" width="6.18" height="6.18" fill="#546cb5"/><rect x="95.58" y="119.90" width="6.18" height="6.18" fill="#5874bc"/><rect x="101.46" y="119.90" width="6.18" height="6.18" fill="#668bcc"/><rect x="107.34" y="119.90" width="6.18" height="6.18" fill="#9bc5ed"/><rect x="113.22" y="119.90" width="6.18" height="6.18" fill="#deecf6"/><rect x="119.10" y="119.90" width="6.18" height="6.18" fill="#d5e7f6"/><rect x="124.98" y="119.90" width="6.18" height="6.18" fill="#82b6e8"/><rect x="130.86" y="119.90" width="6.18" height="6.18" fill="#5874bc"/><rect x="136.74" y="119.90" width="6.18" height="6.18" fill="#546cb5"/><rect x="142.62" y="119.90" width="6.18" height="6.18" fill="#495aa4"/><rect x="148.50" y="119.90" width="6.18" height="6.18" fill="#44519d"/><rect x="154.38" y="119.90" width="6.18" height="6.18" fill="#424d99"/><rect x="160.26" y="119.90" width="6.18" height="6.18" fill="#404a96"/><rect x="166.14" y="119.90" width="6.18" height="6.18" fill="#3e4692"/><rect x="172.02" y="119.90" width="6.18" height="6.18" fill="#393e8b"/><rect x="177.90" y="119.90" width="6.18" height="6.18" fill="#343585"/><rect x="183.78" y="119.90" width="6.18" height="6.18" fill="#303080"/><rect x="189.66" y="119.90" width="6.18" height="6.18" fill="#2d2b7b"/><rect x="195.54" y="119.90" width="6.18" height="6.18" fill="#2b2878"/><rect x="201.42" y="119.90" width="6.18" height="6.18" fill="#292474"/><rect x="207.30" y="119.90" width="6.18" height="6.18" fill="#251e6d"/><rect x="213.18" y="119.90" width="6.18" height="6.18" fill="#231b65"/><rect x="219.06" y="119.90" width="6.18" height="6.18" fill="#211a5c"/><rect x="224.94" y="119.90" width="6.18" height="6.18" fill="#1f1755"/><rect x="230.82" y="119.90" width="6.18" height="6.18" fill="#1e1753"/><rect x="-4.38" y="125.78" width="6.18" height="6.18" fill="#1a1346"/><rect x="1.50" y="125.78" width="6.18" height="6.18" fill="#1c144a"/><rect x="7.38" y="125.78" width="6.18" height="6.18" fill="#1e1752"/><rect x="13.26" y="125.78" width="6.18" height="6.18" fill="#20195a"/><rect x="19.14" y="125.78" width="6.18" height="6.18" fill="#231b65"/><rect x="25.02" y="125.78" width="6.18" height="6.18" fill="#26206f"/><rect x="30.90" y="125.78" width="6.18" height="6.18" fill="#292575"/><rect x="36.78" y="125.78" width="6.18" height="6.18" fill="#2b2979"/><rect x="42.66" y="125.78" width="6.18" height="6.18" fill="#2f2e7e"/><rect x="48.54" y="125.78" width="6.18" height="6.18" fill="#333484"/><rect x="54.42" y="125.78" width="6.18" height="6.18" fill="#383b8a"/><rect x="60.30" y="125.78" width="6.18" height="6.18" fill="#3d4591"/><rect x="66.18" y="125.78" width="6.18" height="6.18" fill="#3f4995"/><rect x="72.06" y="125.78" width="6.18" height="6.18" fill="#414c98"/><rect x="77.94" y="125.78" width="6.18" height="6.18" fill="#43509c"/><rect x="83.82" y="125.78" width="6.18" height="6.18" fill="#4756a0"/><rect x="89.70" y="125.78" width="6.18" height="6.18" fill="#5065af"/><rect x="95.58" y="125.78" width="6.18" height="6.18" fill="#5066af"/><rect x="101.46" y="125.78" width="6.18" height="6.18" fill="#5874bc"/><rect x="107.34" y="125.78" width="6.18" height="6.18" fill="#6082c6"/><rect x="113.22" y="125.78" width="12.06" height="6.18" fill="#6d96d3"/><rect x="124.98" y="125.78" width="6.18" height="6.18" fill="#5874bc"/><rect x="130.86" y="125.78" width="6.18" height="6.18" fill="#5066af"/><rect x="136.74" y="125.78" width="6.18" height="6.18" fill="#5065af"/><rect x="142.62" y="125.78" width="6.18" height="6.18" fill="#4756a0"/><rect x="148.50" y="125.78" width="6.18" height="6.18" fill="#43509c"/><rect x="154.38" y="125.78" width="6.18" height="6.18" fill="#414d99"/><rect x="160.26" y="125.78" width="6.18" height="6.18" fill="#3f4995"/><rect x="166.14" y="125.78" width="6.18" height="6.18" fill="#3e4591"/><rect x="172.02" y="125.78" width="6.18" height="6.18" fill="#383c8a"/><rect x="177.90" y="125.78" width="6.18" height="6.18" fill="#343484"/><rect x="183.78" y="125.78" width="6.18" height="6.18" fill="#302f7f"/><rect x="189.66" y="125.78" width="6.18" height="6.18" fill="#2c2a7a"/><rect x="195.54" y="125.78" width="6.18" height="6.18" fill="#2b2878"/><rect x="201.42" y="125.78" width="6.18" height="6.18" fill="#282373"/><rect x="207.30" y="125.78" width="6.18" height="6.18" fill="#251d6c"/><rect x="213.18" y="125.78" width="6.18" height="6.18" fill="#231b63"/><rect x="219.06" y="125.78" width="6.18" height="6.18" fill="#211a5b"/><rect x="224.94" y="125.78" width="6.18" height="6.18" fill="#1f1754"/><rect x="230.82" y="125.78" width="6.18" height="6.18" fill="#1e1752"/><rect x="-4.38" y="131.66" width="6.18" height="6.18" fill="#1a1345"/><rect x="1.50" y="131.66" width="6.18" height="6.18" fill="#1b1449"/><rect x="7.38" y="131.66" width="6.18" height="6.18" fill="#1e1651"/><rect x="13.26" y="131.66" width="6.18" height="6.18" fill="#201958"/><rect x="19.14" y="131.66" width="6.18" height="6.18" fill="#221a62"/><rect x="25.02" y="131.66" width="6.18" height="6.18" fill="#261e6d"/><rect x="30.90" y="131.66" width="6.18" height="6.18" fill="#292474"/><rect x="36.78" y="131.66" width="6.18" height="6.18" fill="#2b2878"/><rect x="42.66" y="131.66" width="6.18" height="6.18" fill="#2e2c7c"/><rect x="48.54" y="131.66" width="6.18" height="6.18" fill="#323282"/><rect x="54.42" y="131.66" width="6.18" height="6.18" fill="#363888"/><rect x="60.30" y="131.66" width="6.18" height="6.18" fill="#3c438f"/><rect x="66.18" y="131.66" width="6.18" height="6.18" fill="#3f4793"/><rect x="72.06" y="131.66" width="6.18" height="6.18" fill="#404b97"/><rect x="77.94" y="131.66" width="6.18" height="6.18" fill="#424f9a"/><rect x="83.82" y="131.66" width="6.18" height="6.18" fill="#44529d"/><rect x="89.70" y="131.66" width="6.18" height="6.18" fill="#4a5ca6"/><rect x="95.58" y="131.66" width="6.18" height="6.18" fill="#5269b3"/><rect x="101.46" y="131.66" width="6.18" height="6.18" fill="#5a77be"/><rect x="107.34" y="131.66" width="6.18" height="6.18" fill="#6082c5"/><rect x="113.22" y="131.66" width="6.18" height="6.18" fill="#658bcb"/><rect x="119.10" y="131.66" width="6.18" height="6.18" fill="#6082c5"/><rect x="124.98" y="131.66" width="6.18" height="6.18" fill="#5a77be"/><rect x="130.86" y="131.66" width="6.18" height="6.18" fill="#5269b3"/><rect x="136.74" y="131.66" width="6.18" height="6.18" fill="#4a5ca6"/><rect x="142.62" y="131.66" width="6.18" height="6.18" fill="#45529d"/><rect x="148.50" y="131.66" width="6.18" height="6.18" fill="#424f9b"/><rect x="154.38" y="131.66" width="6.18" height="6.18" fill="#414b97"/><rect x="160.26" y="131.66" width="6.18" height="6.18" fill="#3f4894"/><rect x="166.14" y="131.66" width="6.18" height="6.18" fill="#3d438f"/><rect x="172.02" y="131.66" width="6.18" height="6.18" fill="#373989"/><rect x="177.90" y="131.66" width="6.18" height="6.18" fill="#333383"/><rect x="183.78" y="131.66" width="6.18" height="6.18" fill="#2f2d7d"/><rect x="189.66" y="131.66" width="6.18" height="6.18" fill="#2c2979"/><rect x="195.54" y="131.66" width="6.18" height="6.18" fill="#2a2777"/><rect x="201.42" y="131.66" width="6.18" height="6.18" fill="#272271"/><rect x="207.30" y="131.66" width="6.18" height="6.18" fill="#241b6a"/><rect x="213.18" y="131.66" width="6.18" height="6.18" fill="#221a61"/><rect x="219.06" y="131.66" width="6.18" height="6.18" fill="#201959"/><rect x="224.94" y="131.66" width="6.18" height="6.18" fill="#1e1753"/><rect x="230.82" y="131.66" width="6.18" height="6.18" fill="#1e1651"/><rect x="-4.38" y="137.54" width="6.18" height="6.18" fill="#191343"/><rect x="1.50" y="137.54" width="6.18" height="6.18" fill="#1b1447"/><rect x="7.38" y="137.54" width="6.18" height="6.18" fill="#1d154e"/><rect x="13.26" y="137.54" width="6.18" height="6.18" fill="#1f1856"/><rect x="19.14" y="137.54" width="6.18" height="6.18" fill="#221a5e"/><rect x="25.02" y="137.54" width="6.18" height="6.18" fill="#251c6b"/><rect x="30.90" y="137.54" width="6.18" height="6.18" fill="#282373"/><rect x="36.78" y="137.54" width="6.18" height="6.18" fill="#2a2777"/><rect x="42.66" y="137.54" width="6.18" height="6.18" fill="#2d2b7b"/><rect x="48.54" y="137.54" width="6.18" height="6.18" fill="#313080"/><rect x="54.42" y="137.54" width="6.18" height="6.18" fill="#353686"/><rect x="60.30" y="137.54" width="6.18" height="6.18" fill="#3a3f8c"/><rect x="66.18" y="137.54" width="6.18" height="6.18" fill="#3e4692"/><rect x="72.06" y="137.54" width="6.18" height="6.18" fill="#404995"/><rect x="77.94" y="137.54" width="6.18" height="6.18" fill="#414d99"/><rect x="83.82" y="137.54" width="6.18" height="6.18" fill="#43509b"/><rect x="89.70" y="137.54" width="6.18" height="6.18" fill="#45539e"/><rect x="95.58" y="137.54" width="6.18" height="6.18" fill="#4a5ca6"/><rect x="101.46" y="137.54" width="6.18" height="6.18" fill="#5065af"/><rect x="107.34" y="137.54" width="6.18" height="6.18" fill="#546cb5"/><rect x="113.22" y="137.54" width="6.18" height="6.18" fill="#556fb7"/><rect x="119.10" y="137.54" width="6.18" height="6.18" fill="#546cb5"/><rect x="124.98" y="137.54" width="6.18" height="6.18" fill="#5065af"/><rect x="130.86" y="137.54" width="6.18" height="6.18" fill="#4a5ca6"/><rect x="136.74" y="137.54" width="6.18" height="6.18" fill="#45539e"/><rect x="142.62" y="137.54" width="6.18" height="6.18" fill="#43509b"/><rect x="148.50" y="137.54" width="6.18" height="6.18" fill="#414d99"/><rect x="154.38" y="137.54" width="6.18" height="6.18" fill="#404995"/><rect x="160.26" y="137.54" width="6.18" height="6.18" fill="#3e4692"/><rect x="166.14" y="137.54" width="6.18" height="6.18" fill="#3a3f8c"/><rect x="172.02" y="137.54" width="6.18" height="6.18" fill="#353686"/><rect x="177.90" y="137.54" width="6.18" height="6.18" fill="#313181"/><rect x="183.78" y="137.54" width="6.18" height="6.18" fill="#2d2c7c"/><rect x="189.66" y="137.54" width="6.18" height="6.18" fill="#2b2878"/><rect x="195.54" y="137.54" width="6.18" height="6.18" fill="#292676"/><rect x="201.42" y="137.54" width="6.18" height="6.18" fill="#26206f"/><rect x="207.30" y="137.54" width="6.18" height="6.18" fill="#231b67"/><rect x="213.18" y="137.54" width="6.18" height="6.18" fill="#211a5d"/><rect x="219.06" y="137.54" width="6.18" height="6.18" fill="#201857"/><rect x="224.94" y="137.54" width="6.18" height="6.18" fill="#1e1652"/><rect x="230.82" y="137.54" width="6.18" height="6.18" fill="#1e1650"/><rect x="-4.38" y="143.42" width="6.18" height="6.18" fill="#191242"/><rect x="1.50" y="143.42" width="6.18" height="6.18" fill="#1a1345"/><rect x="7.38" y="143.42" width="6.18" height="6.18" fill="#1c144b"/><rect x="13.26" y="143.42" width="6.18" height="6.18" fill="#1f1754"/><rect x="19.14" y="143.42" width="6.18" height="6.18" fill="#211a5b"/><rect x="25.02" y="143.42" width="6.18" height="6.18" fill="#231b67"/><rect x="30.90" y="143.42" width="6.18" height="6.18" fill="#272170"/><rect x="36.78" y="143.42" width="6.18" height="6.18" fill="#292575"/><rect x="42.66" y="143.42" width="6.18" height="6.18" fill="#2b2979"/><rect x="48.54" y="143.42" width="6.18" height="6.18" fill="#2f2e7e"/><rect x="54.42" y="143.42" width="6.18" height="6.18" fill="#333383"/><rect x="60.30" y="143.42" width="6.18" height="6.18" fill="#373989"/><rect x="66.18" y="143.42" width="6.18" height="6.18" fill="#3c438f"/><rect x="72.06" y="143.42" width="6.18" height="6.18" fill="#3f4793"/><rect x="77.94" y="143.42" width="6.18" height="6.18" fill="#404a96"/><rect x="83.82" y="143.42" width="6.18" height="6.18" fill="#414d99"/><rect x="89.70" y="143.42" width="6.18" height="6.18" fill="#43509b"/><rect x="95.58" y="143.42" width="6.18" height="6.18" fill="#44529d"/><rect x="101.46" y="143.42" width="6.18" height="6.18" fill="#4756a0"/><rect x="107.34" y="143.42" width="6.18" height="6.18" fill="#495aa4"/><rect x="113.22" y="143.42" width="6.18" height="6.18" fill="#4a5ca6"/><rect x="119.10" y="143.42" width="6.18" height="6.18" fill="#495aa4"/><rect x="124.98" y="143.42" width="6.18" height="6.18" fill="#4756a0"/><rect x="130.86" y="143.42" width="6.18" height="6.18" fill="#44529d"/><rect x="136.74" y="143.42" width="6.18" height="6.18" fill="#43509b"/><rect x="142.62" y="143.42" width="6.18" height="6.18" fill="#424d99"/><rect x="148.50" y="143.42" width="6.18" height="6.18" fill="#404a96"/><rect x="154.38" y="143.42" width="6.18" height="6.18" fill="#3f4793"/><rect x="160.26" y="143.42" width="6.18" height="6.18" fill="#3d438f"/><rect x="166.14" y="143.42" width="6.18" height="6.18" fill="#373a89"/><rect x="172.02" y="143.42" width="6.18" height="6.18" fill="#333484"/><rect x="177.90" y="143.42" width="6.18" height="6.18" fill="#2f2e7e"/><rect x="183.78" y="143.42" width="6.18" height="6.18" fill="#2c2a7a"/><rect x="189.66" y="143.42" width="6.18" height="6.18" fill="#2a2777"/><rect x="195.54" y="143.42" width="6.18" height="6.18" fill="#282373"/><rect x="201.42" y="143.42" width="6.18" height="6.18" fill="#251d6c"/><rect x="207.30" y="143.42" width="6.18" height="6.18" fill="#221a63"/><rect x="213.18" y="143.42" width="6.18" height="6.18" fill="#21195a"/><rect x="219.06" y="143.42" width="6.18" height="6.18" fill="#1f1754"/><rect x="224.94" y="143.42" width="6.18" height="6.18" fill="#1d1650"/><rect x="230.82" y="143.42" width="6.18" height="6.18" fill="#1d154f"/><rect x="-4.38" y="149.30" width="6.18" height="6.18" fill="#181240"/><rect x="1.50" y="149.30" width="6.18" height="6.18" fill="#191343"/><rect x="7.38" y="149.30" width="6.18" height="6.18" fill="#1b1448"/><rect x="13.26" y="149.30" width="6.18" height="6.18" fill="#1e1651"/><rect x="19.14" y="149.30" width="6.18" height="6.18" fill="#201858"/><rect x="25.02" y="149.30" width="6.18" height="6.18" fill="#221a61"/><rect x="30.90" y="149.30" width="6.18" height="6.18" fill="#251d6d"/><rect x="36.78" y="149.30" width="6.18" height="6.18" fill="#282373"/><rect x="42.66" y="149.30" width="6.18" height="6.18" fill="#2a2777"/><rect x="48.54" y="149.30" width="6.18" height="6.18" fill="#2d2b7b"/><rect x="54.42" y="149.30" width="6.18" height="6.18" fill="#303080"/><rect x="60.30" y="149.30" width="6.18" height="6.18" fill="#343585"/><rect x="66.18" y="149.30" width="6.18" height="6.18" fill="#393d8b"/><rect x="72.06" y="149.30" width="6.18" height="6.18" fill="#3d4490"/><rect x="77.94" y="149.30" width="6.18" height="6.18" fill="#3f4793"/><rect x="83.82" y="149.30" width="6.18" height="6.18" fill="#404a96"/><rect x="89.70" y="149.30" width="6.18" height="6.18" fill="#414c98"/><rect x="95.58" y="149.30" width="6.18" height="6.18" fill="#424e9a"/><rect x="101.46" y="149.30" width="6.18" height="6.18" fill="#43509c"/><rect x="107.34" y="149.30" width="6.18" height="6.18" fill="#44519c"/><rect x="113.22" y="149.30" width="6.18" height="6.18" fill="#44519d"/><rect x="119.10" y="149.30" width="6.18" height="6.18" fill="#44519c"/><rect x="124.98" y="149.30" width="6.18" height="6.18" fill="#43509c"/><rect x="130.86" y="149.30" width="6.18" height="6.18" fill="#424e9a"/><rect x="136.74" y="149.30" width="6.18" height="6.18" fill="#414c98"/><rect x="142.62" y="149.30" width="6.18" height="6.18" fill="#404a96"/><rect x="148.50" y="149.30" width="6.18" height="6.18" fill="#3f4793"/><rect x="154.38" y="149.30" width="6.18" height="6.18" fill="#3d4591"/><rect x="160.26" y="149.30" width="6.18" height="6.18" fill="#393d8b"/><rect x="166.14" y="149.30" width="6.18" height="6.18" fill="#343686"/><rect x="172.02" y="149.30" width="6.18" height="6.18" fill="#313080"/><rect x="177.90" y="149.30" width="6.18" height="6.18" fill="#2d2c7c"/><rect x="183.78" y="149.30" width="6.18" height="6.18" fill="#2b2878"/><rect x="189.66" y="149.30" width="6.18" height="6.18" fill="#292575"/><rect x="195.54" y="149.30" width="6.18" height="6.18" fill="#27206f"/><rect x="201.42" y="149.30" width="6.18" height="6.18" fill="#231b68"/><rect x="207.30" y="149.30" width="6.18" height="6.18" fill="#211a5d"/><rect x="213.18" y="149.30" width="6.18" height="6.18" fill="#201857"/><rect x="219.06" y="149.30" width="6.18" height="6.18" fill="#1e1650"/><rect x="224.94" y="149.30" width="12.06" height="6.18" fill="#1d154d"/><rect x="-4.38" y="155.18" width="6.18" height="6.18" fill="#18123f"/><rect x="1.50" y="155.18" width="6.18" height="6.18" fill="#181240"/><rect x="7.38" y="155.18" width="6.18" height="6.18" fill="#1a1345"/><rect x="13.26" y="155.18" width="6.18" height="6.18" fill="#1c154c"/><rect x="19.14" y="155.18" width="6.18" height="6.18" fill="#1f1754"/><rect x="25.02" y="155.18" width="6.18" height="6.18" fill="#211a5b"/><rect x="30.90" y="155.18" width="6.18" height="6.18" fill="#231b67"/><rect x="36.78" y="155.18" width="6.18" height="6.18" fill="#272170"/><rect x="42.66" y="155.18" width="6.18" height="6.18" fill="#292574"/><rect x="48.54" y="155.18" width="6.18" height="6.18" fill="#2b2878"/><rect x="54.42" y="155.18" width="6.18" height="6.18" fill="#2e2c7c"/><rect x="60.30" y="155.18" width="6.18" height="6.18" fill="#313181"/><rect x="66.18" y="155.18" width="6.18" height="6.18" fill="#353686"/><rect x="72.06" y="155.18" width="6.18" height="6.18" fill="#393d8b"/><rect x="77.94" y="155.18" width="6.18" height="6.18" fill="#3d4490"/><rect x="83.82" y="155.18" width="6.18" height="6.18" fill="#3e4793"/><rect x="89.70" y="155.18" width="6.18" height="6.18" fill="#3f4995"/><rect x="95.58" y="155.18" width="6.18" height="6.18" fill="#404b97"/><rect x="101.46" y="155.18" width="6.18" height="6.18" fill="#414c98"/><rect x="107.34" y="155.18" width="6.18" height="6.18" fill="#414d99"/><rect x="113.22" y="155.18" width="6.18" height="6.18" fill="#424d99"/><rect x="119.10" y="155.18" width="6.18" height="6.18" fill="#414d99"/><rect x="124.98" y="155.18" width="6.18" height="6.18" fill="#414c98"/><rect x="130.86" y="155.18" width="6.18" height="6.18" fill="#404b97"/><rect x="136.74" y="155.18" width="6.18" height="6.18" fill="#3f4995"/><rect x="142.62" y="155.18" width="6.18" height="6.18" fill="#3e4793"/><rect x="148.50" y="155.18" width="6.18" height="6.18" fill="#3d4490"/><rect x="154.38" y="155.18" width="6.18" height="6.18" fill="#393e8b"/><rect x="160.26" y="155.18" width="6.18" height="6.18" fill="#353787"/><rect x="166.14" y="155.18" width="6.18" height="6.18" fill="#323282"/><rect x="172.02" y="155.18" width="6.18" height="6.18" fill="#2e2d7d"/><rect x="177.90" y="155.18" width="6.18" height="6.18" fill="#2b2979"/><rect x="183.78" y="155.18" width="6.18" height="6.18" fill="#292676"/><rect x="189.66" y="155.18" width="6.18" height="6.18" fill="#282372"/><rect x="195.54" y="155.18" width="6.18" height="6.18" fill="#251c6b"/><rect x="201.42" y="155.18" width="6.18" height="6.18" fill="#221a61"/><rect x="207.30" y="155.18" width="6.18" height="6.18" fill="#201959"/><rect x="213.18" y="155.18" width="6.18" height="6.18" fill="#1e1753"/><rect x="219.06" y="155.18" width="6.18" height="6.18" fill="#1d154d"/><rect x="224.94" y="155.18" width="12.06" height="6.18" fill="#1c144b"/><rect x="-4.38" y="161.06" width="6.18" height="6.18" fill="#17113c"/><rect x="1.50" y="161.06" width="6.18" height="6.18" fill="#17123e"/><rect x="7.38" y="161.06" width="6.18" height="6.18" fill="#191242"/><rect x="13.26" y="161.06" width="6.18" height="6.18" fill="#1b1447"/><rect x="19.14" y="161.06" width="6.18" height="6.18" fill="#1d1650"/><rect x="25.02" y="161.06" width="6.18" height="6.18" fill="#1f1856"/><rect x="30.90" y="161.06" width="6.18" height="6.18" fill="#221a5f"/><rect x="36.78" y="161.06" width="6.18" height="6.18" fill="#241c6b"/><rect x="42.66" y="161.06" width="6.18" height="6.18" fill="#272272"/><rect x="48.54" y="161.06" width="6.18" height="6.18" fill="#292575"/><rect x="54.42" y="161.06" width="6.18" height="6.18" fill="#2b2979"/><rect x="60.30" y="161.06" width="6.18" height="6.18" fill="#2f2d7d"/><rect x="66.18" y="161.06" width="6.18" height="6.18" fill="#323282"/><rect x="72.06" y="161.06" width="6.18" height="6.18" fill="#353686"/><rect x="77.94" y="161.06" width="6.18" height="6.18" fill="#383c8a"/><rect x="83.82" y="161.06" width="6.18" height="6.18" fill="#3c428e"/><rect x="89.70" y="161.06" width="6.18" height="6.18" fill="#3e4591"/><rect x="95.58" y="161.06" width="6.18" height="6.18" fill="#3e4793"/><rect x="101.46" y="161.06" width="6.18" height="6.18" fill="#3f4894"/><rect x="107.34" y="161.06" width="6.18" height="6.18" fill="#3f4995"/><rect x="113.22" y="161.06" width="6.18" height="6.18" fill="#404995"/><rect x="119.10" y="161.06" width="6.18" height="6.18" fill="#3f4995"/><rect x="124.98" y="161.06" width="6.18" height="6.18" fill="#3f4894"/><rect x="130.86" y="161.06" width="6.18" height="6.18" fill="#3e4793"/><rect x="136.74" y="161.06" width="6.18" height="6.18" fill="#3e4591"/><rect x="142.62" y="161.06" width="6.18" height="6.18" fill="#3c428e"/><rect x="148.50" y="161.06" width="6.18" height="6.18" fill="#393c8b"/><rect x="154.38" y="161.06" width="6.18" height="6.18" fill="#353686"/><rect x="160.26" y="161.06" width="6.18" height="6.18" fill="#323282"/><rect x="166.14" y="161.06" width="6.18" height="6.18" fill="#2f2e7e"/><rect x="172.02" y="161.06" width="6.18" height="6.18" fill="#2c2979"/><rect x="177.90" y="161.06" width="6.18" height="6.18" fill="#2a2676"/><rect x="183.78" y="161.06" width="6.18" height="6.18" fill="#282373"/><rect x="189.66" y="161.06" width="6.18" height="6.18" fill="#251e6d"/><rect x="195.54" y="161.06" width="6.18" height="6.18" fill="#231b64"/><rect x="201.42" y="161.06" width="6.18" height="6.18" fill="#21195a"/><rect x="207.30" y="161.06" width="6.18" height="6.18" fill="#1f1755"/><rect x="213.18" y="161.06" width="6.18" height="6.18" fill="#1d154e"/><rect x="219.06" y="161.06" width="6.18" height="6.18" fill="#1c144a"/><rect x="224.94" y="161.06" width="6.18" height="6.18" fill="#1b1448"/><rect x="230.82" y="161.06" width="6.18" height="6.18" fill="#1b1449"/><rect x="-4.38" y="166.94" width="6.18" height="6.18" fill="#16113a"/><rect x="1.50" y="166.94" width="6.18" height="6.18" fill="#17113c"/><rect x="7.38" y="166.94" width="6.18" height="6.18" fill="#17123e"/><rect x="13.26" y="166.94" width="6.18" height="6.18" fill="#191343"/><rect x="19.14" y="166.94" width="6.18" height="6.18" fill="#1c144a"/><rect x="25.02" y="166.94" width="6.18" height="6.18" fill="#1e1652"/><rect x="30.90" y="166.94" width="6.18" height="6.18" fill="#201958"/><rect x="36.78" y="166.94" width="6.18" height="6.18" fill="#221a62"/><rect x="42.66" y="166.94" width="6.18" height="6.18" fill="#251e6d"/><rect x="48.54" y="166.94" width="6.18" height="6.18" fill="#282272"/><rect x="54.42" y="166.94" width="6.18" height="6.18" fill="#292675"/><rect x="60.30" y="166.94" width="6.18" height="6.18" fill="#2b2979"/><rect x="66.18" y="166.94" width="6.18" height="6.18" fill="#2e2d7d"/><rect x="72.06" y="166.94" width="6.18" height="6.18" fill="#313181"/><rect x="77.94" y="166.94" width="6.18" height="6.18" fill="#343585"/><rect x="83.82" y="166.94" width="6.18" height="6.18" fill="#363988"/><rect x="89.70" y="166.94" width="6.18" height="6.18" fill="#393e8b"/><rect x="95.58" y="166.94" width="6.18" height="6.18" fill="#3c428e"/><rect x="101.46" y="166.94" width="6.18" height="6.18" fill="#3d4490"/><rect x="107.34" y="166.94" width="6.18" height="6.18" fill="#3d4591"/><rect x="113.22" y="166.94" width="6.18" height="6.18" fill="#3e4591"/><rect x="119.10" y="166.94" width="6.18" height="6.18" fill="#3d4591"/><rect x="124.98" y="166.94" width="6.18" height="6.18" fill="#3d4490"/><rect x="130.86" y="166.94" width="6.18" height="6.18" fill="#3c428e"/><rect x="136.74" y="166.94" width="6.18" height="6.18" fill="#393e8b"/><rect x="142.62" y="166.94" width="6.18" height="6.18" fill="#363988"/><rect x="148.50" y="166.94" width="6.18" height="6.18" fill="#343585"/><rect x="154.38" y="166.94" width="6.18" height="6.18" fill="#313181"/><rect x="160.26" y="166.94" width="6.18" height="6.18" fill="#2f2d7d"/><rect x="166.14" y="166.94" width="6.18" height="6.18" fill="#2c2979"/><rect x="172.02" y="166.94" width="6.18" height="6.18" fill="#2a2676"/><rect x="177.90" y="166.94" width="6.18" height="6.18" fill="#282373"/><rect x="183.78" y="166.94" width="6.18" height="6.18" fill="#261f6e"/><rect x="189.66" y="166.94" width="6.18" height="6.18" fill="#231b66"/><rect x="195.54" y="166.94" width="6.18" height="6.18" fill="#211a5b"/><rect x="201.42" y="166.94" width="6.18" height="6.18" fill="#1f1856"/><rect x="207.30" y="166.94" width="6.18" height="6.18" fill="#1d164f"/><rect x="213.18" y="166.94" width="6.18" height="6.18" fill="#1b1449"/><rect x="219.06" y="166.94" width="12.06" height="6.18" fill="#1a1346"/><rect x="230.82" y="166.94" width="6.18" height="6.18" fill="#1a1347"/><rect x="-4.38" y="172.82" width="6.18" height="6.18" fill="#111017"/><rect x="1.50" y="172.82" width="6.18" height="6.18" fill="#121019"/><rect x="7.38" y="172.82" width="6.18" height="6.18" fill="#12101f"/><rect x="13.26" y="172.82" width="6.18" height="6.18" fill="#130f29"/><rect x="19.14" y="172.82" width="6.18" height="6.18" fill="#150f34"/><rect x="25.02" y="172.82" width="6.18" height="6.18" fill="#17123e"/><rect x="30.90" y="172.82" width="6.18" height="6.18" fill="#1a1345"/><rect x="36.78" y="172.82" width="6.18" height="6.18" fill="#1d154d"/><rect x="42.66" y="172.82" width="6.18" height="6.18" fill="#1f1755"/><rect x="48.54" y="172.82" width="6.18" height="6.18" fill="#211a5d"/><rect x="54.42" y="172.82" width="6.18" height="6.18" fill="#231b66"/><rect x="60.30" y="172.82" width="6.18" height="6.18" fill="#251c6b"/><rect x="66.18" y="172.82" width="6.18" height="6.18" fill="#26206f"/><rect x="72.06" y="172.82" width="6.18" height="6.18" fill="#292574"/><rect x="77.94" y="172.82" width="6.18" height="6.18" fill="#2b2979"/><rect x="83.82" y="172.82" width="6.18" height="6.18" fill="#2d2c7c"/><rect x="89.70" y="172.82" width="6.18" height="6.18" fill="#2f2e7e"/><rect x="95.58" y="172.82" width="6.18" height="6.18" fill="#313080"/><rect x="101.46" y="172.82" width="6.18" height="6.18" fill="#323282"/><rect x="107.34" y="172.82" width="17.94" height="6.18" fill="#333383"/><rect x="124.98" y="172.82" width="6.18" height="6.18" fill="#323282"/><rect x="130.86" y="172.82" width="6.18" height="6.18" fill="#313080"/><rect x="136.74" y="172.82" width="6.18" height="6.18" fill="#2f2e7e"/><rect x="142.62" y="172.82" width="6.18" height="6.18" fill="#2d2c7c"/><rect x="148.50" y="172.82" width="6.18" height="6.18" fill="#2b2979"/><rect x="154.38" y="172.82" width="6.18" height="6.18" fill="#292575"/><rect x="160.26" y="172.82" width="6.18" height="6.18" fill="#26206f"/><rect x="166.14" y="172.82" width="6.18" height="6.18" fill="#251c6b"/><rect x="172.02" y="172.82" width="6.18" height="6.18" fill="#231b66"/><rect x="177.90" y="172.82" width="6.18" height="6.18" fill="#211a5e"/><rect x="183.78" y="172.82" width="6.18" height="6.18" fill="#1f1855"/><rect x="189.66" y="172.82" width="6.18" height="6.18" fill="#1d154e"/><rect x="195.54" y="172.82" width="6.18" height="6.18" fill="#1a1346"/><rect x="201.42" y="172.82" width="6.18" height="6.18" fill="#18123f"/><rect x="207.30" y="172.82" width="6.18" height="6.18" fill="#151036"/><rect x="213.18" y="172.82" width="6.18" height="6.18" fill="#140f2d"/><rect x="219.06" y="172.82" width="6.18" height="6.18" fill="#131024"/><rect x="224.94" y="172.82" width="6.18" height="6.18" fill="#12101e"/><rect x="230.82" y="172.82" width="6.18" height="6.18" fill="#12101b"/><rect x="-4.38" y="178.70" width="6.18" height="6.18" fill="#0e0e0c"/><rect x="1.50" y="178.70" width="6.18" height="6.18" fill="#0e0e0d"/><rect x="7.38" y="178.70" width="6.18" height="6.18" fill="#100f12"/><rect x="13.26" y="178.70" width="6.18" height="6.18" fill="#111017"/><rect x="19.14" y="178.70" width="6.18" height="6.18" fill="#131021"/><rect x="25.02" y="178.70" width="6.18" height="6.18" fill="#140f2f"/><rect x="30.90" y="178.70" width="6.18" height="6.18" fill="#16113a"/><rect x="36.78" y="178.70" width="6.18" height="6.18" fill="#191241"/><rect x="42.66" y="178.70" width="6.18" height="6.18" fill="#1b1449"/><rect x="48.54" y="178.70" width="6.18" height="6.18" fill="#1e1651"/><rect x="54.42" y="178.70" width="6.18" height="6.18" fill="#201958"/><rect x="60.30" y="178.70" width="6.18" height="6.18" fill="#211a5e"/><rect x="66.18" y="178.70" width="6.18" height="6.18" fill="#231b64"/><rect x="72.06" y="178.70" width="6.18" height="6.18" fill="#241b69"/><rect x="77.94" y="178.70" width="6.18" height="6.18" fill="#261e6e"/><rect x="83.82" y="178.70" width="6.18" height="6.18" fill="#282272"/><rect x="89.70" y="178.70" width="6.18" height="6.18" fill="#292575"/><rect x="95.58" y="178.70" width="6.18" height="6.18" fill="#2a2878"/><rect x="101.46" y="178.70" width="6.18" height="6.18" fill="#2b2979"/><rect x="107.34" y="178.70" width="17.94" height="6.18" fill="#2c2a7a"/><rect x="124.98" y="178.70" width="6.18" height="6.18" fill="#2b2979"/><rect x="130.86" y="178.70" width="6.18" height="6.18" fill="#2a2878"/><rect x="136.74" y="178.70" width="6.18" height="6.18" fill="#292575"/><rect x="142.62" y="178.70" width="6.18" height="6.18" fill="#282272"/><rect x="148.50" y="178.70" width="6.18" height="6.18" fill="#261e6e"/><rect x="154.38" y="178.70" width="6.18" height="6.18" fill="#241b69"/><rect x="160.26" y="178.70" width="6.18" height="6.18" fill="#231b64"/><rect x="166.14" y="178.70" width="6.18" height="6.18" fill="#211a5e"/><rect x="172.02" y="178.70" width="6.18" height="6.18" fill="#201958"/><rect x="177.90" y="178.70" width="6.18" height="6.18" fill="#1e1651"/><rect x="183.78" y="178.70" width="6.18" height="6.18" fill="#1b1449"/><rect x="189.66" y="178.70" width="6.18" height="6.18" fill="#191241"/><rect x="195.54" y="178.70" width="6.18" height="6.18" fill="#16113a"/><rect x="201.42" y="178.70" width="6.18" height="6.18" fill="#140f2f"/><rect x="207.30" y="178.70" width="6.18" height="6.18" fill="#131021"/><rect x="213.18" y="178.70" width="6.18" height="6.18" fill="#111017"/><rect x="219.06" y="178.70" width="6.18" height="6.18" fill="#100f12"/><rect x="224.94" y="178.70" width="6.18" height="6.18" fill="#0e0e0d"/><rect x="230.82" y="178.70" width="6.18" height="6.18" fill="#0e0e0c"/><rect x="-4.38" y="184.58" width="12.06" height="6.18" fill="#0e0e0c"/><rect x="7.38" y="184.58" width="6.18" height="6.18" fill="#0f0e0f"/><rect x="13.26" y="184.58" width="6.18" height="6.18" fill="#100f13"/><rect x="19.14" y="184.58" width="6.18" height="6.18" fill="#121019"/><rect x="25.02" y="184.58" width="6.18" height="6.18" fill="#131024"/><rect x="30.90" y="184.58" width="6.18" height="6.18" fill="#140f33"/><rect x="36.78" y="184.58" width="6.18" height="6.18" fill="#17113b"/><rect x="42.66" y="184.58" width="6.18" height="6.18" fill="#191242"/><rect x="48.54" y="184.58" width="6.18" height="6.18" fill="#1b1449"/><rect x="54.42" y="184.58" width="6.18" height="6.18" fill="#1e1650"/><rect x="60.30" y="184.58" width="6.18" height="6.18" fill="#1f1857"/><rect x="66.18" y="184.58" width="6.18" height="6.18" fill="#211a5c"/><rect x="72.06" y="184.58" width="6.18" height="6.18" fill="#221a61"/><rect x="77.94" y="184.58" width="6.18" height="6.18" fill="#231b65"/><rect x="83.82" y="184.58" width="6.18" height="6.18" fill="#241b69"/><rect x="89.70" y="184.58" width="6.18" height="6.18" fill="#251d6c"/><rect x="95.58" y="184.58" width="6.18" height="6.18" fill="#26206f"/><rect x="101.46" y="184.58" width="6.18" height="6.18" fill="#272171"/><rect x="107.34" y="184.58" width="6.18" height="6.18" fill="#282272"/><rect x="113.22" y="184.58" width="6.18" height="6.18" fill="#282372"/><rect x="119.10" y="184.58" width="6.18" height="6.18" fill="#282272"/><rect x="124.98" y="184.58" width="6.18" height="6.18" fill="#272171"/><rect x="130.86" y="184.58" width="6.18" height="6.18" fill="#26206f"/><rect x="136.74" y="184.58" width="6.18" height="6.18" fill="#251d6c"/><rect x="142.62" y="184.58" width="6.18" height="6.18" fill="#241b69"/><rect x="148.50" y="184.58" width="6.18" height="6.18" fill="#231b65"/><rect x="154.38" y="184.58" width="6.18" height="6.18" fill="#221a61"/><rect x="160.26" y="184.58" width="6.18" height="6.18" fill="#211a5c"/><rect x="166.14" y="184.58" width="6.18" height="6.18" fill="#1f1857"/><rect x="172.02" y="184.58" width="6.18" height="6.18" fill="#1e1650"/><rect x="177.90" y="184.58" width="6.18" height="6.18" fill="#1b1449"/><rect x="183.78" y="184.58" width="6.18" height="6.18" fill="#191242"/><rect x="189.66" y="184.58" width="6.18" height="6.18" fill="#17113b"/><rect x="195.54" y="184.58" width="6.18" height="6.18" fill="#140f33"/><rect x="201.42" y="184.58" width="6.18" height="6.18" fill="#131024"/><rect x="207.30" y="184.58" width="6.18" height="6.18" fill="#121019"/><rect x="213.18" y="184.58" width="6.18" height="6.18" fill="#100f13"/><rect x="219.06" y="184.58" width="6.18" height="6.18" fill="#0f0e0f"/><rect x="224.94" y="184.58" width="12.06" height="6.18" fill="#0e0e0c"/><rect x="-4.38" y="190.46" width="17.94" height="6.18" fill="#0e0e0c"/><rect x="13.26" y="190.46" width="6.18" height="6.18" fill="#0f0f10"/><rect x="19.14" y="190.46" width="6.18" height="6.18" fill="#100f15"/><rect x="25.02" y="190.46" width="6.18" height="6.18" fill="#12101b"/><rect x="30.90" y="190.46" width="6.18" height="6.18" fill="#131025"/><rect x="36.78" y="190.46" width="6.18" height="6.18" fill="#140f33"/><rect x="42.66" y="190.46" width="6.18" height="6.18" fill="#17113b"/><rect x="48.54" y="190.46" width="6.18" height="6.18" fill="#191241"/><rect x="54.42" y="190.46" width="6.18" height="6.18" fill="#1b1448"/><rect x="60.30" y="190.46" width="6.18" height="6.18" fill="#1d154e"/><rect x="66.18" y="190.46" width="6.18" height="6.18" fill="#1f1754"/><rect x="72.06" y="190.46" width="6.18" height="6.18" fill="#201959"/><rect x="77.94" y="190.46" width="6.18" height="6.18" fill="#211a5d"/><rect x="83.82" y="190.46" width="6.18" height="6.18" fill="#221a60"/><rect x="89.70" y="190.46" width="6.18" height="6.18" fill="#231b64"/><rect x="95.58" y="190.46" width="6.18" height="6.18" fill="#231b66"/><rect x="101.46" y="190.46" width="6.18" height="6.18" fill="#241b68"/><rect x="107.34" y="190.46" width="17.94" height="6.18" fill="#241b69"/><rect x="124.98" y="190.46" width="6.18" height="6.18" fill="#241b68"/><rect x="130.86" y="190.46" width="6.18" height="6.18" fill="#231b66"/><rect x="136.74" y="190.46" width="6.18" height="6.18" fill="#231b64"/><rect x="142.62" y="190.46" width="6.18" height="6.18" fill="#221a60"/><rect x="148.50" y="190.46" width="6.18" height="6.18" fill="#211a5d"/><rect x="154.38" y="190.46" width="6.18" height="6.18" fill="#201959"/><rect x="160.26" y="190.46" width="6.18" height="6.18" fill="#1f1754"/><rect x="166.14" y="190.46" width="6.18" height="6.18" fill="#1d154e"/><rect x="172.02" y="190.46" width="6.18" height="6.18" fill="#1b1448"/><rect x="177.90" y="190.46" width="6.18" height="6.18" fill="#191241"/><rect x="183.78" y="190.46" width="6.18" height="6.18" fill="#17113b"/><rect x="189.66" y="190.46" width="6.18" height="6.18" fill="#140f33"/><rect x="195.54" y="190.46" width="6.18" height="6.18" fill="#131025"/><rect x="201.42" y="190.46" width="6.18" height="6.18" fill="#12101b"/><rect x="207.30" y="190.46" width="6.18" height="6.18" fill="#100f15"/><rect x="213.18" y="190.46" width="6.18" height="6.18" fill="#0f0f10"/><rect x="219.06" y="190.46" width="17.94" height="6.18" fill="#0e0e0c"/><rect x="-4.38" y="196.34" width="23.82" height="6.18" fill="#0e0e0c"/><rect x="19.14" y="196.34" width="6.18" height="6.18" fill="#0f0f11"/><rect x="25.02" y="196.34" width="6.18" height="6.18" fill="#110f15"/><rect x="30.90" y="196.34" width="6.18" height="6.18" fill="#12101b"/><rect x="36.78" y="196.34" width="6.18" height="6.18" fill="#131025"/><rect x="42.66" y="196.34" width="6.18" height="6.18" fill="#140f33"/><rect x="48.54" y="196.34" width="6.18" height="6.18" fill="#16113a"/><rect x="54.42" y="196.34" width="6.18" height="6.18" fill="#181240"/><rect x="60.30" y="196.34" width="6.18" height="6.18" fill="#1a1345"/><rect x="66.18" y="196.34" width="6.18" height="6.18" fill="#1c144b"/><rect x="72.06" y="196.34" width="6.18" height="6.18" fill="#1d1650"/><rect x="77.94" y="196.34" width="6.18" height="6.18" fill="#1f1754"/><rect x="83.82" y="196.34" width="6.18" height="6.18" fill="#201958"/><rect x="89.70" y="196.34" width="6.18" height="6.18" fill="#211a5b"/><rect x="95.58" y="196.34" width="6.18" height="6.18" fill="#211a5d"/><rect x="101.46" y="196.34" width="6.18" height="6.18" fill="#211a5e"/><rect x="107.34" y="196.34" width="6.18" height="6.18" fill="#221a5f"/><rect x="113.22" y="196.34" width="6.18" height="6.18" fill="#221a60"/><rect x="119.10" y="196.34" width="6.18" height="6.18" fill="#221a5f"/><rect x="124.98" y="196.34" width="6.18" height="6.18" fill="#211a5e"/><rect x="130.86" y="196.34" width="6.18" height="6.18" fill="#211a5d"/><rect x="136.74" y="196.34" width="6.18" height="6.18" fill="#211a5b"/><rect x="142.62" y="196.34" width="6.18" height="6.18" fill="#201958"/><rect x="148.50" y="196.34" width="6.18" height="6.18" fill="#1f1754"/><rect x="154.38" y="196.34" width="6.18" height="6.18" fill="#1d1650"/><rect x="160.26" y="196.34" width="6.18" height="6.18" fill="#1c144b"/><rect x="166.14" y="196.34" width="6.18" height="6.18" fill="#1a1345"/><rect x="172.02" y="196.34" width="6.18" height="6.18" fill="#181240"/><rect x="177.90" y="196.34" width="6.18" height="6.18" fill="#16113a"/><rect x="183.78" y="196.34" width="6.18" height="6.18" fill="#140f33"/><rect x="189.66" y="196.34" width="6.18" height="6.18" fill="#131025"/><rect x="195.54" y="196.34" width="6.18" height="6.18" fill="#12101b"/><rect x="201.42" y="196.34" width="6.18" height="6.18" fill="#110f15"/><rect x="207.30" y="196.34" width="6.18" height="6.18" fill="#0f0f11"/><rect x="213.18" y="196.34" width="23.82" height="6.18" fill="#0e0e0c"/><rect x="-4.38" y="202.22" width="23.82" height="6.18" fill="#0e0e0c"/><rect x="19.14" y="202.22" width="6.18" height="6.18" fill="#0e0e0d"/><rect x="25.02" y="202.22" width="6.18" height="6.18" fill="#0f0f11"/><rect x="30.90" y="202.22" width="6.18" height="6.18" fill="#110f15"/><rect x="36.78" y="202.22" width="6.18" height="6.18" fill="#12101b"/><rect x="42.66" y="202.22" width="6.18" height="6.18" fill="#131024"/><rect x="48.54" y="202.22" width="6.18" height="6.18" fill="#140f2f"/><rect x="54.42" y="202.22" width="6.18" height="6.18" fill="#161038"/><rect x="60.30" y="202.22" width="6.18" height="6.18" fill="#17113d"/><rect x="66.18" y="202.22" width="6.18" height="6.18" fill="#191242"/><rect x="72.06" y="202.22" width="6.18" height="6.18" fill="#1a1346"/><rect x="77.94" y="202.22" width="6.18" height="6.18" fill="#1c144a"/><rect x="83.82" y="202.22" width="6.18" height="6.18" fill="#1d154e"/><rect x="89.70" y="202.22" width="6.18" height="6.18" fill="#1e1651"/><rect x="95.58" y="202.22" width="6.18" height="6.18" fill="#1f1753"/><rect x="101.46" y="202.22" width="6.18" height="6.18" fill="#1f1855"/><rect x="107.34" y="202.22" width="6.18" height="6.18" fill="#1f1856"/><rect x="113.22" y="202.22" width="6.18" height="6.18" fill="#1f1857"/><rect x="119.10" y="202.22" width="6.18" height="6.18" fill="#1f1856"/><rect x="124.98" y="202.22" width="6.18" height="6.18" fill="#1f1855"/><rect x="130.86" y="202.22" width="6.18" height="6.18" fill="#1f1753"/><rect x="136.74" y="202.22" width="6.18" height="6.18" fill="#1e1651"/><rect x="142.62" y="202.22" width="6.18" height="6.18" fill="#1d154e"/><rect x="148.50" y="202.22" width="6.18" height="6.18" fill="#1c144a"/><rect x="154.38" y="202.22" width="6.18" height="6.18" fill="#1a1346"/><rect x="160.26" y="202.22" width="6.18" height="6.18" fill="#191242"/><rect x="166.14" y="202.22" width="6.18" height="6.18" fill="#17113d"/><rect x="172.02" y="202.22" width="6.18" height="6.18" fill="#161038"/><rect x="177.90" y="202.22" width="6.18" height="6.18" fill="#140f2f"/><rect x="183.78" y="202.22" width="6.18" height="6.18" fill="#131024"/><rect x="189.66" y="202.22" width="6.18" height="6.18" fill="#12101b"/><rect x="195.54" y="202.22" width="6.18" height="6.18" fill="#110f15"/><rect x="201.42" y="202.22" width="6.18" height="6.18" fill="#0f0f11"/><rect x="207.30" y="202.22" width="6.18" height="6.18" fill="#0e0e0d"/><rect x="213.18" y="202.22" width="23.82" height="6.18" fill="#0e0e0c"/><rect x="-4.38" y="208.10" width="29.70" height="6.18" fill="#0e0e0c"/><rect x="25.02" y="208.10" width="6.18" height="6.18" fill="#0e0e0d"/><rect x="30.90" y="208.10" width="6.18" height="6.18" fill="#0f0f11"/><rect x="36.78" y="208.10" width="6.18" height="6.18" fill="#100f15"/><rect x="42.66" y="208.10" width="6.18" height="6.18" fill="#121019"/><rect x="48.54" y="208.10" width="6.18" height="6.18" fill="#131021"/><rect x="54.42" y="208.10" width="6.18" height="6.18" fill="#130f2a"/><rect x="60.30" y="208.10" width="6.18" height="6.18" fill="#140f34"/><rect x="66.18" y="208.10" width="6.18" height="6.18" fill="#161039"/><rect x="72.06" y="208.10" width="6.18" height="6.18" fill="#17113d"/><rect x="77.94" y="208.10" width="6.18" height="6.18" fill="#181241"/><rect x="83.82" y="208.10" width="6.18" height="6.18" fill="#191344"/><rect x="89.70" y="208.10" width="6.18" height="6.18" fill="#1a1347"/><rect x="95.58" y="208.10" width="6.18" height="6.18" fill="#1b1449"/><rect x="101.46" y="208.10" width="6.18" height="6.18" fill="#1c144b"/><rect x="107.34" y="208.10" width="6.18" height="6.18" fill="#1c144c"/><rect x="113.22" y="208.10" width="6.18" height="6.18" fill="#1c154c"/><rect x="119.10" y="208.10" width="6.18" height="6.18" fill="#1c144c"/><rect x="124.98" y="208.10" width="6.18" height="6.18" fill="#1c144b"/><rect x="130.86" y="208.10" width="6.18" height="6.18" fill="#1b1449"/><rect x="136.74" y="208.10" width="6.18" height="6.18" fill="#1a1347"/><rect x="142.62" y="208.10" width="6.18" height="6.18" fill="#191344"/><rect x="148.50" y="208.10" width="6.18" height="6.18" fill="#181241"/><rect x="154.38" y="208.10" width="6.18" height="6.18" fill="#17113d"/><rect x="160.26" y="208.10" width="6.18" height="6.18" fill="#161039"/><rect x="166.14" y="208.10" width="6.18" height="6.18" fill="#140f34"/><rect x="172.02" y="208.10" width="6.18" height="6.18" fill="#130f2a"/><rect x="177.90" y="208.10" width="6.18" height="6.18" fill="#131021"/><rect x="183.78" y="208.10" width="6.18" height="6.18" fill="#121019"/><rect x="189.66" y="208.10" width="6.18" height="6.18" fill="#100f15"/><rect x="195.54" y="208.10" width="6.18" height="6.18" fill="#0f0f11"/><rect x="201.42" y="208.10" width="6.18" height="6.18" fill="#0e0e0d"/><rect x="207.30" y="208.10" width="29.70" height="6.18" fill="#0e0e0c"/><rect x="-4.38" y="213.98" width="41.46" height="6.18" fill="#0e0e0c"/><rect x="36.78" y="213.98" width="6.18" height="6.18" fill="#0f0f10"/><rect x="42.66" y="213.98" width="6.18" height="6.18" fill="#100f13"/><rect x="48.54" y="213.98" width="6.18" height="6.18" fill="#111017"/><rect x="54.42" y="213.98" width="6.18" height="6.18" fill="#12101c"/><rect x="60.30" y="213.98" width="6.18" height="6.18" fill="#131023"/><rect x="66.18" y="213.98" width="6.18" height="6.18" fill="#130f2b"/><rect x="72.06" y="213.98" width="6.18" height="6.18" fill="#140f33"/><rect x="77.94" y="213.98" width="6.18" height="6.18" fill="#161038"/><rect x="83.82" y="213.98" width="6.18" height="6.18" fill="#16113b"/><rect x="89.70" y="213.98" width="6.18" height="6.18" fill="#17113d"/><rect x="95.58" y="213.98" width="6.18" height="6.18" fill="#18123f"/><rect x="101.46" y="213.98" width="6.18" height="6.18" fill="#181241"/><rect x="107.34" y="213.98" width="6.18" height="6.18" fill="#191241"/><rect x="113.22" y="213.98" width="6.18" height="6.18" fill="#191242"/><rect x="119.10" y="213.98" width="6.18" height="6.18" fill="#191241"/><rect x="124.98" y="213.98" width="6.18" height="6.18" fill="#181241"/><rect x="130.86" y="213.98" width="6.18" height="6.18" fill="#18123f"/><rect x="136.74" y="213.98" width="6.18" height="6.18" fill="#17113d"/><rect x="142.62" y="213.98" width="6.18" height="6.18" fill="#16113b"/><rect x="148.50" y="213.98" width="6.18" height="6.18" fill="#161038"/><rect x="154.38" y="213.98" width="6.18" height="6.18" fill="#140f33"/><rect x="160.26" y="213.98" width="6.18" height="6.18" fill="#130f2b"/><rect x="166.14" y="213.98" width="6.18" height="6.18" fill="#131023"/><rect x="172.02" y="213.98" width="6.18" height="6.18" fill="#12101c"/><rect x="177.90" y="213.98" width="6.18" height="6.18" fill="#111017"/><rect x="183.78" y="213.98" width="6.18" height="6.18" fill="#100f13"/><rect x="189.66" y="213.98" width="6.18" height="6.18" fill="#0f0f10"/><rect x="195.54" y="213.98" width="41.46" height="6.18" fill="#0e0e0c"/><rect x="-4.38" y="219.86" width="47.34" height="6.18" fill="#0e0e0c"/><rect x="42.66" y="219.86" width="6.18" height="6.18" fill="#0f0e0f"/><rect x="48.54" y="219.86" width="6.18" height="6.18" fill="#100f12"/><rect x="54.42" y="219.86" width="6.18" height="6.18" fill="#100f15"/><rect x="60.30" y="219.86" width="6.18" height="6.18" fill="#111018"/><rect x="66.18" y="219.86" width="6.18" height="6.18" fill="#12101d"/><rect x="72.06" y="219.86" width="6.18" height="6.18" fill="#131022"/><rect x="77.94" y="219.86" width="6.18" height="6.18" fill="#130f28"/><rect x="83.82" y="219.86" width="6.18" height="6.18" fill="#140f2e"/><rect x="89.70" y="219.86" width="6.18" height="6.18" fill="#140f33"/><rect x="95.58" y="219.86" width="6.18" height="6.18" fill="#151035"/><rect x="101.46" y="219.86" width="6.18" height="6.18" fill="#151037"/><rect x="107.34" y="219.86" width="17.94" height="6.18" fill="#161038"/><rect x="124.98" y="219.86" width="6.18" height="6.18" fill="#151037"/><rect x="130.86" y="219.86" width="6.18" height="6.18" fill="#151035"/><rect x="136.74" y="219.86" width="6.18" height="6.18" fill="#140f33"/><rect x="142.62" y="219.86" width="6.18" height="6.18" fill="#140f2e"/><rect x="148.50" y="219.86" width="6.18" height="6.18" fill="#130f28"/><rect x="154.38" y="219.86" width="6.18" height="6.18" fill="#131022"/><rect x="160.26" y="219.86" width="6.18" height="6.18" fill="#12101d"/><rect x="166.14" y="219.86" width="6.18" height="6.18" fill="#111018"/><rect x="172.02" y="219.86" width="6.18" height="6.18" fill="#100f15"/><rect x="177.90" y="219.86" width="6.18" height="6.18" fill="#100f12"/><rect x="183.78" y="219.86" width="6.18" height="6.18" fill="#0f0e0f"/><rect x="189.66" y="219.86" width="47.34" height="6.18" fill="#0e0e0c"/><rect x="-4.38" y="225.74" width="53.22" height="6.18" fill="#0e0e0c"/><rect x="48.54" y="225.74" width="6.18" height="6.18" fill="#0e0e0d"/><rect x="54.42" y="225.74" width="6.18" height="6.18" fill="#0f0f10"/><rect x="60.30" y="225.74" width="6.18" height="6.18" fill="#100f12"/><rect x="66.18" y="225.74" width="6.18" height="6.18" fill="#100f15"/><rect x="72.06" y="225.74" width="6.18" height="6.18" fill="#111017"/><rect x="77.94" y="225.74" width="6.18" height="6.18" fill="#12101a"/><rect x="83.82" y="225.74" width="6.18" height="6.18" fill="#12101e"/><rect x="89.70" y="225.74" width="6.18" height="6.18" fill="#131021"/><rect x="95.58" y="225.74" width="6.18" height="6.18" fill="#131023"/><rect x="101.46" y="225.74" width="6.18" height="6.18" fill="#131025"/><rect x="107.34" y="225.74" width="6.18" height="6.18" fill="#130f26"/><rect x="113.22" y="225.74" width="6.18" height="6.18" fill="#130f27"/><rect x="119.10" y="225.74" width="6.18" height="6.18" fill="#130f26"/><rect x="124.98" y="225.74" width="6.18" height="6.18" fill="#131025"/><rect x="130.86" y="225.74" width="6.18" height="6.18" fill="#131023"/><rect x="136.74" y="225.74" width="6.18" height="6.18" fill="#131021"/><rect x="142.62" y="225.74" width="6.18" height="6.18" fill="#12101e"/><rect x="148.50" y="225.74" width="6.18" height="6.18" fill="#12101a"/><rect x="154.38" y="225.74" width="6.18" height="6.18" fill="#111017"/><rect x="160.26" y="225.74" width="6.18" height="6.18" fill="#100f15"/><rect x="166.14" y="225.74" width="6.18" height="6.18" fill="#100f12"/><rect x="172.02" y="225.74" width="6.18" height="6.18" fill="#0f0f10"/><rect x="177.90" y="225.74" width="6.18" height="6.18" fill="#0e0e0d"/><rect x="183.78" y="225.74" width="53.22" height="6.18" fill="#0e0e0c"/><rect x="-4.38" y="231.62" width="64.98" height="6.18" fill="#0e0e0c"/><rect x="60.30" y="231.62" width="6.18" height="6.18" fill="#0e0e0d"/><rect x="66.18" y="231.62" width="6.18" height="6.18" fill="#0f0e0f"/><rect x="72.06" y="231.62" width="6.18" height="6.18" fill="#100f11"/><rect x="77.94" y="231.62" width="6.18" height="6.18" fill="#100f13"/><rect x="83.82" y="231.62" width="6.18" height="6.18" fill="#100f15"/><rect x="89.70" y="231.62" width="6.18" height="6.18" fill="#110f16"/><rect x="95.58" y="231.62" width="6.18" height="6.18" fill="#111017"/><rect x="101.46" y="231.62" width="6.18" height="6.18" fill="#121018"/><rect x="107.34" y="231.62" width="17.94" height="6.18" fill="#121019"/><rect x="124.98" y="231.62" width="6.18" height="6.18" fill="#121018"/><rect x="130.86" y="231.62" width="6.18" height="6.18" fill="#111017"/><rect x="136.74" y="231.62" width="6.18" height="6.18" fill="#110f16"/><rect x="142.62" y="231.62" width="6.18" height="6.18" fill="#100f15"/><rect x="148.50" y="231.62" width="6.18" height="6.18" fill="#100f13"/><rect x="154.38" y="231.62" width="6.18" height="6.18" fill="#100f11"/><rect x="160.26" y="231.62" width="6.18" height="6.18" fill="#0f0e0f"/><rect x="166.14" y="231.62" width="6.18" height="6.18" fill="#0e0e0d"/><rect x="172.02" y="231.62" width="64.98" height="6.18" fill="#0e0e0c"/>
</g>
<rect x="235" y="0" width="1.8" height="234" fill="#5a5a5a"/>
<rect x="2.5" y="0" width="466.5" height="1.3" fill="#2a2a28"/>
<rect x="2.5" y="0" width="1.2" height="232.5" fill="#050505" shape-rendering="auto"/>
<rect x="2.5" y="231.4" width="232.5" height="1.1" fill="#050505"/>
<g shape-rendering="auto">
<!-- panel a overlays -->
<rect x="105.7" y="69.7" width="24.5" height="24.5" fill="none" stroke="#000" stroke-width="1.25"/>
<rect x="105.7" y="140.7" width="24.5" height="24.5" fill="none" stroke="#b8101c" stroke-width="1.15"/>
<text x="11" y="24" font-size="18" fill="#fff">(a) 6562.21 Å</text>
<!-- panel b overlays -->
<text x="245.5" y="23.6" font-size="18" fill="#fff">(b) 6564.71 Å</text>
<circle cx="405.7" cy="111.7" r="8.8" fill="none" stroke="#fff" stroke-width="1.3"/>
<circle cx="329.1" cy="151.9" r="8.8" fill="none" stroke="#fff" stroke-width="1.3"/>
<ellipse cx="367.5" cy="173" rx="18" ry="4.7" fill="none" stroke="#fff" stroke-width="1.3"/>
<text x="389" y="94.8" font-size="11" fill="#fff" stroke="#fff" stroke-width="0.12">PDS 70c</text>
<text x="274.3" y="150.3" font-size="11" fill="#fff" stroke="#fff" stroke-width="0.12">PDS 70b</text>
<text x="364" y="194.8" font-size="11" fill="#fff" stroke="#fff" stroke-width="0.12">Extended structure</text>
<!-- plot -->
<path d="M49.60 546.00v-3.20M49.60 251.00v3.20M59.99 546.00v-3.20M59.99 251.00v3.20M70.39 546.00v-3.20M70.39 251.00v3.20M80.78 546.00v-3.20M80.78 251.00v3.20M101.56 546.00v-3.20M101.56 251.00v3.20M111.95 546.00v-3.20M111.95 251.00v3.20M122.35 546.00v-3.20M122.35 251.00v3.20M132.74 546.00v-3.20M132.74 251.00v3.20M153.53 546.00v-3.20M153.53 251.00v3.20M163.92 546.00v-3.20M163.92 251.00v3.20M174.31 546.00v-3.20M174.31 251.00v3.20M184.70 546.00v-3.20M184.70 251.00v3.20M205.49 546.00v-3.20M205.49 251.00v3.20M215.88 546.00v-3.20M215.88 251.00v3.20M226.27 546.00v-3.20M226.27 251.00v3.20M236.66 546.00v-3.20M236.66 251.00v3.20M257.45 546.00v-3.20M257.45 251.00v3.20M267.84 546.00v-3.20M267.84 251.00v3.20M278.24 546.00v-3.20M278.24 251.00v3.20M288.63 546.00v-3.20M288.63 251.00v3.20M309.41 546.00v-3.20M309.41 251.00v3.20M319.81 546.00v-3.20M319.81 251.00v3.20M330.20 546.00v-3.20M330.20 251.00v3.20M340.59 546.00v-3.20M340.59 251.00v3.20M361.38 546.00v-3.20M361.38 251.00v3.20M371.77 546.00v-3.20M371.77 251.00v3.20M382.16 546.00v-3.20M382.16 251.00v3.20M392.55 546.00v-3.20M392.55 251.00v3.20M413.34 546.00v-3.20M413.34 251.00v3.20M423.73 546.00v-3.20M423.73 251.00v3.20M434.12 546.00v-3.20M434.12 251.00v3.20M444.51 546.00v-3.20M444.51 251.00v3.20M465.30 546.00v-3.20M465.30 251.00v3.20M49.60 546.00h3.20M465.30 546.00h-3.20M49.60 532.59h3.20M465.30 532.59h-3.20M49.60 505.77h3.20M465.30 505.77h-3.20M49.60 492.36h3.20M465.30 492.36h-3.20M49.60 478.95h3.20M465.30 478.95h-3.20M49.60 452.14h3.20M465.30 452.14h-3.20M49.60 438.73h3.20M465.30 438.73h-3.20M49.60 425.32h3.20M465.30 425.32h-3.20M49.60 398.50h3.20M465.30 398.50h-3.20M49.60 385.09h3.20M465.30 385.09h-3.20M49.60 371.68h3.20M465.30 371.68h-3.20M49.60 344.86h3.20M465.30 344.86h-3.20M49.60 331.45h3.20M465.30 331.45h-3.20M49.60 318.05h3.20M465.30 318.05h-3.20M49.60 291.23h3.20M465.30 291.23h-3.20M49.60 277.82h3.20M465.30 277.82h-3.20M49.60 264.41h3.20M465.30 264.41h-3.20" stroke="#777" stroke-width="1.0" fill="none"/>
<path d="M91.17 546.00v-6.00M91.17 251.00v6.00M143.13 546.00v-6.00M143.13 251.00v6.00M195.09 546.00v-6.00M195.09 251.00v6.00M247.06 546.00v-6.00M247.06 251.00v6.00M299.02 546.00v-6.00M299.02 251.00v6.00M350.98 546.00v-6.00M350.98 251.00v6.00M402.94 546.00v-6.00M402.94 251.00v6.00M454.91 546.00v-6.00M454.91 251.00v6.00M49.60 519.18h6.00M465.30 519.18h-6.00M49.60 465.55h6.00M465.30 465.55h-6.00M49.60 411.91h6.00M465.30 411.91h-6.00M49.60 358.27h6.00M465.30 358.27h-6.00M49.60 304.64h6.00M465.30 304.64h-6.00M49.60 251.00h6.00M465.30 251.00h-6.00" stroke="#3a3a3a" stroke-width="1.0" fill="none"/>
<rect x="49.60" y="251.00" width="415.70" height="295.00" fill="none" stroke="#1a1a1a" stroke-width="1.25"/>
<g font-family="Liberation Serif, serif" font-size="16" fill="#000" stroke="#000" stroke-width="0.15"><text x="94.17" y="565.2" text-anchor="middle">6400</text><text x="146.13" y="565.2" text-anchor="middle">6450</text><text x="198.09" y="565.2" text-anchor="middle">6500</text><text x="250.06" y="565.2" text-anchor="middle">6550</text><text x="302.02" y="565.2" text-anchor="middle">6600</text><text x="353.98" y="565.2" text-anchor="middle">6650</text><text x="405.94" y="565.2" text-anchor="middle">6700</text><text x="457.91" y="565.2" text-anchor="middle">6750</text><text x="41.6" y="524.88" text-anchor="end">0.5</text><text x="41.6" y="471.25" text-anchor="end">0.6</text><text x="41.6" y="417.61" text-anchor="end">0.7</text><text x="41.6" y="363.97" text-anchor="end">0.8</text><text x="41.6" y="310.34" text-anchor="end">0.9</text><text x="41.6" y="256.70" text-anchor="end">1</text></g>
<text x="57" y="278.5" font-size="18" fill="#000" stroke="#000" stroke-width="0.15">(c) Spectra around Hα</text>
<text x="391.8" y="268.9" font-size="14" text-anchor="end" fill="#000" stroke="#000" stroke-width="0.12">On stripe</text>
<text x="394" y="282.3" font-size="14" text-anchor="end" fill="#000" stroke="#000" stroke-width="0.12">Off stripe</text>
<line x1="408.1" y1="264.4" x2="448.5" y2="264.4" stroke="#c0141e" stroke-width="1.3"/>
<line x1="408.1" y1="278.4" x2="448.5" y2="278.4" stroke="#000" stroke-width="1.3"/>
<polyline points="49.7,488 51.1,498.1 52.7,501.2 54.2,509.3 55.2,491 57.6,484.9 60.9,475.8 63.3,472.7 65,470.7 67,475.8 69,476.4 71,489 73.1,499.2 75.1,484.9 77.6,479.8 80,484.9 81.6,486.9 84.7,480.8 86.7,506.3 89.8,474.7 91.4,473.7 93.4,509.3 95.9,468.6 97.5,469.7 100.4,477.8 102.4,478.8 105.7,492 109.7,468.6 111.8,470.7 115.2,495 117.9,464.6 120.4,462 122,463.6 124.1,479.8 125.1,490 127.1,473.7 129.8,464.6 131.2,466.6 133.8,519.5 135.9,473.7 137.3,456.4 139.3,455.4 141.4,453.4 142.8,462.5 144.8,508.3 146.5,491 148.5,461.5 150.1,464.6 151.6,471.7 154.2,455.4 156.2,462.5 158.3,518.5 160.3,476.8 162.7,457.5 164.4,459.5 165.8,458.5 167.8,478.8 169.9,465.6 171.9,461.5 173.9,453.4 176,458.5 177.4,464.6 179.4,479.8 181.1,467.6 184.1,455.4 186.2,458.5 188.2,478.8 191.7,532.7 193.3,511.3 195.3,500 196.6,480.8 199.1,462.5 201.1,458.5 203.1,460.5 205.6,462.5 207.6,456.4 208.8,453.4 210.9,457.5 212.9,455.4 215,465.6 217,456.4 218.4,453.4 220.4,456.4 222.5,455.4 224.5,453.4 227.2,451.4 229.2,459.5 231.2,462.5 233.3,452.4 235.3,449.3 237.3,448.3 238.8,446.3 240,448.5 241.6,453.9 243.4,460.7 245.1,474.2 246.5,462 248.1,456.6 249.5,451.8 250.6,459.3 251.5,460.7 252.9,471.5 254.2,474.2 255.6,471.5 256.9,460.7 258.9,420 260.8,335 262.4,263 263.8,335 264.1,420 265.4,460 266,474.2 267.8,476.9 269.1,475.6 270.9,471.5 272.5,481 273.6,489.1 275,476.9 276.3,459.3 277.7,453.2 279.3,456.6 280.6,460.7 282.7,455.9 284,451.8 285.4,454.5 286.7,457 288.1,455.2 289.6,451.3 291.1,452.1 292.6,470.4 293.9,488.7 294.9,492.5 296.5,468.9 297.5,458.2 298.7,462.7 300.3,464.3 301.8,458.9 303,454.4 304.5,457.4 305.6,458.9 307.1,466.6 308.7,467.3 310.2,474.9 311.7,465.8 313.2,458.2 314.8,462.7 316.3,465 317.8,456.6 318.9,455.4 320.4,459.7 321.9,458.2 323.9,456.6 325.5,456.6 327,462.7 329,470.4 330.5,465.8 332,468.9 333.5,468.9 335.1,475 336.6,478.8 338.1,470.4 340,466.8 341.8,464.3 343.8,462.7 345.3,471.9 346.9,473.4 348.4,468.9 350.4,465 351.9,467.3 353.7,471.9 355,470.4 356.5,468.9 358,470.4 359.1,471.9 360.6,465.8 362.6,467.3 364.1,473.4 365.2,478 366.3,488.7 367.5,487.2 368.7,480.3 370.2,478 372.1,473.4 373.9,468.9 375.9,465.8 377.4,468.1 378.9,468.9 380,479.5 381.5,494.8 383,485.6 384.6,477.3 386.1,476.5 388.1,475 390.1,473.4 391.9,474.2 393.4,478 395.2,474.8 397.3,472.8 399,480.3 401.4,484.8 403.8,480.3 406.4,473 408.2,476.6 409.7,483.9 411.5,509.6 413,531.5 414.2,509.6 415.5,483 417,483 418.5,482.1 419.7,483.9 421,483 422.1,498.6 423.4,510.5 424.7,494.9 426.1,487.6 428,483.9 429.4,482.1 431.3,485.8 433.5,488.5 436.1,478.4 437.6,482 439.2,488 441.5,481.5 443,482.5 444.5,486.5 445.8,483.7 447.6,483.7 449.5,492.1 451.5,491 454.5,490.6 457.1,496.3 459.4,498.2 461.3,492.1 464.4,483.7 465.2,482" fill="none" stroke="#c0141e" stroke-width="1.2" stroke-linejoin="round"/>
<polyline points="49.7,505.2 52.7,507.3 54.8,491 57.2,486 61.3,475.8 62.9,474.7 65.4,477.8 67,482.9 69,491 71,504.2 73.5,490 75.5,494 78.6,494 81.2,489 84.1,512.4 85.7,491 88.2,480.8 90.8,517.5 93.9,476.8 95.9,473.7 98.9,489 101,489 104,498 105.7,489 108.1,473.7 110.1,478.8 113.2,503.2 115.2,478.8 116.2,468.6 118.7,463.6 120.5,468 122,487 123.5,495.1 125.1,468.6 127.1,465.6 128.5,467.6 131.2,517.5 132.6,515.4 134.7,470.7 136.3,457.5 138.3,462.5 140.4,466.6 142.8,514.4 144.4,497.1 146.5,466.6 148.1,469.7 149.5,475.8 150.9,463.6 152.6,464.6 153.6,470.7 156.2,519.5 157.7,507.3 159.7,464.6 161.7,460.5 163.2,463.6 165.2,483.9 166.8,468.6 168.9,467.6 170.5,464.6 172.5,462.5 174.6,470.7 177,482.9 179,470.7 181.1,462.5 183.1,459.5 185.1,465.6 187.2,468.6 189.6,541.9 191.2,517.5 192.3,507.3 194.3,506.3 195.5,500 196.3,489 197.6,470.7 199.5,468.6 201.1,466.6 202.7,463.6 204.2,473.7 205.6,465.6 207.2,460.5 209.3,463.6 211.3,471.7 213.3,469.7 215.4,466.6 217,459.5 218.4,462.5 219.8,465.6 221.5,460.5 223.5,459.5 225.5,461.5 227.6,468.6 229.6,467.6 231.6,455.4 233.3,452.4 234.7,456.4 236.7,450.3 238.2,453.4 240,463.4 241.4,470.1 243,482.3 244.7,468.8 246.5,458 247.5,455.9 249.2,460.7 250.8,466.1 252.2,474.9 253.6,474.2 254.9,471.5 256,447.1 256.9,420 258,335 259.7,266 261,335 261.9,420 263.4,460 263.7,482.3 265.1,483.7 266,486.4 267.8,476.9 269.1,478.3 270.1,482.3 271.4,491.8 272.8,479.6 274.6,468.8 276.3,460.7 277.9,463.4 279.6,466.7 281.3,460.7 282.3,456.6 284,466.1 285.6,461 286.8,458.9 288.1,460.5 289.6,468.9 290.8,484.1 291.9,500.9 293.4,481.1 294.9,467.3 296,466.6 297.2,475 298.7,470.4 300.3,462 301.5,460.5 302.6,464.3 304.1,468.9 305.6,470.4 306.7,475.7 307.9,481.1 309.4,471.9 310.6,465.8 312.2,461.2 313.7,462.7 315.2,459.7 316.8,464.3 318.3,462 319.8,463.5 321.3,464.3 323.2,470.4 325,478 326.5,477.3 328.1,471.9 329.3,474.2 331.1,475.7 332.6,480.3 333.9,484.9 335.1,478 336.6,471.9 338.1,466.6 339.7,469.3 341.3,467.5 342.7,474.9 344.3,482.6 345.8,475 347.3,471.9 348.9,473.4 350.4,475.7 352.2,477.3 353.7,475 355,471.9 356.5,474.2 357.6,478 359.1,472.7 360.6,477.3 362.1,481.1 363.7,485.6 364.7,493.3 366,488.7 367.5,484.1 369,484.9 370.5,481.1 372.4,475 373.9,471.9 375.4,472.7 376.9,478 378.5,485.6 379.7,494.8 380.9,498.6 382.4,490.2 384,482.6 385.5,484.1 387.3,481.8 389.2,481.8 390.7,482.6 392.7,484.1 393.7,481.8 395,480 396.5,484.5 397.7,491.5 399,494.9 400.5,490.3 402.3,489.1 404.5,477.5 406,485.8 407.5,489.4 409.3,505.9 410.6,529.7 411.9,518.7 413.3,494.9 414.8,485.8 416.6,488.5 417.9,490.3 419.2,500.4 421,516.9 422.5,502.2 423.9,493.1 425.8,489.4 427.6,488 429.8,489.4 431.6,491.3 433.8,488 435,488.3 436.5,492.9 438.5,491.5 440.7,490.2 442.3,492.1 444.9,490.2 446.3,489.5 448.4,500.5 450.6,493.7" fill="none" stroke="#000" stroke-width="1.3" stroke-linejoin="round"/>
<polyline points="450.6,493.7 452.6,499 454.8,502 457.1,505.5 460.2,492.9" fill="none" stroke="#555" stroke-width="0.8" stroke-linejoin="round"/>
<polyline points="460.2,492.9 463.2,488.3 464.8,485.3 465.2,484.8" fill="none" stroke="#000" stroke-width="1.3" stroke-linejoin="round"/>
<text x="261" y="585" font-size="16" text-anchor="middle" fill="#000" stroke="#000" stroke-width="0.15">Wavelength (Å)</text>
<text transform="translate(12.3,393.9) rotate(-90)" font-size="16" text-anchor="middle" fill="#000" stroke="#000" stroke-width="0.15">Arbitrary unit</text>
</g>
</svg>
</body></html>
